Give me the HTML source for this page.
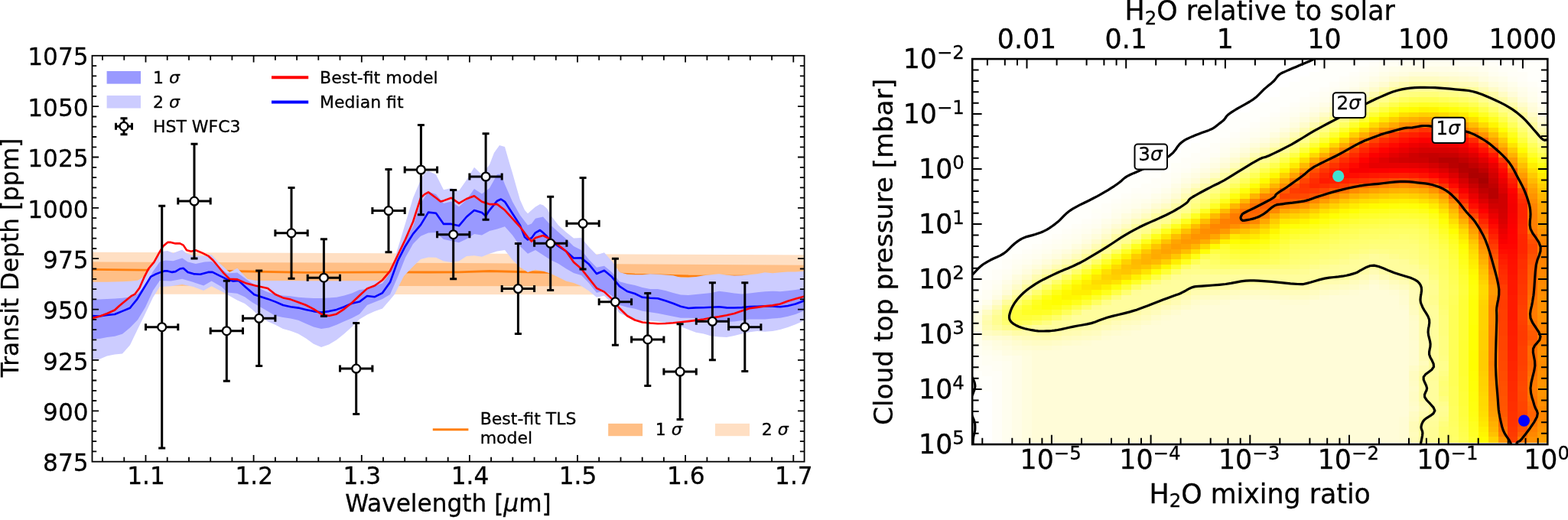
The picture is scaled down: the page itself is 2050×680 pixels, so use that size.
<!DOCTYPE html>
<html><head><meta charset="utf-8"><style>html,body{margin:0;padding:0;background:#fff;}svg{display:block;}svg text{stroke:#000;stroke-width:0.3px;}</style></head><body><svg width="2050" height="680" viewBox="0 0 2050 680" font-family="'DejaVu Sans', 'Liberation Sans', sans-serif"><rect width="2050" height="680" fill="#fff"/><defs><clipPath id="cl"><rect x="120.5" y="72.8" width="931.1" height="530.9"/></clipPath>
<clipPath id="cr"><rect x="1271.2" y="77.1" width="752.1" height="504"/></clipPath></defs>
<g clip-path="url(#cl)">
<path d="M120 329.7 L600 331.5 L1052 333.4 L1052 385.5 L120 384.7Z" fill="#ffdfc3"/>
<path d="M120 342.5 L600 344.1 L1052 346.8 L1052 374.5 L120 373.5Z" fill="#ffbf86"/>
<path d="M120 352.3 L300 354.5 L400 356.3 L500 355.8 L560 356 L600 355.9 L640 354.5 L700 356 L800 357.5 L830 359.2 L900 361 L950 361.1 L1052 361" fill="none" stroke="#ff7f0e" stroke-width="2.8"/>
<path d="M120 368.8 L130 368.8 L140 368.8 L150 368.4 L160 368.2 L170 367.8 L180 366.8 L190 360.6 L198.5 348.5 L205.9 336.8 L213.2 328.7 L219.1 327.9 L226.5 330.9 L238.2 326.5 L244.1 331.6 L252.9 334.6 L267.6 334.6 L276.5 333.1 L286.8 344.1 L300 355.9 L310.3 350.7 L323.5 364.7 L333.8 366.9 L400 367.3 L480 367.3 L500 367.3 L507 367 L520 325 L530 292 L540 259 L550 235.3 L555 225.9 L560 223.5 L570 228.2 L580 248.2 L590 245.9 L600 249.4 L610 235.3 L620 218.7 L630 228.5 L640 215.3 L646 199.8 L653 189.9 L660 192.1 L666 213.1 L670 226.3 L675 243.9 L680 261.6 L686 274.8 L690 279.2 L695 274.8 L700 270.4 L706 267.1 L710 268.2 L715 272.6 L720 281.4 L730 294.6 L740 303.5 L750 311.5 L760 311 L770 322.9 L780 333.2 L790 330.2 L800 341.5 L810 355.9 L820 358.7 L830 359.2 L840 359.2 L850 358.2 L860 358.7 L870 359.6 L880 360.2 L890 363 L900 363 L910 362.1 L920 360.2 L930 359.2 L940 358.2 L950 359.7 L960 360.6 L970 360.2 L980 359.2 L990 358.3 L1000 356.3 L1010 357.3 L1020 356.3 L1030 355.4 L1040 355.4 L1052 354.4 L1052 419 L1040 424.3 L1030 428.1 L1020 431 L1010 432.9 L1000 433.8 L990 432.9 L980 434.2 L970 436.6 L960 439 L950 440.9 L940 440.5 L930 439.5 L920 436.6 L910 434.7 L900 430.9 L890 427.1 L880 421.3 L870 422.3 L860 420.4 L850 419.4 L840 419.4 L830 418.5 L820 414 L810 409.4 L800 397.1 L790 386.8 L780 388.8 L770 380.6 L760 374 L750 370 L740 367.4 L730 362.5 L720 357.7 L710 354.4 L700 352.8 L690 356.1 L680 349.6 L670 339.9 L660 326.9 L650 328.5 L640 331.8 L630 335.8 L620 334.2 L610 335 L600 341.5 L590 343.1 L580 341.5 L570 336.8 L560 336.4 L550 339 L542 346.5 L528 361 L516 384.7 L510 392 L500 403.5 L490 407 L480 411.5 L470 417.4 L460 427.6 L450 436.5 L440 444.6 L430 450.4 L420 454.1 L410 449.7 L400 442.4 L390 436.5 L380 432.8 L370 429.9 L360 424.7 L350 420.3 L340 414.4 L330 405 L320 397.1 L310 392.6 L297.1 385.3 L289.7 380.9 L276.5 374.3 L266.2 380.1 L252.9 375 L238.2 372.1 L223.5 374.3 L208.8 375 L200 389 L190 410 L180 430.6 L170 451.2 L160 462.5 L150 463.5 L140 465.6 L130 469.7 L120 471.7Z" fill="#ccccff"/>
<path d="M120 391.5 L130 391.5 L140 391.1 L150 390.4 L160 389.8 L170 388.4 L180 384.3 L190 372.9 L200 355 L208.8 342.6 L216.2 340.4 L226.5 341.2 L238.2 337.5 L245.6 342.6 L255.9 344.9 L267.6 342.6 L276.5 341.9 L286.8 350 L297.1 357.4 L310.3 356.6 L323.5 366.2 L340 377.6 L350 382.1 L360 385 L370 386.5 L380 387.2 L390 388.7 L400 389.4 L410 389.9 L420 390.1 L430 389.4 L440 388.7 L450 386.5 L460 383.5 L470 379.1 L480 378 L490 374 L500 370.5 L510 357 L520 332 L530 314 L540 296 L550 266 L560 250.6 L570 254.1 L580 265.9 L590 263.5 L600 270.6 L610 261.2 L620 247 L630 253.5 L640 246.1 L650 228 L655 227.4 L660 241 L670 263.8 L680 281.4 L690 294.6 L695 292.4 L700 285.8 L710 283.6 L720 294.6 L730 303.5 L740 312.3 L750 322 L760 327.1 L770 339.4 L780 349.7 L790 347.7 L800 355.9 L810 368.3 L820 371 L830 373 L840 375.9 L850 378 L860 378 L870 380 L880 383 L890 385.4 L900 386 L910 385 L920 384.1 L930 383.1 L940 380.8 L950 382.1 L960 383.6 L970 384.5 L980 383.6 L990 382.2 L1000 381.2 L1010 380.8 L1020 381.2 L1030 380.3 L1040 378.9 L1052 377 L1052 406 L1040 410.9 L1030 413.7 L1020 415.7 L1010 416.6 L1000 417.6 L990 417.6 L980 417.6 L970 419 L960 420.4 L950 420.8 L940 420.4 L930 419.4 L920 417.5 L910 416.1 L900 415.7 L890 415.7 L880 413.8 L870 411.8 L860 409.8 L850 408.3 L840 406.7 L830 403.7 L820 401.8 L810 399.1 L800 386.8 L790 380.6 L780 382.7 L770 370.3 L760 360 L750 357 L740 351.2 L730 344.7 L720 339.9 L710 333.4 L700 326.9 L690 331.8 L680 322.1 L670 307.5 L660 296.2 L650 299.4 L640 302 L630 307.5 L620 306 L610 312.4 L600 317.2 L590 315 L580 313 L570 304 L560 304.5 L550 308.8 L540 319.1 L530 336.8 L520 362 L510 385 L500 391 L490 395 L480 399 L470 410.7 L460 415.9 L450 420.3 L440 424.7 L430 428.4 L420 429.9 L410 427.6 L400 423.2 L390 418.8 L380 416.6 L370 415.1 L360 412.9 L350 407.1 L340 401.2 L330 395.5 L320 388.2 L310 383.8 L297.1 382.4 L289.7 375 L276.5 367.6 L266.2 373.5 L252.9 369.1 L238.2 364.7 L223.5 367.6 L208.8 366.9 L200 380 L190 401.8 L180 418.2 L170 428.5 L160 436.7 L150 439.8 L140 440.9 L130 442.9 L120 442.9Z" fill="#9999ff"/>
<path d="M120 413.1 L130 413.5 L140 412 L150 411 L160 406.9 L170 402.8 L172.1 400 L179.4 391.2 L188.2 376.5 L197.1 361.8 L202.9 358.8 L210.3 355.9 L214.7 354.4 L219.1 354.4 L225 355.9 L229.4 355.1 L235.3 351.5 L239.7 350.7 L245.6 355.9 L252.9 358.1 L261.8 358.8 L272.1 355.9 L277.9 355.9 L286.8 360.3 L297.1 365.4 L304.4 367.6 L311.8 366.9 L320.6 375 L332.4 385.3 L350 390.9 L360 394.6 L370 399 L380 401.2 L390 402.6 L400 404.9 L410 407.1 L420 408.5 L430 407.1 L440 404.9 L450 401.2 L460 396.8 L470 394.6 L480 387 L490 388.2 L500 383.1 L510 369.1 L520 341.2 L530 321.7 L540 305.9 L550 294.1 L560 277.6 L570 278.8 L580 292.9 L590 292.9 L600 295.3 L610 283.5 L620 275 L630 278.1 L635 282.5 L640 274.8 L650 262.7 L655 260.5 L660 263.8 L670 279.2 L680 294.6 L686 310.1 L690 313.4 L695 311.2 L700 304.3 L706 301 L710 304.3 L715 309 L720 314.5 L730 322 L740 328.5 L750 337.5 L760 337.4 L770 345.6 L780 358 L790 353.8 L800 362.1 L810 374.4 L820 381 L830 384 L840 388.8 L850 389.8 L860 390.2 L870 393.3 L880 396.8 L890 400.7 L900 403 L910 402.4 L920 402.2 L930 401.8 L940 401.3 L950 402.4 L960 402.5 L970 402.1 L980 401 L990 400.7 L1000 400.4 L1010 400.4 L1020 401.3 L1030 400 L1040 397.5 L1052 393" fill="none" stroke="#0000ff" stroke-width="2.6" stroke-linejoin="round"/>
<path d="M120 416.2 L130 413.7 L140 410 L150 405.5 L155.9 400 L172.1 386.8 L176.5 384.6 L182.4 376.5 L188.2 363.2 L194.1 351.5 L201.5 342.6 L208.8 329.4 L213.2 322.1 L219.1 316.9 L223.5 316.9 L229.4 318.4 L235.3 318.4 L239.7 320.6 L244.1 327.2 L250 328.7 L255.9 327.2 L264.7 330.9 L272.1 334.6 L277.9 339.7 L285.3 348.5 L292.6 357.4 L300 364.7 L310.3 365.4 L322.1 370.6 L333.8 373.5 L350 376.9 L360 385 L370 389.4 L380 391.6 L390 395.3 L400 399 L410 404.1 L420 410.7 L430 412.9 L440 410.7 L450 404.1 L460 396 L470 386.5 L480 377.4 L490 373.5 L500 366.2 L510 354.4 L520 333.8 L530 313 L540 290 L550 258.8 L555 254.1 L560 251.3 L570 258.8 L576 263.5 L580 262.4 L590 258.8 L600 265.9 L610 260 L620 256.3 L630 263.7 L640 267.1 L650 267.1 L660 274.8 L670 285.8 L680 296.8 L690 310.1 L695 315.6 L700 311 L710 308 L720 313 L730 320.5 L740 328.5 L750 342.8 L760 351.5 L770 364.1 L780 376.8 L790 381.6 L800 390.9 L810 403.3 L820 413 L830 418.5 L840 421.5 L850 422.5 L860 423.2 L870 423 L880 422.3 L890 421.3 L900 420.1 L910 418.9 L920 417.5 L930 415.6 L940 414.1 L950 412.3 L960 409.9 L970 406.5 L980 403.2 L990 401.9 L1000 400.4 L1010 399.4 L1020 397.5 L1030 393.7 L1040 390.8 L1052 387.5" fill="none" stroke="#ff0000" stroke-width="2.6" stroke-linejoin="round"/>
</g>
<path d="M211.7 269.2V586.1M190.5 427.7H232.8M207.2 269.2H216.2M207.2 586.1H216.2M190.5 423.2V432.2M232.8 423.2V432.2M254 188.3V338M232.8 263.1H275.2M249.5 188.3H258.5M249.5 338H258.5M232.8 258.6V267.6M275.2 258.6V267.6M296.3 367.2V498.3M275.2 432.7H317.5M291.8 367.2H300.8M291.8 498.3H300.8M275.2 428.2V437.2M317.5 428.2V437.2M338.7 353.9V478.6M317.5 416.3H359.9M334.2 353.9H343.2M334.2 478.6H343.2M317.5 411.8V420.8M359.9 411.8V420.8M381 245.4V364.3M359.9 304.8H402.2M376.5 245.4H385.5M376.5 364.3H385.5M359.9 300.3V309.3M402.2 300.3V309.3M423.4 312.8V413.6M402.2 363.2H444.5M418.9 312.8H427.9M418.9 413.6H427.9M402.2 358.7V367.7M444.5 358.7V367.7M465.7 422.6V541.5M444.5 482.1H486.9M461.2 422.6H470.2M461.2 541.5H470.2M444.5 477.6V486.6M486.9 477.6V486.6M508 221.5V329.8M486.9 275.6H529.2M503.5 221.5H512.5M503.5 329.8H512.5M486.9 271.1V280.1M529.2 271.1V280.1M550.4 163.4V280.7M529.2 222H571.6M545.9 163.4H554.9M545.9 280.7H554.9M529.2 217.5V226.5M571.6 217.5V226.5M592.7 248.5V364.8M571.6 306.7H613.9M588.2 248.5H597.2M588.2 364.8H597.2M571.6 302.2V311.2M613.9 302.2V311.2M635.1 174.8V287.3M613.9 231H656.2M630.6 174.8H639.6M630.6 287.3H639.6M613.9 226.5V235.5M656.2 226.5V235.5M677.4 318.6V436.4M656.2 377.5H698.6M672.9 318.6H681.9M672.9 436.4H681.9M656.2 373V382M698.6 373V382M719.7 257.3V379.4M698.6 318.3H740.9M715.2 257.3H724.2M715.2 379.4H724.2M698.6 313.8V322.8M740.9 313.8V322.8M762.1 232.6V352.1M740.9 292.3H783.2M757.6 232.6H766.6M757.6 352.1H766.6M740.9 287.8V296.8M783.2 287.8V296.8M804.4 338.2V451.3M783.2 394.8H825.6M799.9 338.2H808.9M799.9 451.3H808.9M783.2 390.3V399.3M825.6 390.3V399.3M846.8 383.4V504.4M825.6 443.9H867.9M842.3 383.4H851.3M842.3 504.4H851.3M825.6 439.4V448.4M867.9 439.4V448.4M889.1 423.7V548.4M867.9 486.1H910.3M884.6 423.7H893.6M884.6 548.4H893.6M867.9 481.6V490.6M910.3 481.6V490.6M931.4 369.8V470.7M910.3 420.3H952.6M926.9 369.8H935.9M926.9 470.7H935.9M910.3 415.8V424.8M952.6 415.8V424.8M973.8 369.8V485.5M952.6 427.7H994.9M969.3 369.8H978.3M969.3 485.5H978.3M952.6 423.2V432.2M994.9 423.2V432.2" stroke="#000" stroke-width="3" fill="none"/>
<circle cx="211.7" cy="427.7" r="5.4" fill="#fff" stroke="#000" stroke-width="2.3"/>
<circle cx="254" cy="263.1" r="5.4" fill="#fff" stroke="#000" stroke-width="2.3"/>
<circle cx="296.3" cy="432.7" r="5.4" fill="#fff" stroke="#000" stroke-width="2.3"/>
<circle cx="338.7" cy="416.3" r="5.4" fill="#fff" stroke="#000" stroke-width="2.3"/>
<circle cx="381" cy="304.8" r="5.4" fill="#fff" stroke="#000" stroke-width="2.3"/>
<circle cx="423.4" cy="363.2" r="5.4" fill="#fff" stroke="#000" stroke-width="2.3"/>
<circle cx="465.7" cy="482.1" r="5.4" fill="#fff" stroke="#000" stroke-width="2.3"/>
<circle cx="508" cy="275.6" r="5.4" fill="#fff" stroke="#000" stroke-width="2.3"/>
<circle cx="550.4" cy="222" r="5.4" fill="#fff" stroke="#000" stroke-width="2.3"/>
<circle cx="592.7" cy="306.7" r="5.4" fill="#fff" stroke="#000" stroke-width="2.3"/>
<circle cx="635.1" cy="231" r="5.4" fill="#fff" stroke="#000" stroke-width="2.3"/>
<circle cx="677.4" cy="377.5" r="5.4" fill="#fff" stroke="#000" stroke-width="2.3"/>
<circle cx="719.7" cy="318.3" r="5.4" fill="#fff" stroke="#000" stroke-width="2.3"/>
<circle cx="762.1" cy="292.3" r="5.4" fill="#fff" stroke="#000" stroke-width="2.3"/>
<circle cx="804.4" cy="394.8" r="5.4" fill="#fff" stroke="#000" stroke-width="2.3"/>
<circle cx="846.8" cy="443.9" r="5.4" fill="#fff" stroke="#000" stroke-width="2.3"/>
<circle cx="889.1" cy="486.1" r="5.4" fill="#fff" stroke="#000" stroke-width="2.3"/>
<circle cx="931.4" cy="420.3" r="5.4" fill="#fff" stroke="#000" stroke-width="2.3"/>
<circle cx="973.8" cy="427.7" r="5.4" fill="#fff" stroke="#000" stroke-width="2.3"/>
<rect x="120.5" y="72.8" width="931.1" height="530.9" fill="none" stroke="#000" stroke-width="1.8"/>
<path d="M120.5 590.4h5.7M1051.6 590.4h-5.7M120.5 577.1h5.7M1051.6 577.1h-5.7M120.5 563.8h5.7M1051.6 563.8h-5.7M120.5 550.6h5.7M1051.6 550.6h-5.7M120.5 537.3h8.6M1051.6 537.3h-8.6M120.5 524h5.7M1051.6 524h-5.7M120.5 510.8h5.7M1051.6 510.8h-5.7M120.5 497.5h5.7M1051.6 497.5h-5.7M120.5 484.2h5.7M1051.6 484.2h-5.7M120.5 470.9h8.6M1051.6 470.9h-8.6M120.5 457.7h5.7M1051.6 457.7h-5.7M120.5 444.4h5.7M1051.6 444.4h-5.7M120.5 431.1h5.7M1051.6 431.1h-5.7M120.5 417.9h5.7M1051.6 417.9h-5.7M120.5 404.6h8.6M1051.6 404.6h-8.6M120.5 391.3h5.7M1051.6 391.3h-5.7M120.5 378.1h5.7M1051.6 378.1h-5.7M120.5 364.8h5.7M1051.6 364.8h-5.7M120.5 351.5h5.7M1051.6 351.5h-5.7M120.5 338.2h8.6M1051.6 338.2h-8.6M120.5 325h5.7M1051.6 325h-5.7M120.5 311.7h5.7M1051.6 311.7h-5.7M120.5 298.4h5.7M1051.6 298.4h-5.7M120.5 285.2h5.7M1051.6 285.2h-5.7M120.5 271.9h8.6M1051.6 271.9h-8.6M120.5 258.6h5.7M1051.6 258.6h-5.7M120.5 245.4h5.7M1051.6 245.4h-5.7M120.5 232.1h5.7M1051.6 232.1h-5.7M120.5 218.8h5.7M1051.6 218.8h-5.7M120.5 205.5h8.6M1051.6 205.5h-8.6M120.5 192.3h5.7M1051.6 192.3h-5.7M120.5 179h5.7M1051.6 179h-5.7M120.5 165.7h5.7M1051.6 165.7h-5.7M120.5 152.5h5.7M1051.6 152.5h-5.7M120.5 139.2h8.6M1051.6 139.2h-8.6M120.5 125.9h5.7M1051.6 125.9h-5.7M120.5 112.7h5.7M1051.6 112.7h-5.7M120.5 99.4h5.7M1051.6 99.4h-5.7M120.5 86.1h5.7M1051.6 86.1h-5.7M134 603.7v-5.9M134 72.8v5.9M162.3 603.7v-5.9M162.3 72.8v5.9M190.5 603.7v-8.6M190.5 72.8v8.6M218.7 603.7v-5.9M218.7 72.8v5.9M247 603.7v-5.9M247 72.8v5.9M275.2 603.7v-5.9M275.2 72.8v5.9M303.4 603.7v-5.9M303.4 72.8v5.9M331.6 603.7v-8.6M331.6 72.8v8.6M359.9 603.7v-5.9M359.9 72.8v5.9M388.1 603.7v-5.9M388.1 72.8v5.9M416.3 603.7v-5.9M416.3 72.8v5.9M444.5 603.7v-5.9M444.5 72.8v5.9M472.8 603.7v-8.6M472.8 72.8v8.6M501 603.7v-5.9M501 72.8v5.9M529.2 603.7v-5.9M529.2 72.8v5.9M557.4 603.7v-5.9M557.4 72.8v5.9M585.7 603.7v-5.9M585.7 72.8v5.9M613.9 603.7v-8.6M613.9 72.8v8.6M642.1 603.7v-5.9M642.1 72.8v5.9M670.3 603.7v-5.9M670.3 72.8v5.9M698.6 603.7v-5.9M698.6 72.8v5.9M726.8 603.7v-5.9M726.8 72.8v5.9M755 603.7v-8.6M755 72.8v8.6M783.2 603.7v-5.9M783.2 72.8v5.9M811.5 603.7v-5.9M811.5 72.8v5.9M839.7 603.7v-5.9M839.7 72.8v5.9M867.9 603.7v-5.9M867.9 72.8v5.9M896.1 603.7v-8.6M896.1 72.8v8.6M924.4 603.7v-5.9M924.4 72.8v5.9M952.6 603.7v-5.9M952.6 72.8v5.9M980.8 603.7v-5.9M980.8 72.8v5.9M1009.1 603.7v-5.9M1009.1 72.8v5.9M1037.3 603.7v-8.6M1037.3 72.8v8.6" stroke="#000" stroke-width="1.8" fill="none"/>
<text x="115.6" y="616.2" font-size="31.2" text-anchor="end">875</text>
<text x="115.6" y="549.9" font-size="31.2" text-anchor="end">900</text>
<text x="115.6" y="483.5" font-size="31.2" text-anchor="end">925</text>
<text x="115.6" y="417.2" font-size="31.2" text-anchor="end">950</text>
<text x="115.6" y="350.9" font-size="31.2" text-anchor="end">975</text>
<text x="115.6" y="284.5" font-size="31.2" text-anchor="end">1000</text>
<text x="115.6" y="218.1" font-size="31.2" text-anchor="end">1025</text>
<text x="115.6" y="151.8" font-size="31.2" text-anchor="end">1050</text>
<text x="115.6" y="85.4" font-size="31.2" text-anchor="end">1075</text>
<text x="191.1" y="632.6" font-size="31.2" text-anchor="middle">1.1</text>
<text x="332.2" y="632.6" font-size="31.2" text-anchor="middle">1.2</text>
<text x="473.4" y="632.6" font-size="31.2" text-anchor="middle">1.3</text>
<text x="614.5" y="632.6" font-size="31.2" text-anchor="middle">1.4</text>
<text x="755.6" y="632.6" font-size="31.2" text-anchor="middle">1.5</text>
<text x="896.8" y="632.6" font-size="31.2" text-anchor="middle">1.6</text>
<text x="1037.9" y="632.6" font-size="31.2" text-anchor="middle">1.7</text>
<text x="586" y="669.2" font-size="31.2" text-anchor="middle">Wavelength [<tspan font-style="italic">μ</tspan>m]</text>
<text transform="translate(23.8 337.0) rotate(-90)" font-size="31.2" text-anchor="middle">Transit Depth [ppm]</text>
<rect x="139.6" y="93" width="44.4" height="16.6" fill="#9999ff"/>
<rect x="139.6" y="124.9" width="44.4" height="16.6" fill="#ccccff"/>
<text x="199.9" y="108.7" font-size="22">1 <tspan font-style="italic">σ</tspan></text>
<text x="199.9" y="140.6" font-size="22">2 <tspan font-style="italic">σ</tspan></text>
<text x="199.9" y="173.1" font-size="22">HST WFC3</text>
<path d="M162 154.7V175.7M151.5 165.2H172.5M157.5 154.7H166.5M157.5 175.7H166.5M151.5 160.7V169.7M172.5 160.7V169.7" stroke="#000" stroke-width="3" fill="none"/>
<circle cx="162" cy="165.2" r="5.4" fill="#fff" stroke="#000" stroke-width="2.3"/>
<path d="M355 101.3H403.2" stroke="#ff0000" stroke-width="4"/>
<path d="M355 133.4H403.2" stroke="#0000ff" stroke-width="4"/>
<text x="418.1" y="108.7" font-size="22">Best-fit model</text>
<text x="418.1" y="140.6" font-size="22">Median fit</text>
<path d="M565.8 561.8H612.4" stroke="#ff7f0e" stroke-width="2.9"/>
<text x="627.7" y="555.1" font-size="22">Best-fit TLS</text>
<text x="627.7" y="579.7" font-size="22">model</text>
<rect x="795.2" y="553.9" width="44.9" height="16.3" fill="#ffbf86"/>
<rect x="935" y="553.9" width="45" height="16.3" fill="#ffdfc3"/>
<text x="856.7" y="569" font-size="22">1 <tspan font-style="italic">σ</tspan></text>
<text x="995.8" y="569" font-size="22">2 <tspan font-style="italic">σ</tspan></text>
<g clip-path="url(#cr)" shape-rendering="crispEdges"><rect x="1738" y="73.8" width="65.6" height="7.4" fill="#fffffb"/><rect x="1802.9" y="73.8" width="39.7" height="7.4" fill="#fffef7"/><rect x="1841.8" y="73.8" width="52.7" height="7.4" fill="#fffef3"/><rect x="1893.6" y="73.8" width="52.7" height="7.4" fill="#fffef7"/><rect x="1945.5" y="73.8" width="78.6" height="7.4" fill="#fffffb"/><rect x="1725.1" y="80.4" width="65.6" height="7.4" fill="#fffffb"/><rect x="1789.9" y="80.4" width="13.8" height="7.4" fill="#fffef7"/><rect x="1802.9" y="80.4" width="26.7" height="7.4" fill="#fffef3"/><rect x="1828.8" y="80.4" width="78.6" height="7.4" fill="#fffeef"/><rect x="1906.6" y="80.4" width="39.7" height="7.4" fill="#fffef3"/><rect x="1945.5" y="80.4" width="13.8" height="7.4" fill="#fffef7"/><rect x="1958.5" y="80.4" width="65.6" height="7.4" fill="#fffffb"/><rect x="1725.1" y="87" width="52.7" height="7.4" fill="#fffffb"/><rect x="1776.9" y="87" width="13.8" height="7.4" fill="#fffef7"/><rect x="1789.9" y="87" width="13.8" height="7.4" fill="#fffef3"/><rect x="1802.9" y="87" width="13.8" height="7.4" fill="#fffeef"/><rect x="1815.8" y="87" width="13.8" height="7.4" fill="#fffeeb"/><rect x="1828.8" y="87" width="13.8" height="7.4" fill="#fffee7"/><rect x="1841.8" y="87" width="52.7" height="7.4" fill="#fffde7"/><rect x="1893.6" y="87" width="13.8" height="7.4" fill="#fffee7"/><rect x="1906.6" y="87" width="26.7" height="7.4" fill="#fffeeb"/><rect x="1932.5" y="87" width="13.8" height="7.4" fill="#fffeef"/><rect x="1945.5" y="87" width="13.8" height="7.4" fill="#fffef3"/><rect x="1958.5" y="87" width="13.8" height="7.4" fill="#fffef7"/><rect x="1971.4" y="87" width="13.8" height="7.4" fill="#fffff7"/><rect x="1984.4" y="87" width="39.7" height="7.4" fill="#fffffb"/><rect x="1712.1" y="93.7" width="52.7" height="7.4" fill="#fffffb"/><rect x="1764" y="93.7" width="13.8" height="7.4" fill="#fffef7"/><rect x="1776.9" y="93.7" width="13.8" height="7.4" fill="#fffef3"/><rect x="1789.9" y="93.7" width="13.8" height="7.4" fill="#fffeef"/><rect x="1802.9" y="93.7" width="13.8" height="7.4" fill="#fffee7"/><rect x="1815.8" y="93.7" width="13.8" height="7.4" fill="#fffde3"/><rect x="1828.8" y="93.7" width="13.8" height="7.4" fill="#fffddf"/><rect x="1841.8" y="93.7" width="39.7" height="7.4" fill="#fffdd8"/><rect x="1880.7" y="93.7" width="26.7" height="7.4" fill="#fffddc"/><rect x="1906.6" y="93.7" width="13.8" height="7.4" fill="#fffddf"/><rect x="1919.6" y="93.7" width="13.8" height="7.4" fill="#fffde3"/><rect x="1932.5" y="93.7" width="13.8" height="7.4" fill="#fffde7"/><rect x="1945.5" y="93.7" width="13.8" height="7.4" fill="#fffeef"/><rect x="1958.5" y="93.7" width="13.8" height="7.4" fill="#fffef3"/><rect x="1971.4" y="93.7" width="26.7" height="7.4" fill="#fffef7"/><rect x="1997.4" y="93.7" width="26.7" height="7.4" fill="#fffffb"/><rect x="1699.1" y="100.3" width="52.7" height="7.4" fill="#fffffb"/><rect x="1751" y="100.3" width="13.8" height="7.4" fill="#fffef7"/><rect x="1764" y="100.3" width="13.8" height="7.4" fill="#fffef3"/><rect x="1776.9" y="100.3" width="13.8" height="7.4" fill="#fffeef"/><rect x="1789.9" y="100.3" width="13.8" height="7.4" fill="#fffde7"/><rect x="1802.9" y="100.3" width="13.8" height="7.4" fill="#fffddf"/><rect x="1815.8" y="100.3" width="13.8" height="7.4" fill="#fffcd4"/><rect x="1828.8" y="100.3" width="13.8" height="7.4" fill="#fffccc"/><rect x="1841.8" y="100.3" width="39.7" height="7.4" fill="#fffcc4"/><rect x="1880.7" y="100.3" width="13.8" height="7.4" fill="#fffcc8"/><rect x="1893.6" y="100.3" width="13.8" height="7.4" fill="#fffccc"/><rect x="1906.6" y="100.3" width="13.8" height="7.4" fill="#fffcd0"/><rect x="1919.6" y="100.3" width="13.8" height="7.4" fill="#fffcd4"/><rect x="1932.5" y="100.3" width="13.8" height="7.4" fill="#fffddf"/><rect x="1945.5" y="100.3" width="13.8" height="7.4" fill="#fffde7"/><rect x="1958.5" y="100.3" width="13.8" height="7.4" fill="#fffeeb"/><rect x="1971.4" y="100.3" width="13.8" height="7.4" fill="#fffef3"/><rect x="1984.4" y="100.3" width="13.8" height="7.4" fill="#fffef7"/><rect x="1997.4" y="100.3" width="26.7" height="7.4" fill="#fffffb"/><rect x="1686.2" y="106.9" width="52.7" height="7.4" fill="#fffffb"/><rect x="1738" y="106.9" width="13.8" height="7.4" fill="#fffef7"/><rect x="1751" y="106.9" width="13.8" height="7.4" fill="#fffef3"/><rect x="1764" y="106.9" width="13.8" height="7.4" fill="#fffeef"/><rect x="1776.9" y="106.9" width="13.8" height="7.4" fill="#fffde7"/><rect x="1789.9" y="106.9" width="13.8" height="7.4" fill="#fffddc"/><rect x="1802.9" y="106.9" width="13.8" height="7.4" fill="#fffcd0"/><rect x="1815.8" y="106.9" width="13.8" height="7.4" fill="#fffcbc"/><rect x="1828.8" y="106.9" width="13.8" height="7.4" fill="#fffcb0"/><rect x="1841.8" y="106.9" width="39.7" height="7.4" fill="#fffda4"/><rect x="1880.7" y="106.9" width="13.8" height="7.4" fill="#fffca8"/><rect x="1893.6" y="106.9" width="13.8" height="7.4" fill="#fffcb0"/><rect x="1906.6" y="106.9" width="13.8" height="7.4" fill="#fffcb8"/><rect x="1919.6" y="106.9" width="13.8" height="7.4" fill="#fffcbc"/><rect x="1932.5" y="106.9" width="13.8" height="7.4" fill="#fffccc"/><rect x="1945.5" y="106.9" width="13.8" height="7.4" fill="#fffddc"/><rect x="1958.5" y="106.9" width="13.8" height="7.4" fill="#fffde3"/><rect x="1971.4" y="106.9" width="13.8" height="7.4" fill="#fffeeb"/><rect x="1984.4" y="106.9" width="13.8" height="7.4" fill="#fffef3"/><rect x="1997.4" y="106.9" width="13.8" height="7.4" fill="#fffef7"/><rect x="2010.3" y="106.9" width="13.8" height="7.4" fill="#fffffb"/><rect x="1673.2" y="113.6" width="52.7" height="7.4" fill="#fffffb"/><rect x="1725.1" y="113.6" width="13.8" height="7.4" fill="#fffef7"/><rect x="1738" y="113.6" width="13.8" height="7.4" fill="#fffef3"/><rect x="1751" y="113.6" width="13.8" height="7.4" fill="#fffeef"/><rect x="1764" y="113.6" width="13.8" height="7.4" fill="#fffde7"/><rect x="1776.9" y="113.6" width="13.8" height="7.4" fill="#fffddc"/><rect x="1789.9" y="113.6" width="13.8" height="7.4" fill="#fffccc"/><rect x="1802.9" y="113.6" width="13.8" height="7.4" fill="#fffcb4"/><rect x="1815.8" y="113.6" width="13.8" height="7.4" fill="#fffd99"/><rect x="1828.8" y="113.6" width="13.8" height="7.4" fill="#fffe85"/><rect x="1841.8" y="113.6" width="52.7" height="7.4" fill="#fffd99"/><rect x="1893.6" y="113.6" width="13.8" height="7.4" fill="#fffd9d"/><rect x="1906.6" y="113.6" width="13.8" height="7.4" fill="#fffe8d"/><rect x="1919.6" y="113.6" width="13.8" height="7.4" fill="#fffd99"/><rect x="1932.5" y="113.6" width="13.8" height="7.4" fill="#fffcb4"/><rect x="1945.5" y="113.6" width="13.8" height="7.4" fill="#fffcc8"/><rect x="1958.5" y="113.6" width="13.8" height="7.4" fill="#fffcd8"/><rect x="1971.4" y="113.6" width="13.8" height="7.4" fill="#fffde3"/><rect x="1984.4" y="113.6" width="13.8" height="7.4" fill="#fffeeb"/><rect x="1997.4" y="113.6" width="13.8" height="7.4" fill="#fffef3"/><rect x="2010.3" y="113.6" width="13.8" height="7.4" fill="#fffef7"/><rect x="1673.2" y="120.2" width="39.7" height="7.4" fill="#fffffb"/><rect x="1712.1" y="120.2" width="13.8" height="7.4" fill="#fffef7"/><rect x="1725.1" y="120.2" width="13.8" height="7.4" fill="#fffef3"/><rect x="1738" y="120.2" width="13.8" height="7.4" fill="#fffeef"/><rect x="1751" y="120.2" width="13.8" height="7.4" fill="#fffde7"/><rect x="1764" y="120.2" width="13.8" height="7.4" fill="#fffddc"/><rect x="1776.9" y="120.2" width="13.8" height="7.4" fill="#fffcc8"/><rect x="1789.9" y="120.2" width="13.8" height="7.4" fill="#fffcb0"/><rect x="1802.9" y="120.2" width="13.8" height="7.4" fill="#fffd8d"/><rect x="1815.8" y="120.2" width="13.8" height="7.4" fill="#fffd95"/><rect x="1828.8" y="120.2" width="13.8" height="7.4" fill="#fffe85"/><rect x="1841.8" y="120.2" width="13.8" height="7.4" fill="#fffe7d"/><rect x="1854.7" y="120.2" width="26.7" height="7.4" fill="#fffe79"/><rect x="1880.7" y="120.2" width="13.8" height="7.4" fill="#fffe81"/><rect x="1893.6" y="120.2" width="13.8" height="7.4" fill="#fffe85"/><rect x="1906.6" y="120.2" width="13.8" height="7.4" fill="#fffe8d"/><rect x="1919.6" y="120.2" width="13.8" height="7.4" fill="#fffd95"/><rect x="1932.5" y="120.2" width="13.8" height="7.4" fill="#fffe8d"/><rect x="1945.5" y="120.2" width="13.8" height="7.4" fill="#fffca8"/><rect x="1958.5" y="120.2" width="13.8" height="7.4" fill="#fffcc4"/><rect x="1971.4" y="120.2" width="13.8" height="7.4" fill="#fffcd8"/><rect x="1984.4" y="120.2" width="13.8" height="7.4" fill="#fffde7"/><rect x="1997.4" y="120.2" width="13.8" height="7.4" fill="#fffeef"/><rect x="2010.3" y="120.2" width="13.8" height="7.4" fill="#fffef7"/><rect x="1660.2" y="126.8" width="39.7" height="7.4" fill="#fffffb"/><rect x="1699.1" y="126.8" width="13.8" height="7.4" fill="#fffef7"/><rect x="1712.1" y="126.8" width="13.8" height="7.4" fill="#fffef3"/><rect x="1725.1" y="126.8" width="13.8" height="7.4" fill="#fffeef"/><rect x="1738" y="126.8" width="13.8" height="7.4" fill="#fffde7"/><rect x="1751" y="126.8" width="13.8" height="7.4" fill="#fffddc"/><rect x="1764" y="126.8" width="13.8" height="7.4" fill="#fffcc8"/><rect x="1776.9" y="126.8" width="13.8" height="7.4" fill="#fffcac"/><rect x="1789.9" y="126.8" width="13.8" height="7.4" fill="#fffe89"/><rect x="1802.9" y="126.8" width="13.8" height="7.4" fill="#fffe8d"/><rect x="1815.8" y="126.8" width="13.8" height="7.4" fill="#ffff75"/><rect x="1828.8" y="126.8" width="13.8" height="7.4" fill="#ffff61"/><rect x="1841.8" y="126.8" width="13.8" height="7.4" fill="#ffff56"/><rect x="1854.7" y="126.8" width="26.7" height="7.4" fill="#ffff52"/><rect x="1880.7" y="126.8" width="13.8" height="7.4" fill="#ffff5a"/><rect x="1893.6" y="126.8" width="13.8" height="7.4" fill="#ffff61"/><rect x="1906.6" y="126.8" width="13.8" height="7.4" fill="#ffff69"/><rect x="1919.6" y="126.8" width="13.8" height="7.4" fill="#fffe75"/><rect x="1932.5" y="126.8" width="13.8" height="7.4" fill="#fffe8d"/><rect x="1945.5" y="126.8" width="13.8" height="7.4" fill="#fffd9d"/><rect x="1958.5" y="126.8" width="13.8" height="7.4" fill="#fffca8"/><rect x="1971.4" y="126.8" width="13.8" height="7.4" fill="#fffcc4"/><rect x="1984.4" y="126.8" width="13.8" height="7.4" fill="#fffddc"/><rect x="1997.4" y="126.8" width="13.8" height="7.4" fill="#fffeeb"/><rect x="2010.3" y="126.8" width="13.8" height="7.4" fill="#fffef3"/><rect x="1647.2" y="133.5" width="39.7" height="7.4" fill="#fffffb"/><rect x="1686.2" y="133.5" width="13.8" height="7.4" fill="#fffef7"/><rect x="1699.1" y="133.5" width="13.8" height="7.4" fill="#fffef3"/><rect x="1712.1" y="133.5" width="13.8" height="7.4" fill="#fffeef"/><rect x="1725.1" y="133.5" width="13.8" height="7.4" fill="#fffde7"/><rect x="1738" y="133.5" width="13.8" height="7.4" fill="#fffddc"/><rect x="1751" y="133.5" width="13.8" height="7.4" fill="#fffcc8"/><rect x="1764" y="133.5" width="13.8" height="7.4" fill="#fffcac"/><rect x="1776.9" y="133.5" width="13.8" height="7.4" fill="#fffe85"/><rect x="1789.9" y="133.5" width="13.8" height="7.4" fill="#fffe89"/><rect x="1802.9" y="133.5" width="13.8" height="7.4" fill="#ffff69"/><rect x="1815.8" y="133.5" width="13.8" height="7.4" fill="#ffff4e"/><rect x="1828.8" y="133.5" width="13.8" height="7.4" fill="#ffff36"/><rect x="1841.8" y="133.5" width="13.8" height="7.4" fill="#ffff2a"/><rect x="1854.7" y="133.5" width="13.8" height="7.4" fill="#ffff22"/><rect x="1867.7" y="133.5" width="13.8" height="7.4" fill="#ffff26"/><rect x="1880.7" y="133.5" width="13.8" height="7.4" fill="#ffff2e"/><rect x="1893.6" y="133.5" width="13.8" height="7.4" fill="#ffff36"/><rect x="1906.6" y="133.5" width="13.8" height="7.4" fill="#ffff42"/><rect x="1919.6" y="133.5" width="13.8" height="7.4" fill="#ffff52"/><rect x="1932.5" y="133.5" width="13.8" height="7.4" fill="#ffff6d"/><rect x="1945.5" y="133.5" width="13.8" height="7.4" fill="#fffe89"/><rect x="1958.5" y="133.5" width="13.8" height="7.4" fill="#fffd9d"/><rect x="1971.4" y="133.5" width="13.8" height="7.4" fill="#fffcac"/><rect x="1984.4" y="133.5" width="13.8" height="7.4" fill="#fffccc"/><rect x="1997.4" y="133.5" width="13.8" height="7.4" fill="#fffddf"/><rect x="2010.3" y="133.5" width="13.8" height="7.4" fill="#fffeef"/><rect x="1634.3" y="140.1" width="39.7" height="7.4" fill="#fffffb"/><rect x="1673.2" y="140.1" width="13.8" height="7.4" fill="#fffef7"/><rect x="1686.2" y="140.1" width="13.8" height="7.4" fill="#fffef3"/><rect x="1699.1" y="140.1" width="13.8" height="7.4" fill="#fffeef"/><rect x="1712.1" y="140.1" width="13.8" height="7.4" fill="#fffde7"/><rect x="1725.1" y="140.1" width="13.8" height="7.4" fill="#fffddc"/><rect x="1738" y="140.1" width="13.8" height="7.4" fill="#fffcc8"/><rect x="1751" y="140.1" width="13.8" height="7.4" fill="#fffcac"/><rect x="1764" y="140.1" width="26.7" height="7.4" fill="#fffe85"/><rect x="1789.9" y="140.1" width="13.8" height="7.4" fill="#ffff61"/><rect x="1802.9" y="140.1" width="13.8" height="7.4" fill="#ffff42"/><rect x="1815.8" y="140.1" width="13.8" height="7.4" fill="#ffff22"/><rect x="1828.8" y="140.1" width="13.8" height="7.4" fill="#ffff07"/><rect x="1841.8" y="140.1" width="13.8" height="7.4" fill="#fffc00"/><rect x="1854.7" y="140.1" width="13.8" height="7.4" fill="#fff400"/><rect x="1867.7" y="140.1" width="13.8" height="7.4" fill="#fff600"/><rect x="1880.7" y="140.1" width="13.8" height="7.4" fill="#fffe00"/><rect x="1893.6" y="140.1" width="13.8" height="7.4" fill="#ffff0b"/><rect x="1906.6" y="140.1" width="13.8" height="7.4" fill="#ffff17"/><rect x="1919.6" y="140.1" width="13.8" height="7.4" fill="#ffff2a"/><rect x="1932.5" y="140.1" width="13.8" height="7.4" fill="#ffff4a"/><rect x="1945.5" y="140.1" width="13.8" height="7.4" fill="#ffff69"/><rect x="1958.5" y="140.1" width="13.8" height="7.4" fill="#fffe89"/><rect x="1971.4" y="140.1" width="13.8" height="7.4" fill="#fffe85"/><rect x="1984.4" y="140.1" width="13.8" height="7.4" fill="#fffcb8"/><rect x="1997.4" y="140.1" width="13.8" height="7.4" fill="#fffcd8"/><rect x="2010.3" y="140.1" width="13.8" height="7.4" fill="#fffee7"/><rect x="1621.3" y="146.7" width="39.7" height="7.4" fill="#fffffb"/><rect x="1660.2" y="146.7" width="13.8" height="7.4" fill="#fffef7"/><rect x="1673.2" y="146.7" width="13.8" height="7.4" fill="#fffef3"/><rect x="1686.2" y="146.7" width="13.8" height="7.4" fill="#fffeef"/><rect x="1699.1" y="146.7" width="13.8" height="7.4" fill="#fffde7"/><rect x="1712.1" y="146.7" width="13.8" height="7.4" fill="#fffddc"/><rect x="1725.1" y="146.7" width="13.8" height="7.4" fill="#fffcc8"/><rect x="1738" y="146.7" width="13.8" height="7.4" fill="#fffcb0"/><rect x="1751" y="146.7" width="26.7" height="7.4" fill="#fffe85"/><rect x="1776.9" y="146.7" width="13.8" height="7.4" fill="#ffff61"/><rect x="1789.9" y="146.7" width="13.8" height="7.4" fill="#ffff36"/><rect x="1802.9" y="146.7" width="13.8" height="7.4" fill="#ffff13"/><rect x="1815.8" y="146.7" width="13.8" height="7.4" fill="#fff400"/><rect x="1828.8" y="146.7" width="13.8" height="7.4" fill="#ffdf00"/><rect x="1841.8" y="146.7" width="13.8" height="7.4" fill="#ffd700"/><rect x="1854.7" y="146.7" width="13.8" height="7.4" fill="#ffcf00"/><rect x="1867.7" y="146.7" width="13.8" height="7.4" fill="#ffd200"/><rect x="1880.7" y="146.7" width="13.8" height="7.4" fill="#ffda00"/><rect x="1893.6" y="146.7" width="13.8" height="7.4" fill="#ffe400"/><rect x="1906.6" y="146.7" width="13.8" height="7.4" fill="#ffec00"/><rect x="1919.6" y="146.7" width="13.8" height="7.4" fill="#fffe00"/><rect x="1932.5" y="146.7" width="13.8" height="7.4" fill="#ffff22"/><rect x="1945.5" y="146.7" width="13.8" height="7.4" fill="#ffff46"/><rect x="1958.5" y="146.7" width="13.8" height="7.4" fill="#ffff69"/><rect x="1971.4" y="146.7" width="13.8" height="7.4" fill="#fffd8d"/><rect x="1984.4" y="146.7" width="13.8" height="7.4" fill="#fffd99"/><rect x="1997.4" y="146.7" width="13.8" height="7.4" fill="#fffcc8"/><rect x="2010.3" y="146.7" width="13.8" height="7.4" fill="#fffde3"/><rect x="1608.3" y="153.4" width="39.7" height="7.4" fill="#fffffb"/><rect x="1647.2" y="153.4" width="13.8" height="7.4" fill="#fffef7"/><rect x="1660.2" y="153.4" width="13.8" height="7.4" fill="#fffef3"/><rect x="1673.2" y="153.4" width="13.8" height="7.4" fill="#fffeef"/><rect x="1686.2" y="153.4" width="13.8" height="7.4" fill="#fffde7"/><rect x="1699.1" y="153.4" width="13.8" height="7.4" fill="#fffddc"/><rect x="1712.1" y="153.4" width="13.8" height="7.4" fill="#fffccc"/><rect x="1725.1" y="153.4" width="13.8" height="7.4" fill="#fffcb0"/><rect x="1738" y="153.4" width="26.7" height="7.4" fill="#fffe85"/><rect x="1764" y="153.4" width="13.8" height="7.4" fill="#ffff5e"/><rect x="1776.9" y="153.4" width="13.8" height="7.4" fill="#ffff32"/><rect x="1789.9" y="153.4" width="13.8" height="7.4" fill="#ffff03"/><rect x="1802.9" y="153.4" width="13.8" height="7.4" fill="#ffe700"/><rect x="1815.8" y="153.4" width="13.8" height="7.4" fill="#ffcf00"/><rect x="1828.8" y="153.4" width="13.8" height="7.4" fill="#ffba00"/><rect x="1841.8" y="153.4" width="13.8" height="7.4" fill="#ffb200"/><rect x="1854.7" y="153.4" width="13.8" height="7.4" fill="#ffa800"/><rect x="1867.7" y="153.4" width="13.8" height="7.4" fill="#ffaa00"/><rect x="1880.7" y="153.4" width="13.8" height="7.4" fill="#ffb500"/><rect x="1893.6" y="153.4" width="13.8" height="7.4" fill="#ffbf00"/><rect x="1906.6" y="153.4" width="13.8" height="7.4" fill="#ffca00"/><rect x="1919.6" y="153.4" width="13.8" height="7.4" fill="#ffdf00"/><rect x="1932.5" y="153.4" width="13.8" height="7.4" fill="#fff900"/><rect x="1945.5" y="153.4" width="13.8" height="7.4" fill="#ffff1f"/><rect x="1958.5" y="153.4" width="13.8" height="7.4" fill="#ffff4a"/><rect x="1971.4" y="153.4" width="13.8" height="7.4" fill="#fffe75"/><rect x="1984.4" y="153.4" width="13.8" height="7.4" fill="#fffd99"/><rect x="1997.4" y="153.4" width="13.8" height="7.4" fill="#fffcb4"/><rect x="2010.3" y="153.4" width="13.8" height="7.4" fill="#fffcd8"/><rect x="1595.4" y="160" width="39.7" height="7.4" fill="#fffffb"/><rect x="1634.3" y="160" width="13.8" height="7.4" fill="#fffef7"/><rect x="1647.2" y="160" width="13.8" height="7.4" fill="#fffef3"/><rect x="1660.2" y="160" width="13.8" height="7.4" fill="#fffeef"/><rect x="1673.2" y="160" width="13.8" height="7.4" fill="#fffeeb"/><rect x="1686.2" y="160" width="13.8" height="7.4" fill="#fffddf"/><rect x="1699.1" y="160" width="13.8" height="7.4" fill="#fffccc"/><rect x="1712.1" y="160" width="13.8" height="7.4" fill="#fffcb0"/><rect x="1725.1" y="160" width="13.8" height="7.4" fill="#fffe89"/><rect x="1738" y="160" width="13.8" height="7.4" fill="#fffe85"/><rect x="1751" y="160" width="13.8" height="7.4" fill="#ffff5e"/><rect x="1764" y="160" width="13.8" height="7.4" fill="#ffff2e"/><rect x="1776.9" y="160" width="13.8" height="7.4" fill="#fffc00"/><rect x="1789.9" y="160" width="13.8" height="7.4" fill="#ffdc00"/><rect x="1802.9" y="160" width="13.8" height="7.4" fill="#ffbf00"/><rect x="1815.8" y="160" width="13.8" height="7.4" fill="#ffa800"/><rect x="1828.8" y="160" width="13.8" height="7.4" fill="#ff9000"/><rect x="1841.8" y="160" width="13.8" height="7.4" fill="#ff8800"/><rect x="1854.7" y="160" width="13.8" height="7.4" fill="#ff7e00"/><rect x="1867.7" y="160" width="13.8" height="7.4" fill="#ff8300"/><rect x="1880.7" y="160" width="13.8" height="7.4" fill="#ff8e00"/><rect x="1893.6" y="160" width="13.8" height="7.4" fill="#ff9800"/><rect x="1906.6" y="160" width="13.8" height="7.4" fill="#ffa200"/><rect x="1919.6" y="160" width="13.8" height="7.4" fill="#ffbd00"/><rect x="1932.5" y="160" width="13.8" height="7.4" fill="#ffda00"/><rect x="1945.5" y="160" width="13.8" height="7.4" fill="#fff600"/><rect x="1958.5" y="160" width="13.8" height="7.4" fill="#ffff26"/><rect x="1971.4" y="160" width="13.8" height="7.4" fill="#ffff5a"/><rect x="1984.4" y="160" width="13.8" height="7.4" fill="#fffe89"/><rect x="1997.4" y="160" width="13.8" height="7.4" fill="#fffd9d"/><rect x="2010.3" y="160" width="13.8" height="7.4" fill="#fffccc"/><rect x="1582.4" y="166.6" width="39.7" height="7.4" fill="#fffffb"/><rect x="1621.3" y="166.6" width="13.8" height="7.4" fill="#fffef7"/><rect x="1634.3" y="166.6" width="13.8" height="7.4" fill="#fffef3"/><rect x="1647.2" y="166.6" width="13.8" height="7.4" fill="#fffeef"/><rect x="1660.2" y="166.6" width="13.8" height="7.4" fill="#fffeeb"/><rect x="1673.2" y="166.6" width="13.8" height="7.4" fill="#fffddf"/><rect x="1686.2" y="166.6" width="13.8" height="7.4" fill="#fffcd0"/><rect x="1699.1" y="166.6" width="13.8" height="7.4" fill="#fffcb4"/><rect x="1712.1" y="166.6" width="13.8" height="7.4" fill="#fffe89"/><rect x="1725.1" y="166.6" width="13.8" height="7.4" fill="#fffe85"/><rect x="1738" y="166.6" width="13.8" height="7.4" fill="#ffff5e"/><rect x="1751" y="166.6" width="13.8" height="7.4" fill="#ffff2e"/><rect x="1764" y="166.6" width="13.8" height="7.4" fill="#fff900"/><rect x="1776.9" y="166.6" width="13.8" height="7.4" fill="#ffd700"/><rect x="1789.9" y="166.6" width="13.8" height="7.4" fill="#ffb500"/><rect x="1802.9" y="166.6" width="13.8" height="7.4" fill="#ff9500"/><rect x="1815.8" y="166.6" width="13.8" height="7.4" fill="#ff7e00"/><rect x="1828.8" y="166.6" width="13.8" height="7.4" fill="#ff4f00"/><rect x="1841.8" y="166.6" width="13.8" height="7.4" fill="#ff4100"/><rect x="1854.7" y="166.6" width="13.8" height="7.4" fill="#ff3400"/><rect x="1867.7" y="166.6" width="13.8" height="7.4" fill="#ff3a00"/><rect x="1880.7" y="166.6" width="13.8" height="7.4" fill="#ff4700"/><rect x="1893.6" y="166.6" width="13.8" height="7.4" fill="#ff5c00"/><rect x="1906.6" y="166.6" width="13.8" height="7.4" fill="#ff7b00"/><rect x="1919.6" y="166.6" width="13.8" height="7.4" fill="#ff9800"/><rect x="1932.5" y="166.6" width="13.8" height="7.4" fill="#ffb700"/><rect x="1945.5" y="166.6" width="13.8" height="7.4" fill="#ffda00"/><rect x="1958.5" y="166.6" width="13.8" height="7.4" fill="#ffff03"/><rect x="1971.4" y="166.6" width="13.8" height="7.4" fill="#ffff3a"/><rect x="1984.4" y="166.6" width="13.8" height="7.4" fill="#ffff71"/><rect x="1997.4" y="166.6" width="13.8" height="7.4" fill="#fffd99"/><rect x="2010.3" y="166.6" width="13.8" height="7.4" fill="#fffcb8"/><rect x="1582.4" y="173.3" width="26.7" height="7.4" fill="#fffffb"/><rect x="1608.3" y="173.3" width="13.8" height="7.4" fill="#fffef7"/><rect x="1621.3" y="173.3" width="13.8" height="7.4" fill="#fffef3"/><rect x="1634.3" y="173.3" width="13.8" height="7.4" fill="#fffeef"/><rect x="1647.2" y="173.3" width="13.8" height="7.4" fill="#fffeeb"/><rect x="1660.2" y="173.3" width="13.8" height="7.4" fill="#fffddf"/><rect x="1673.2" y="173.3" width="13.8" height="7.4" fill="#fffcd0"/><rect x="1686.2" y="173.3" width="13.8" height="7.4" fill="#fffcb8"/><rect x="1699.1" y="173.3" width="13.8" height="7.4" fill="#fffd91"/><rect x="1712.1" y="173.3" width="13.8" height="7.4" fill="#fffe89"/><rect x="1725.1" y="173.3" width="13.8" height="7.4" fill="#ffff61"/><rect x="1738" y="173.3" width="13.8" height="7.4" fill="#ffff32"/><rect x="1751" y="173.3" width="13.8" height="7.4" fill="#fffc00"/><rect x="1764" y="173.3" width="13.8" height="7.4" fill="#ffd200"/><rect x="1776.9" y="173.3" width="13.8" height="7.4" fill="#ffad00"/><rect x="1789.9" y="173.3" width="13.8" height="7.4" fill="#ff8800"/><rect x="1802.9" y="173.3" width="13.8" height="7.4" fill="#ff5400"/><rect x="1815.8" y="173.3" width="13.8" height="7.4" fill="#ff3a00"/><rect x="1828.8" y="173.3" width="13.8" height="7.4" fill="#ff2700"/><rect x="1841.8" y="173.3" width="13.8" height="7.4" fill="#ff1f00"/><rect x="1854.7" y="173.3" width="13.8" height="7.4" fill="#ff1500"/><rect x="1867.7" y="173.3" width="13.8" height="7.4" fill="#ff1700"/><rect x="1880.7" y="173.3" width="13.8" height="7.4" fill="#ff1d00"/><rect x="1893.6" y="173.3" width="13.8" height="7.4" fill="#ff2500"/><rect x="1906.6" y="173.3" width="13.8" height="7.4" fill="#ff3200"/><rect x="1919.6" y="173.3" width="13.8" height="7.4" fill="#ff6900"/><rect x="1932.5" y="173.3" width="13.8" height="7.4" fill="#ff9300"/><rect x="1945.5" y="173.3" width="13.8" height="7.4" fill="#ffbd00"/><rect x="1958.5" y="173.3" width="13.8" height="7.4" fill="#ffe700"/><rect x="1971.4" y="173.3" width="13.8" height="7.4" fill="#ffff1b"/><rect x="1984.4" y="173.3" width="13.8" height="7.4" fill="#ffff5a"/><rect x="1997.4" y="173.3" width="13.8" height="7.4" fill="#fffe89"/><rect x="2010.3" y="173.3" width="13.8" height="7.4" fill="#fffda0"/><rect x="1569.4" y="179.9" width="26.7" height="7.4" fill="#fffffb"/><rect x="1595.4" y="179.9" width="13.8" height="7.4" fill="#fffef7"/><rect x="1608.3" y="179.9" width="13.8" height="7.4" fill="#fffef3"/><rect x="1621.3" y="179.9" width="13.8" height="7.4" fill="#fffeef"/><rect x="1634.3" y="179.9" width="13.8" height="7.4" fill="#fffde7"/><rect x="1647.2" y="179.9" width="13.8" height="7.4" fill="#fffddf"/><rect x="1660.2" y="179.9" width="13.8" height="7.4" fill="#fffcd0"/><rect x="1673.2" y="179.9" width="13.8" height="7.4" fill="#fffcbc"/><rect x="1686.2" y="179.9" width="13.8" height="7.4" fill="#fffd99"/><rect x="1699.1" y="179.9" width="13.8" height="7.4" fill="#fffe8d"/><rect x="1712.1" y="179.9" width="13.8" height="7.4" fill="#ffff61"/><rect x="1725.1" y="179.9" width="13.8" height="7.4" fill="#ffff32"/><rect x="1738" y="179.9" width="13.8" height="7.4" fill="#fffc00"/><rect x="1751" y="179.9" width="13.8" height="7.4" fill="#ffd400"/><rect x="1764" y="179.9" width="13.8" height="7.4" fill="#ffa800"/><rect x="1776.9" y="179.9" width="13.8" height="7.4" fill="#ff7e00"/><rect x="1789.9" y="179.9" width="13.8" height="7.4" fill="#ff4400"/><rect x="1802.9" y="179.9" width="13.8" height="7.4" fill="#ff2c00"/><rect x="1815.8" y="179.9" width="13.8" height="7.4" fill="#ff1d00"/><rect x="1828.8" y="179.9" width="13.8" height="7.4" fill="#ff1000"/><rect x="1841.8" y="179.9" width="13.8" height="7.4" fill="#ff0500"/><rect x="1854.7" y="179.9" width="13.8" height="7.4" fill="#fc0000"/><rect x="1867.7" y="179.9" width="13.8" height="7.4" fill="#ff0000"/><rect x="1880.7" y="179.9" width="13.8" height="7.4" fill="#ff0200"/><rect x="1893.6" y="179.9" width="13.8" height="7.4" fill="#ff0800"/><rect x="1906.6" y="179.9" width="13.8" height="7.4" fill="#ff1000"/><rect x="1919.6" y="179.9" width="13.8" height="7.4" fill="#ff2a00"/><rect x="1932.5" y="179.9" width="13.8" height="7.4" fill="#ff5e00"/><rect x="1945.5" y="179.9" width="13.8" height="7.4" fill="#ffa000"/><rect x="1958.5" y="179.9" width="13.8" height="7.4" fill="#ffca00"/><rect x="1971.4" y="179.9" width="13.8" height="7.4" fill="#fffc00"/><rect x="1984.4" y="179.9" width="13.8" height="7.4" fill="#ffff3e"/><rect x="1997.4" y="179.9" width="13.8" height="7.4" fill="#ffff75"/><rect x="2010.3" y="179.9" width="13.8" height="7.4" fill="#fffd9d"/><rect x="1556.5" y="186.5" width="26.7" height="7.4" fill="#fffffb"/><rect x="1582.4" y="186.5" width="13.8" height="7.4" fill="#fffef7"/><rect x="1595.4" y="186.5" width="13.8" height="7.4" fill="#fffef3"/><rect x="1608.3" y="186.5" width="13.8" height="7.4" fill="#fffeef"/><rect x="1621.3" y="186.5" width="13.8" height="7.4" fill="#fffde7"/><rect x="1634.3" y="186.5" width="13.8" height="7.4" fill="#fffddc"/><rect x="1647.2" y="186.5" width="13.8" height="7.4" fill="#fffcd0"/><rect x="1660.2" y="186.5" width="13.8" height="7.4" fill="#fffcbc"/><rect x="1673.2" y="186.5" width="13.8" height="7.4" fill="#fffd9d"/><rect x="1686.2" y="186.5" width="13.8" height="7.4" fill="#fffd91"/><rect x="1699.1" y="186.5" width="13.8" height="7.4" fill="#ffff69"/><rect x="1712.1" y="186.5" width="13.8" height="7.4" fill="#ffff36"/><rect x="1725.1" y="186.5" width="13.8" height="7.4" fill="#fffe00"/><rect x="1738" y="186.5" width="13.8" height="7.4" fill="#ffd700"/><rect x="1751" y="186.5" width="13.8" height="7.4" fill="#ffaa00"/><rect x="1764" y="186.5" width="13.8" height="7.4" fill="#ff7e00"/><rect x="1776.9" y="186.5" width="13.8" height="7.4" fill="#ff3f00"/><rect x="1789.9" y="186.5" width="13.8" height="7.4" fill="#ff2700"/><rect x="1802.9" y="186.5" width="13.8" height="7.4" fill="#ff1500"/><rect x="1815.8" y="186.5" width="13.8" height="7.4" fill="#ff0800"/><rect x="1828.8" y="186.5" width="13.8" height="7.4" fill="#f90000"/><rect x="1841.8" y="186.5" width="13.8" height="7.4" fill="#ef0000"/><rect x="1854.7" y="186.5" width="13.8" height="7.4" fill="#e70000"/><rect x="1867.7" y="186.5" width="26.7" height="7.4" fill="#ea0000"/><rect x="1893.6" y="186.5" width="13.8" height="7.4" fill="#ef0000"/><rect x="1906.6" y="186.5" width="13.8" height="7.4" fill="#f70000"/><rect x="1919.6" y="186.5" width="13.8" height="7.4" fill="#ff0d00"/><rect x="1932.5" y="186.5" width="13.8" height="7.4" fill="#ff2c00"/><rect x="1945.5" y="186.5" width="13.8" height="7.4" fill="#ff8000"/><rect x="1958.5" y="186.5" width="13.8" height="7.4" fill="#ffb200"/><rect x="1971.4" y="186.5" width="13.8" height="7.4" fill="#ffe400"/><rect x="1984.4" y="186.5" width="13.8" height="7.4" fill="#ffff1f"/><rect x="1997.4" y="186.5" width="13.8" height="7.4" fill="#ffff5a"/><rect x="2010.3" y="186.5" width="13.8" height="7.4" fill="#fffe85"/><rect x="1543.5" y="193.2" width="26.7" height="7.4" fill="#fffffb"/><rect x="1569.4" y="193.2" width="26.7" height="7.4" fill="#fffef7"/><rect x="1595.4" y="193.2" width="13.8" height="7.4" fill="#fffeef"/><rect x="1608.3" y="193.2" width="13.8" height="7.4" fill="#fffee7"/><rect x="1621.3" y="193.2" width="13.8" height="7.4" fill="#fffddc"/><rect x="1634.3" y="193.2" width="13.8" height="7.4" fill="#fffccc"/><rect x="1647.2" y="193.2" width="13.8" height="7.4" fill="#fffcb8"/><rect x="1660.2" y="193.2" width="13.8" height="7.4" fill="#fffd99"/><rect x="1673.2" y="193.2" width="13.8" height="7.4" fill="#fffd95"/><rect x="1686.2" y="193.2" width="13.8" height="7.4" fill="#ffff71"/><rect x="1699.1" y="193.2" width="13.8" height="7.4" fill="#ffff3a"/><rect x="1712.1" y="193.2" width="13.8" height="7.4" fill="#fffe00"/><rect x="1725.1" y="193.2" width="13.8" height="7.4" fill="#ffd700"/><rect x="1738" y="193.2" width="13.8" height="7.4" fill="#ffad00"/><rect x="1751" y="193.2" width="13.8" height="7.4" fill="#ff8000"/><rect x="1764" y="193.2" width="13.8" height="7.4" fill="#ff4100"/><rect x="1776.9" y="193.2" width="13.8" height="7.4" fill="#ff2500"/><rect x="1789.9" y="193.2" width="13.8" height="7.4" fill="#ff1000"/><rect x="1802.9" y="193.2" width="13.8" height="7.4" fill="#ff0200"/><rect x="1815.8" y="193.2" width="13.8" height="7.4" fill="#f40000"/><rect x="1828.8" y="193.2" width="13.8" height="7.4" fill="#ea0000"/><rect x="1841.8" y="193.2" width="13.8" height="7.4" fill="#df0000"/><rect x="1854.7" y="193.2" width="39.7" height="7.4" fill="#d70000"/><rect x="1893.6" y="193.2" width="13.8" height="7.4" fill="#da0000"/><rect x="1906.6" y="193.2" width="13.8" height="7.4" fill="#e40000"/><rect x="1919.6" y="193.2" width="13.8" height="7.4" fill="#f40000"/><rect x="1932.5" y="193.2" width="13.8" height="7.4" fill="#ff1000"/><rect x="1945.5" y="193.2" width="13.8" height="7.4" fill="#ff3a00"/><rect x="1958.5" y="193.2" width="13.8" height="7.4" fill="#ff9500"/><rect x="1971.4" y="193.2" width="13.8" height="7.4" fill="#ffca00"/><rect x="1984.4" y="193.2" width="13.8" height="7.4" fill="#fffc00"/><rect x="1997.4" y="193.2" width="13.8" height="7.4" fill="#ffff42"/><rect x="2010.3" y="193.2" width="13.8" height="7.4" fill="#ffff69"/><rect x="1530.5" y="199.8" width="26.7" height="7.4" fill="#fffffb"/><rect x="1556.5" y="199.8" width="26.7" height="7.4" fill="#fffef7"/><rect x="1582.4" y="199.8" width="13.8" height="7.4" fill="#fffef3"/><rect x="1595.4" y="199.8" width="13.8" height="7.4" fill="#fffeeb"/><rect x="1608.3" y="199.8" width="13.8" height="7.4" fill="#fffddf"/><rect x="1621.3" y="199.8" width="13.8" height="7.4" fill="#fffcd0"/><rect x="1634.3" y="199.8" width="13.8" height="7.4" fill="#fffcb4"/><rect x="1647.2" y="199.8" width="26.7" height="7.4" fill="#fffd95"/><rect x="1673.2" y="199.8" width="13.8" height="7.4" fill="#ffff71"/><rect x="1686.2" y="199.8" width="13.8" height="7.4" fill="#ffff46"/><rect x="1699.1" y="199.8" width="13.8" height="7.4" fill="#ffff07"/><rect x="1712.1" y="199.8" width="13.8" height="7.4" fill="#ffda00"/><rect x="1725.1" y="199.8" width="13.8" height="7.4" fill="#ffad00"/><rect x="1738" y="199.8" width="13.8" height="7.4" fill="#ff8300"/><rect x="1751" y="199.8" width="13.8" height="7.4" fill="#ff4700"/><rect x="1764" y="199.8" width="13.8" height="7.4" fill="#ff2a00"/><rect x="1776.9" y="199.8" width="13.8" height="7.4" fill="#ff1200"/><rect x="1789.9" y="199.8" width="13.8" height="7.4" fill="#fc0000"/><rect x="1802.9" y="199.8" width="13.8" height="7.4" fill="#f20000"/><rect x="1815.8" y="199.8" width="13.8" height="7.4" fill="#e40000"/><rect x="1828.8" y="199.8" width="13.8" height="7.4" fill="#da0000"/><rect x="1841.8" y="199.8" width="13.8" height="7.4" fill="#cf0000"/><rect x="1854.7" y="199.8" width="13.8" height="7.4" fill="#c80000"/><rect x="1867.7" y="199.8" width="13.8" height="7.4" fill="#c50000"/><rect x="1880.7" y="199.8" width="26.7" height="7.4" fill="#c80000"/><rect x="1906.6" y="199.8" width="13.8" height="7.4" fill="#d20000"/><rect x="1919.6" y="199.8" width="13.8" height="7.4" fill="#df0000"/><rect x="1932.5" y="199.8" width="13.8" height="7.4" fill="#f70000"/><rect x="1945.5" y="199.8" width="13.8" height="7.4" fill="#ff1700"/><rect x="1958.5" y="199.8" width="13.8" height="7.4" fill="#ff7b00"/><rect x="1971.4" y="199.8" width="13.8" height="7.4" fill="#ffb200"/><rect x="1984.4" y="199.8" width="13.8" height="7.4" fill="#ffe700"/><rect x="1997.4" y="199.8" width="13.8" height="7.4" fill="#ffff26"/><rect x="2010.3" y="199.8" width="13.8" height="7.4" fill="#ffff4e"/><rect x="1517.6" y="206.4" width="26.7" height="7.4" fill="#fffffb"/><rect x="1543.5" y="206.4" width="26.7" height="7.4" fill="#fffef7"/><rect x="1569.4" y="206.4" width="13.8" height="7.4" fill="#fffef3"/><rect x="1582.4" y="206.4" width="13.8" height="7.4" fill="#fffeeb"/><rect x="1595.4" y="206.4" width="13.8" height="7.4" fill="#fffddf"/><rect x="1608.3" y="206.4" width="13.8" height="7.4" fill="#fffcd0"/><rect x="1621.3" y="206.4" width="13.8" height="7.4" fill="#fffcb8"/><rect x="1634.3" y="206.4" width="26.7" height="7.4" fill="#fffd91"/><rect x="1660.2" y="206.4" width="13.8" height="7.4" fill="#ffff75"/><rect x="1673.2" y="206.4" width="13.8" height="7.4" fill="#ffff4a"/><rect x="1686.2" y="206.4" width="13.8" height="7.4" fill="#ffff17"/><rect x="1699.1" y="206.4" width="13.8" height="7.4" fill="#ffdf00"/><rect x="1712.1" y="206.4" width="13.8" height="7.4" fill="#ffb000"/><rect x="1725.1" y="206.4" width="13.8" height="7.4" fill="#ff8000"/><rect x="1738" y="206.4" width="13.8" height="7.4" fill="#ff4900"/><rect x="1751" y="206.4" width="13.8" height="7.4" fill="#ff2c00"/><rect x="1764" y="206.4" width="13.8" height="7.4" fill="#ff1700"/><rect x="1776.9" y="206.4" width="13.8" height="7.4" fill="#ff0200"/><rect x="1789.9" y="206.4" width="13.8" height="7.4" fill="#ef0000"/><rect x="1802.9" y="206.4" width="13.8" height="7.4" fill="#e20000"/><rect x="1815.8" y="206.4" width="13.8" height="7.4" fill="#d70000"/><rect x="1828.8" y="206.4" width="13.8" height="7.4" fill="#d20000"/><rect x="1841.8" y="206.4" width="13.8" height="7.4" fill="#cf0000"/><rect x="1854.7" y="206.4" width="13.8" height="7.4" fill="#cd0000"/><rect x="1867.7" y="206.4" width="13.8" height="7.4" fill="#c20000"/><rect x="1880.7" y="206.4" width="26.7" height="7.4" fill="#b80000"/><rect x="1906.6" y="206.4" width="13.8" height="7.4" fill="#c20000"/><rect x="1919.6" y="206.4" width="13.8" height="7.4" fill="#cf0000"/><rect x="1932.5" y="206.4" width="13.8" height="7.4" fill="#e20000"/><rect x="1945.5" y="206.4" width="13.8" height="7.4" fill="#ff0000"/><rect x="1958.5" y="206.4" width="13.8" height="7.4" fill="#ff3700"/><rect x="1971.4" y="206.4" width="13.8" height="7.4" fill="#ff9800"/><rect x="1984.4" y="206.4" width="13.8" height="7.4" fill="#ffd400"/><rect x="1997.4" y="206.4" width="13.8" height="7.4" fill="#ffff07"/><rect x="2010.3" y="206.4" width="13.8" height="7.4" fill="#ffff2e"/><rect x="1504.6" y="213" width="26.7" height="7.4" fill="#fffffb"/><rect x="1530.5" y="213" width="13.8" height="7.4" fill="#fffff7"/><rect x="1543.5" y="213" width="13.8" height="7.4" fill="#fffef7"/><rect x="1556.5" y="213" width="13.8" height="7.4" fill="#fffef3"/><rect x="1569.4" y="213" width="13.8" height="7.4" fill="#fffeeb"/><rect x="1582.4" y="213" width="13.8" height="7.4" fill="#fffde3"/><rect x="1595.4" y="213" width="13.8" height="7.4" fill="#fffcd4"/><rect x="1608.3" y="213" width="13.8" height="7.4" fill="#fffcbc"/><rect x="1621.3" y="213" width="13.8" height="7.4" fill="#fffd95"/><rect x="1634.3" y="213" width="13.8" height="7.4" fill="#fffd91"/><rect x="1647.2" y="213" width="13.8" height="7.4" fill="#ffff71"/><rect x="1660.2" y="213" width="13.8" height="7.4" fill="#ffff4e"/><rect x="1673.2" y="213" width="13.8" height="7.4" fill="#ffff1f"/><rect x="1686.2" y="213" width="13.8" height="7.4" fill="#ffec00"/><rect x="1699.1" y="213" width="13.8" height="7.4" fill="#ffba00"/><rect x="1712.1" y="213" width="13.8" height="7.4" fill="#ff8000"/><rect x="1725.1" y="213" width="13.8" height="7.4" fill="#ff4c00"/><rect x="1738" y="213" width="13.8" height="7.4" fill="#ff3200"/><rect x="1751" y="213" width="13.8" height="7.4" fill="#ff1a00"/><rect x="1764" y="213" width="13.8" height="7.4" fill="#ff0800"/><rect x="1776.9" y="213" width="13.8" height="7.4" fill="#f40000"/><rect x="1789.9" y="213" width="52.7" height="7.4" fill="#e70000"/><rect x="1841.8" y="213" width="13.8" height="7.4" fill="#e40000"/><rect x="1854.7" y="213" width="13.8" height="7.4" fill="#df0000"/><rect x="1867.7" y="213" width="13.8" height="7.4" fill="#d50000"/><rect x="1880.7" y="213" width="13.8" height="7.4" fill="#c80000"/><rect x="1893.6" y="213" width="13.8" height="7.4" fill="#ba0000"/><rect x="1906.6" y="213" width="13.8" height="7.4" fill="#b30000"/><rect x="1919.6" y="213" width="13.8" height="7.4" fill="#c00000"/><rect x="1932.5" y="213" width="13.8" height="7.4" fill="#cf0000"/><rect x="1945.5" y="213" width="13.8" height="7.4" fill="#ea0000"/><rect x="1958.5" y="213" width="13.8" height="7.4" fill="#ff1a00"/><rect x="1971.4" y="213" width="13.8" height="7.4" fill="#ff8300"/><rect x="1984.4" y="213" width="13.8" height="7.4" fill="#ffbf00"/><rect x="1997.4" y="213" width="13.8" height="7.4" fill="#ffef00"/><rect x="2010.3" y="213" width="13.8" height="7.4" fill="#ffff13"/><rect x="1504.6" y="219.7" width="26.7" height="7.4" fill="#fffffb"/><rect x="1530.5" y="219.7" width="13.8" height="7.4" fill="#fffef7"/><rect x="1543.5" y="219.7" width="13.8" height="7.4" fill="#fffef3"/><rect x="1556.5" y="219.7" width="13.8" height="7.4" fill="#fffeeb"/><rect x="1569.4" y="219.7" width="13.8" height="7.4" fill="#fffde3"/><rect x="1582.4" y="219.7" width="13.8" height="7.4" fill="#fffcd8"/><rect x="1595.4" y="219.7" width="13.8" height="7.4" fill="#fffcc0"/><rect x="1608.3" y="219.7" width="13.8" height="7.4" fill="#fffd9d"/><rect x="1621.3" y="219.7" width="13.8" height="7.4" fill="#fffd95"/><rect x="1634.3" y="219.7" width="13.8" height="7.4" fill="#ffff75"/><rect x="1647.2" y="219.7" width="13.8" height="7.4" fill="#ffff4e"/><rect x="1660.2" y="219.7" width="13.8" height="7.4" fill="#ffff26"/><rect x="1673.2" y="219.7" width="13.8" height="7.4" fill="#fff400"/><rect x="1686.2" y="219.7" width="13.8" height="7.4" fill="#ffc700"/><rect x="1699.1" y="219.7" width="13.8" height="7.4" fill="#ff9300"/><rect x="1712.1" y="219.7" width="13.8" height="7.4" fill="#ff4f00"/><rect x="1725.1" y="219.7" width="13.8" height="7.4" fill="#ff3400"/><rect x="1738" y="219.7" width="13.8" height="7.4" fill="#ff1f00"/><rect x="1751" y="219.7" width="13.8" height="7.4" fill="#ff0d00"/><rect x="1764" y="219.7" width="26.7" height="7.4" fill="#f90000"/><rect x="1789.9" y="219.7" width="26.7" height="7.4" fill="#fc0000"/><rect x="1815.8" y="219.7" width="26.7" height="7.4" fill="#ff0000"/><rect x="1841.8" y="219.7" width="13.8" height="7.4" fill="#fc0000"/><rect x="1854.7" y="219.7" width="13.8" height="7.4" fill="#f70000"/><rect x="1867.7" y="219.7" width="13.8" height="7.4" fill="#ea0000"/><rect x="1880.7" y="219.7" width="13.8" height="7.4" fill="#dd0000"/><rect x="1893.6" y="219.7" width="13.8" height="7.4" fill="#ca0000"/><rect x="1906.6" y="219.7" width="13.8" height="7.4" fill="#b50000"/><rect x="1919.6" y="219.7" width="13.8" height="7.4" fill="#b00000"/><rect x="1932.5" y="219.7" width="13.8" height="7.4" fill="#c00000"/><rect x="1945.5" y="219.7" width="13.8" height="7.4" fill="#dd0000"/><rect x="1958.5" y="219.7" width="13.8" height="7.4" fill="#ff0800"/><rect x="1971.4" y="219.7" width="13.8" height="7.4" fill="#ff5600"/><rect x="1984.4" y="219.7" width="13.8" height="7.4" fill="#ffad00"/><rect x="1997.4" y="219.7" width="13.8" height="7.4" fill="#ffdc00"/><rect x="2010.3" y="219.7" width="13.8" height="7.4" fill="#fffc00"/><rect x="1491.6" y="226.3" width="26.7" height="7.4" fill="#fffffb"/><rect x="1517.6" y="226.3" width="13.8" height="7.4" fill="#fffef7"/><rect x="1530.5" y="226.3" width="13.8" height="7.4" fill="#fffef3"/><rect x="1543.5" y="226.3" width="13.8" height="7.4" fill="#fffeeb"/><rect x="1556.5" y="226.3" width="13.8" height="7.4" fill="#fffde3"/><rect x="1569.4" y="226.3" width="13.8" height="7.4" fill="#fffcd8"/><rect x="1582.4" y="226.3" width="13.8" height="7.4" fill="#fffcc4"/><rect x="1595.4" y="226.3" width="13.8" height="7.4" fill="#fffda4"/><rect x="1608.3" y="226.3" width="13.8" height="7.4" fill="#fffd99"/><rect x="1621.3" y="226.3" width="13.8" height="7.4" fill="#fffe79"/><rect x="1634.3" y="226.3" width="13.8" height="7.4" fill="#ffff56"/><rect x="1647.2" y="226.3" width="13.8" height="7.4" fill="#ffff26"/><rect x="1660.2" y="226.3" width="13.8" height="7.4" fill="#fff900"/><rect x="1673.2" y="226.3" width="13.8" height="7.4" fill="#ffd200"/><rect x="1686.2" y="226.3" width="13.8" height="7.4" fill="#ffa200"/><rect x="1699.1" y="226.3" width="13.8" height="7.4" fill="#ff5e00"/><rect x="1712.1" y="226.3" width="13.8" height="7.4" fill="#ff3c00"/><rect x="1725.1" y="226.3" width="13.8" height="7.4" fill="#ff2500"/><rect x="1738" y="226.3" width="13.8" height="7.4" fill="#ff1200"/><rect x="1751" y="226.3" width="13.8" height="7.4" fill="#ff0a00"/><rect x="1764" y="226.3" width="13.8" height="7.4" fill="#ff0d00"/><rect x="1776.9" y="226.3" width="13.8" height="7.4" fill="#ff1200"/><rect x="1789.9" y="226.3" width="13.8" height="7.4" fill="#ff1700"/><rect x="1802.9" y="226.3" width="13.8" height="7.4" fill="#ff1a00"/><rect x="1815.8" y="226.3" width="13.8" height="7.4" fill="#ff1d00"/><rect x="1828.8" y="226.3" width="13.8" height="7.4" fill="#ff1f00"/><rect x="1841.8" y="226.3" width="13.8" height="7.4" fill="#ff1a00"/><rect x="1854.7" y="226.3" width="13.8" height="7.4" fill="#ff1200"/><rect x="1867.7" y="226.3" width="13.8" height="7.4" fill="#ff0500"/><rect x="1880.7" y="226.3" width="13.8" height="7.4" fill="#f20000"/><rect x="1893.6" y="226.3" width="13.8" height="7.4" fill="#dd0000"/><rect x="1906.6" y="226.3" width="13.8" height="7.4" fill="#c20000"/><rect x="1919.6" y="226.3" width="13.8" height="7.4" fill="#ad0000"/><rect x="1932.5" y="226.3" width="13.8" height="7.4" fill="#b00000"/><rect x="1945.5" y="226.3" width="13.8" height="7.4" fill="#d20000"/><rect x="1958.5" y="226.3" width="13.8" height="7.4" fill="#f90000"/><rect x="1971.4" y="226.3" width="13.8" height="7.4" fill="#ff3400"/><rect x="1984.4" y="226.3" width="13.8" height="7.4" fill="#ff9b00"/><rect x="1997.4" y="226.3" width="13.8" height="7.4" fill="#ffca00"/><rect x="2010.3" y="226.3" width="13.8" height="7.4" fill="#ffec00"/><rect x="1465.7" y="232.9" width="39.7" height="7.4" fill="#fffffb"/><rect x="1504.6" y="232.9" width="26.7" height="7.4" fill="#fffef7"/><rect x="1530.5" y="232.9" width="13.8" height="7.4" fill="#fffeef"/><rect x="1543.5" y="232.9" width="13.8" height="7.4" fill="#fffde3"/><rect x="1556.5" y="232.9" width="13.8" height="7.4" fill="#fffcd8"/><rect x="1569.4" y="232.9" width="13.8" height="7.4" fill="#fffcc4"/><rect x="1582.4" y="232.9" width="13.8" height="7.4" fill="#fffda4"/><rect x="1595.4" y="232.9" width="13.8" height="7.4" fill="#fffd99"/><rect x="1608.3" y="232.9" width="13.8" height="7.4" fill="#fffe7d"/><rect x="1621.3" y="232.9" width="13.8" height="7.4" fill="#ffff5a"/><rect x="1634.3" y="232.9" width="13.8" height="7.4" fill="#ffff32"/><rect x="1647.2" y="232.9" width="13.8" height="7.4" fill="#fffc00"/><rect x="1660.2" y="232.9" width="13.8" height="7.4" fill="#ffd700"/><rect x="1673.2" y="232.9" width="13.8" height="7.4" fill="#ffad00"/><rect x="1686.2" y="232.9" width="13.8" height="7.4" fill="#ff7b00"/><rect x="1699.1" y="232.9" width="13.8" height="7.4" fill="#ff4400"/><rect x="1712.1" y="232.9" width="13.8" height="7.4" fill="#ff2c00"/><rect x="1725.1" y="232.9" width="13.8" height="7.4" fill="#ff1a00"/><rect x="1738" y="232.9" width="13.8" height="7.4" fill="#ff1d00"/><rect x="1751" y="232.9" width="13.8" height="7.4" fill="#ff2200"/><rect x="1764" y="232.9" width="13.8" height="7.4" fill="#ff2a00"/><rect x="1776.9" y="232.9" width="13.8" height="7.4" fill="#ff3200"/><rect x="1789.9" y="232.9" width="13.8" height="7.4" fill="#ff3a00"/><rect x="1802.9" y="232.9" width="13.8" height="7.4" fill="#ff3f00"/><rect x="1815.8" y="232.9" width="13.8" height="7.4" fill="#ff4c00"/><rect x="1828.8" y="232.9" width="13.8" height="7.4" fill="#ff5100"/><rect x="1841.8" y="232.9" width="13.8" height="7.4" fill="#ff4700"/><rect x="1854.7" y="232.9" width="13.8" height="7.4" fill="#ff3a00"/><rect x="1867.7" y="232.9" width="13.8" height="7.4" fill="#ff2a00"/><rect x="1880.7" y="232.9" width="13.8" height="7.4" fill="#ff1000"/><rect x="1893.6" y="232.9" width="13.8" height="7.4" fill="#f20000"/><rect x="1906.6" y="232.9" width="13.8" height="7.4" fill="#d50000"/><rect x="1919.6" y="232.9" width="13.8" height="7.4" fill="#ba0000"/><rect x="1932.5" y="232.9" width="13.8" height="7.4" fill="#a80000"/><rect x="1945.5" y="232.9" width="13.8" height="7.4" fill="#c80000"/><rect x="1958.5" y="232.9" width="13.8" height="7.4" fill="#ec0000"/><rect x="1971.4" y="232.9" width="13.8" height="7.4" fill="#ff1f00"/><rect x="1984.4" y="232.9" width="13.8" height="7.4" fill="#ff8800"/><rect x="1997.4" y="232.9" width="13.8" height="7.4" fill="#ffba00"/><rect x="2010.3" y="232.9" width="13.8" height="7.4" fill="#ffdc00"/><rect x="1452.7" y="239.6" width="39.7" height="7.4" fill="#fffffb"/><rect x="1491.6" y="239.6" width="26.7" height="7.4" fill="#fffef7"/><rect x="1517.6" y="239.6" width="13.8" height="7.4" fill="#fffef3"/><rect x="1530.5" y="239.6" width="13.8" height="7.4" fill="#fffde7"/><rect x="1543.5" y="239.6" width="13.8" height="7.4" fill="#fffdd8"/><rect x="1556.5" y="239.6" width="13.8" height="7.4" fill="#fffcc4"/><rect x="1569.4" y="239.6" width="13.8" height="7.4" fill="#fffca8"/><rect x="1582.4" y="239.6" width="13.8" height="7.4" fill="#fffd99"/><rect x="1595.4" y="239.6" width="13.8" height="7.4" fill="#fffe85"/><rect x="1608.3" y="239.6" width="13.8" height="7.4" fill="#ffff5e"/><rect x="1621.3" y="239.6" width="13.8" height="7.4" fill="#ffff36"/><rect x="1634.3" y="239.6" width="13.8" height="7.4" fill="#ffff07"/><rect x="1647.2" y="239.6" width="13.8" height="7.4" fill="#ffe100"/><rect x="1660.2" y="239.6" width="13.8" height="7.4" fill="#ffb500"/><rect x="1673.2" y="239.6" width="13.8" height="7.4" fill="#ff8b00"/><rect x="1686.2" y="239.6" width="13.8" height="7.4" fill="#ff4f00"/><rect x="1699.1" y="239.6" width="13.8" height="7.4" fill="#ff3400"/><rect x="1712.1" y="239.6" width="13.8" height="7.4" fill="#ff2700"/><rect x="1725.1" y="239.6" width="13.8" height="7.4" fill="#ff2c00"/><rect x="1738" y="239.6" width="13.8" height="7.4" fill="#ff3400"/><rect x="1751" y="239.6" width="13.8" height="7.4" fill="#ff3f00"/><rect x="1764" y="239.6" width="13.8" height="7.4" fill="#ff5100"/><rect x="1776.9" y="239.6" width="13.8" height="7.4" fill="#ff6b00"/><rect x="1789.9" y="239.6" width="13.8" height="7.4" fill="#ff7600"/><rect x="1802.9" y="239.6" width="13.8" height="7.4" fill="#ff8000"/><rect x="1815.8" y="239.6" width="13.8" height="7.4" fill="#ff8800"/><rect x="1828.8" y="239.6" width="13.8" height="7.4" fill="#ff8e00"/><rect x="1841.8" y="239.6" width="13.8" height="7.4" fill="#ff8800"/><rect x="1854.7" y="239.6" width="13.8" height="7.4" fill="#ff7e00"/><rect x="1867.7" y="239.6" width="13.8" height="7.4" fill="#ff6b00"/><rect x="1880.7" y="239.6" width="13.8" height="7.4" fill="#ff3400"/><rect x="1893.6" y="239.6" width="13.8" height="7.4" fill="#ff0a00"/><rect x="1906.6" y="239.6" width="13.8" height="7.4" fill="#e40000"/><rect x="1919.6" y="239.6" width="13.8" height="7.4" fill="#ca0000"/><rect x="1932.5" y="239.6" width="13.8" height="7.4" fill="#b30000"/><rect x="1945.5" y="239.6" width="13.8" height="7.4" fill="#c00000"/><rect x="1958.5" y="239.6" width="13.8" height="7.4" fill="#e20000"/><rect x="1971.4" y="239.6" width="13.8" height="7.4" fill="#ff1200"/><rect x="1984.4" y="239.6" width="13.8" height="7.4" fill="#ff7b00"/><rect x="1997.4" y="239.6" width="13.8" height="7.4" fill="#ffaa00"/><rect x="2010.3" y="239.6" width="13.8" height="7.4" fill="#ffcf00"/><rect x="1452.7" y="246.2" width="26.7" height="7.4" fill="#fffffb"/><rect x="1478.7" y="246.2" width="26.7" height="7.4" fill="#fffef7"/><rect x="1504.6" y="246.2" width="13.8" height="7.4" fill="#fffef3"/><rect x="1517.6" y="246.2" width="13.8" height="7.4" fill="#fffeeb"/><rect x="1530.5" y="246.2" width="13.8" height="7.4" fill="#fffddf"/><rect x="1543.5" y="246.2" width="13.8" height="7.4" fill="#fffcc8"/><rect x="1556.5" y="246.2" width="13.8" height="7.4" fill="#fffca8"/><rect x="1569.4" y="246.2" width="13.8" height="7.4" fill="#fffd9d"/><rect x="1582.4" y="246.2" width="13.8" height="7.4" fill="#fffe85"/><rect x="1595.4" y="246.2" width="13.8" height="7.4" fill="#ffff65"/><rect x="1608.3" y="246.2" width="13.8" height="7.4" fill="#ffff3a"/><rect x="1621.3" y="246.2" width="13.8" height="7.4" fill="#ffff0b"/><rect x="1634.3" y="246.2" width="13.8" height="7.4" fill="#ffe700"/><rect x="1647.2" y="246.2" width="13.8" height="7.4" fill="#ffb700"/><rect x="1660.2" y="246.2" width="13.8" height="7.4" fill="#ff9300"/><rect x="1673.2" y="246.2" width="13.8" height="7.4" fill="#ff5900"/><rect x="1686.2" y="246.2" width="13.8" height="7.4" fill="#ff3c00"/><rect x="1699.1" y="246.2" width="13.8" height="7.4" fill="#ff3700"/><rect x="1712.1" y="246.2" width="13.8" height="7.4" fill="#ff3c00"/><rect x="1725.1" y="246.2" width="13.8" height="7.4" fill="#ff4700"/><rect x="1738" y="246.2" width="13.8" height="7.4" fill="#ff5c00"/><rect x="1751" y="246.2" width="13.8" height="7.4" fill="#ff7600"/><rect x="1764" y="246.2" width="13.8" height="7.4" fill="#ff8b00"/><rect x="1776.9" y="246.2" width="13.8" height="7.4" fill="#ff9800"/><rect x="1789.9" y="246.2" width="13.8" height="7.4" fill="#ffa200"/><rect x="1802.9" y="246.2" width="13.8" height="7.4" fill="#ffaa00"/><rect x="1815.8" y="246.2" width="13.8" height="7.4" fill="#ffb200"/><rect x="1828.8" y="246.2" width="13.8" height="7.4" fill="#ffb500"/><rect x="1841.8" y="246.2" width="13.8" height="7.4" fill="#ffb000"/><rect x="1854.7" y="246.2" width="13.8" height="7.4" fill="#ffa800"/><rect x="1867.7" y="246.2" width="13.8" height="7.4" fill="#ff9500"/><rect x="1880.7" y="246.2" width="13.8" height="7.4" fill="#ff7600"/><rect x="1893.6" y="246.2" width="13.8" height="7.4" fill="#ff2500"/><rect x="1906.6" y="246.2" width="13.8" height="7.4" fill="#f90000"/><rect x="1919.6" y="246.2" width="13.8" height="7.4" fill="#da0000"/><rect x="1932.5" y="246.2" width="13.8" height="7.4" fill="#c00000"/><rect x="1945.5" y="246.2" width="13.8" height="7.4" fill="#b80000"/><rect x="1958.5" y="246.2" width="13.8" height="7.4" fill="#da0000"/><rect x="1971.4" y="246.2" width="13.8" height="7.4" fill="#ff0200"/><rect x="1984.4" y="246.2" width="13.8" height="7.4" fill="#ff4900"/><rect x="1997.4" y="246.2" width="13.8" height="7.4" fill="#ff9d00"/><rect x="2010.3" y="246.2" width="13.8" height="7.4" fill="#ffc200"/><rect x="1439.8" y="252.8" width="26.7" height="7.4" fill="#fffffb"/><rect x="1465.7" y="252.8" width="13.8" height="7.4" fill="#fffef7"/><rect x="1478.7" y="252.8" width="26.7" height="7.4" fill="#fffef3"/><rect x="1504.6" y="252.8" width="13.8" height="7.4" fill="#fffeeb"/><rect x="1517.6" y="252.8" width="13.8" height="7.4" fill="#fffde3"/><rect x="1530.5" y="252.8" width="13.8" height="7.4" fill="#fffcd4"/><rect x="1543.5" y="252.8" width="13.8" height="7.4" fill="#fffcb4"/><rect x="1556.5" y="252.8" width="13.8" height="7.4" fill="#fffd9d"/><rect x="1569.4" y="252.8" width="13.8" height="7.4" fill="#fffe89"/><rect x="1582.4" y="252.8" width="13.8" height="7.4" fill="#ffff69"/><rect x="1595.4" y="252.8" width="13.8" height="7.4" fill="#ffff42"/><rect x="1608.3" y="252.8" width="13.8" height="7.4" fill="#ffff0f"/><rect x="1621.3" y="252.8" width="13.8" height="7.4" fill="#ffe900"/><rect x="1634.3" y="252.8" width="13.8" height="7.4" fill="#ffb500"/><rect x="1647.2" y="252.8" width="13.8" height="7.4" fill="#ff8600"/><rect x="1660.2" y="252.8" width="13.8" height="7.4" fill="#ff7600"/><rect x="1673.2" y="252.8" width="13.8" height="7.4" fill="#ff4400"/><rect x="1686.2" y="252.8" width="13.8" height="7.4" fill="#ff4700"/><rect x="1699.1" y="252.8" width="13.8" height="7.4" fill="#ff4900"/><rect x="1712.1" y="252.8" width="13.8" height="7.4" fill="#ff5600"/><rect x="1725.1" y="252.8" width="13.8" height="7.4" fill="#ff7300"/><rect x="1738" y="252.8" width="13.8" height="7.4" fill="#ff8e00"/><rect x="1751" y="252.8" width="13.8" height="7.4" fill="#ffa000"/><rect x="1764" y="252.8" width="13.8" height="7.4" fill="#ffb200"/><rect x="1776.9" y="252.8" width="13.8" height="7.4" fill="#ffbd00"/><rect x="1789.9" y="252.8" width="13.8" height="7.4" fill="#ffc500"/><rect x="1802.9" y="252.8" width="13.8" height="7.4" fill="#ffcc00"/><rect x="1815.8" y="252.8" width="13.8" height="7.4" fill="#ffd200"/><rect x="1828.8" y="252.8" width="13.8" height="7.4" fill="#ffd400"/><rect x="1841.8" y="252.8" width="13.8" height="7.4" fill="#ffcf00"/><rect x="1854.7" y="252.8" width="13.8" height="7.4" fill="#ffc700"/><rect x="1867.7" y="252.8" width="13.8" height="7.4" fill="#ffb700"/><rect x="1880.7" y="252.8" width="13.8" height="7.4" fill="#ff9d00"/><rect x="1893.6" y="252.8" width="13.8" height="7.4" fill="#ff5400"/><rect x="1906.6" y="252.8" width="13.8" height="7.4" fill="#ff1200"/><rect x="1919.6" y="252.8" width="13.8" height="7.4" fill="#ea0000"/><rect x="1932.5" y="252.8" width="13.8" height="7.4" fill="#cd0000"/><rect x="1945.5" y="252.8" width="13.8" height="7.4" fill="#b80000"/><rect x="1958.5" y="252.8" width="13.8" height="7.4" fill="#cf0000"/><rect x="1971.4" y="252.8" width="13.8" height="7.4" fill="#f90000"/><rect x="1984.4" y="252.8" width="13.8" height="7.4" fill="#ff3700"/><rect x="1997.4" y="252.8" width="13.8" height="7.4" fill="#ff9300"/><rect x="2010.3" y="252.8" width="13.8" height="7.4" fill="#ffb700"/><rect x="1426.8" y="259.5" width="26.7" height="7.4" fill="#fffffb"/><rect x="1452.7" y="259.5" width="13.8" height="7.4" fill="#fffef7"/><rect x="1465.7" y="259.5" width="13.8" height="7.4" fill="#fffef3"/><rect x="1478.7" y="259.5" width="13.8" height="7.4" fill="#fffeef"/><rect x="1491.6" y="259.5" width="13.8" height="7.4" fill="#fffeeb"/><rect x="1504.6" y="259.5" width="13.8" height="7.4" fill="#fffde3"/><rect x="1517.6" y="259.5" width="13.8" height="7.4" fill="#fffcd8"/><rect x="1530.5" y="259.5" width="13.8" height="7.4" fill="#fffcc0"/><rect x="1543.5" y="259.5" width="13.8" height="7.4" fill="#fffd99"/><rect x="1556.5" y="259.5" width="13.8" height="7.4" fill="#fffd8d"/><rect x="1569.4" y="259.5" width="13.8" height="7.4" fill="#ffff71"/><rect x="1582.4" y="259.5" width="13.8" height="7.4" fill="#ffff4e"/><rect x="1595.4" y="259.5" width="13.8" height="7.4" fill="#ffff1b"/><rect x="1608.3" y="259.5" width="13.8" height="7.4" fill="#ffe900"/><rect x="1621.3" y="259.5" width="13.8" height="7.4" fill="#ffb700"/><rect x="1634.3" y="259.5" width="13.8" height="7.4" fill="#ff8800"/><rect x="1647.2" y="259.5" width="13.8" height="7.4" fill="#ff6600"/><rect x="1660.2" y="259.5" width="13.8" height="7.4" fill="#ff5400"/><rect x="1673.2" y="259.5" width="13.8" height="7.4" fill="#ff5900"/><rect x="1686.2" y="259.5" width="13.8" height="7.4" fill="#ff5e00"/><rect x="1699.1" y="259.5" width="13.8" height="7.4" fill="#ff6900"/><rect x="1712.1" y="259.5" width="13.8" height="7.4" fill="#ff8600"/><rect x="1725.1" y="259.5" width="13.8" height="7.4" fill="#ff9d00"/><rect x="1738" y="259.5" width="13.8" height="7.4" fill="#ffb200"/><rect x="1751" y="259.5" width="13.8" height="7.4" fill="#ffc500"/><rect x="1764" y="259.5" width="13.8" height="7.4" fill="#ffd200"/><rect x="1776.9" y="259.5" width="13.8" height="7.4" fill="#ffdc00"/><rect x="1789.9" y="259.5" width="13.8" height="7.4" fill="#ffe100"/><rect x="1802.9" y="259.5" width="13.8" height="7.4" fill="#ffe900"/><rect x="1815.8" y="259.5" width="13.8" height="7.4" fill="#ffec00"/><rect x="1828.8" y="259.5" width="13.8" height="7.4" fill="#ffef00"/><rect x="1841.8" y="259.5" width="13.8" height="7.4" fill="#ffec00"/><rect x="1854.7" y="259.5" width="13.8" height="7.4" fill="#ffe100"/><rect x="1867.7" y="259.5" width="13.8" height="7.4" fill="#ffd400"/><rect x="1880.7" y="259.5" width="13.8" height="7.4" fill="#ffb700"/><rect x="1893.6" y="259.5" width="13.8" height="7.4" fill="#ff8300"/><rect x="1906.6" y="259.5" width="13.8" height="7.4" fill="#ff2a00"/><rect x="1919.6" y="259.5" width="13.8" height="7.4" fill="#f90000"/><rect x="1932.5" y="259.5" width="13.8" height="7.4" fill="#dd0000"/><rect x="1945.5" y="259.5" width="13.8" height="7.4" fill="#c80000"/><rect x="1958.5" y="259.5" width="13.8" height="7.4" fill="#cf0000"/><rect x="1971.4" y="259.5" width="13.8" height="7.4" fill="#f70000"/><rect x="1984.4" y="259.5" width="13.8" height="7.4" fill="#ff2c00"/><rect x="1997.4" y="259.5" width="13.8" height="7.4" fill="#ff8b00"/><rect x="2010.3" y="259.5" width="13.8" height="7.4" fill="#ffb000"/><rect x="1413.8" y="266.1" width="26.7" height="7.4" fill="#fffffb"/><rect x="1439.8" y="266.1" width="13.8" height="7.4" fill="#fffef7"/><rect x="1452.7" y="266.1" width="13.8" height="7.4" fill="#fffef3"/><rect x="1465.7" y="266.1" width="13.8" height="7.4" fill="#fffeef"/><rect x="1478.7" y="266.1" width="13.8" height="7.4" fill="#fffeeb"/><rect x="1491.6" y="266.1" width="13.8" height="7.4" fill="#fffde3"/><rect x="1504.6" y="266.1" width="13.8" height="7.4" fill="#fffcd4"/><rect x="1517.6" y="266.1" width="13.8" height="7.4" fill="#fffcc4"/><rect x="1530.5" y="266.1" width="13.8" height="7.4" fill="#fffda4"/><rect x="1543.5" y="266.1" width="13.8" height="7.4" fill="#fffd99"/><rect x="1556.5" y="266.1" width="13.8" height="7.4" fill="#fffe7d"/><rect x="1569.4" y="266.1" width="13.8" height="7.4" fill="#ffff5e"/><rect x="1582.4" y="266.1" width="13.8" height="7.4" fill="#ffff26"/><rect x="1595.4" y="266.1" width="13.8" height="7.4" fill="#ffe900"/><rect x="1608.3" y="266.1" width="13.8" height="7.4" fill="#ffb700"/><rect x="1621.3" y="266.1" width="13.8" height="7.4" fill="#ff8e00"/><rect x="1634.3" y="266.1" width="13.8" height="7.4" fill="#ff6e00"/><rect x="1647.2" y="266.1" width="13.8" height="7.4" fill="#ff5c00"/><rect x="1660.2" y="266.1" width="13.8" height="7.4" fill="#ff6b00"/><rect x="1673.2" y="266.1" width="13.8" height="7.4" fill="#ff7e00"/><rect x="1686.2" y="266.1" width="13.8" height="7.4" fill="#ff8800"/><rect x="1699.1" y="266.1" width="13.8" height="7.4" fill="#ff9500"/><rect x="1712.1" y="266.1" width="13.8" height="7.4" fill="#ffaa00"/><rect x="1725.1" y="266.1" width="13.8" height="7.4" fill="#ffc200"/><rect x="1738" y="266.1" width="13.8" height="7.4" fill="#ffd200"/><rect x="1751" y="266.1" width="13.8" height="7.4" fill="#ffe100"/><rect x="1764" y="266.1" width="13.8" height="7.4" fill="#ffec00"/><rect x="1776.9" y="266.1" width="13.8" height="7.4" fill="#fff600"/><rect x="1789.9" y="266.1" width="13.8" height="7.4" fill="#fffc00"/><rect x="1802.9" y="266.1" width="13.8" height="7.4" fill="#fffe00"/><rect x="1815.8" y="266.1" width="13.8" height="7.4" fill="#ffff07"/><rect x="1828.8" y="266.1" width="13.8" height="7.4" fill="#ffff0b"/><rect x="1841.8" y="266.1" width="13.8" height="7.4" fill="#ffff07"/><rect x="1854.7" y="266.1" width="13.8" height="7.4" fill="#fffc00"/><rect x="1867.7" y="266.1" width="13.8" height="7.4" fill="#ffec00"/><rect x="1880.7" y="266.1" width="13.8" height="7.4" fill="#ffcf00"/><rect x="1893.6" y="266.1" width="13.8" height="7.4" fill="#ffa200"/><rect x="1906.6" y="266.1" width="13.8" height="7.4" fill="#ff4f00"/><rect x="1919.6" y="266.1" width="13.8" height="7.4" fill="#ff0d00"/><rect x="1932.5" y="266.1" width="13.8" height="7.4" fill="#ef0000"/><rect x="1945.5" y="266.1" width="13.8" height="7.4" fill="#d20000"/><rect x="1958.5" y="266.1" width="13.8" height="7.4" fill="#cf0000"/><rect x="1971.4" y="266.1" width="13.8" height="7.4" fill="#f40000"/><rect x="1984.4" y="266.1" width="13.8" height="7.4" fill="#ff2500"/><rect x="1997.4" y="266.1" width="13.8" height="7.4" fill="#ff8300"/><rect x="2010.3" y="266.1" width="13.8" height="7.4" fill="#ffa800"/><rect x="1400.9" y="272.7" width="26.7" height="7.4" fill="#fffffb"/><rect x="1426.8" y="272.7" width="13.8" height="7.4" fill="#fffff7"/><rect x="1439.8" y="272.7" width="13.8" height="7.4" fill="#fffef7"/><rect x="1452.7" y="272.7" width="13.8" height="7.4" fill="#fffeef"/><rect x="1465.7" y="272.7" width="13.8" height="7.4" fill="#fffeeb"/><rect x="1478.7" y="272.7" width="13.8" height="7.4" fill="#fffddf"/><rect x="1491.6" y="272.7" width="13.8" height="7.4" fill="#fffcd4"/><rect x="1504.6" y="272.7" width="13.8" height="7.4" fill="#fffcc0"/><rect x="1517.6" y="272.7" width="13.8" height="7.4" fill="#fffda4"/><rect x="1530.5" y="272.7" width="13.8" height="7.4" fill="#fffd9d"/><rect x="1543.5" y="272.7" width="13.8" height="7.4" fill="#fffe8d"/><rect x="1556.5" y="272.7" width="13.8" height="7.4" fill="#ffff61"/><rect x="1569.4" y="272.7" width="13.8" height="7.4" fill="#ffff22"/><rect x="1582.4" y="272.7" width="13.8" height="7.4" fill="#ffe700"/><rect x="1595.4" y="272.7" width="13.8" height="7.4" fill="#ffba00"/><rect x="1608.3" y="272.7" width="13.8" height="7.4" fill="#ff9000"/><rect x="1621.3" y="272.7" width="13.8" height="7.4" fill="#ff7300"/><rect x="1634.3" y="272.7" width="13.8" height="7.4" fill="#ff6100"/><rect x="1647.2" y="272.7" width="13.8" height="7.4" fill="#ff6900"/><rect x="1660.2" y="272.7" width="13.8" height="7.4" fill="#ff8800"/><rect x="1673.2" y="272.7" width="13.8" height="7.4" fill="#ffa800"/><rect x="1686.2" y="272.7" width="13.8" height="7.4" fill="#ffb200"/><rect x="1699.1" y="272.7" width="13.8" height="7.4" fill="#ffbd00"/><rect x="1712.1" y="272.7" width="13.8" height="7.4" fill="#ffcc00"/><rect x="1725.1" y="272.7" width="13.8" height="7.4" fill="#ffdf00"/><rect x="1738" y="272.7" width="13.8" height="7.4" fill="#ffec00"/><rect x="1751" y="272.7" width="13.8" height="7.4" fill="#fff900"/><rect x="1764" y="272.7" width="13.8" height="7.4" fill="#ffff03"/><rect x="1776.9" y="272.7" width="13.8" height="7.4" fill="#ffff13"/><rect x="1789.9" y="272.7" width="13.8" height="7.4" fill="#ffff17"/><rect x="1802.9" y="272.7" width="13.8" height="7.4" fill="#ffff1b"/><rect x="1815.8" y="272.7" width="39.7" height="7.4" fill="#ffff22"/><rect x="1854.7" y="272.7" width="13.8" height="7.4" fill="#ffff17"/><rect x="1867.7" y="272.7" width="13.8" height="7.4" fill="#ffff03"/><rect x="1880.7" y="272.7" width="13.8" height="7.4" fill="#ffe400"/><rect x="1893.6" y="272.7" width="13.8" height="7.4" fill="#ffba00"/><rect x="1906.6" y="272.7" width="13.8" height="7.4" fill="#ff7b00"/><rect x="1919.6" y="272.7" width="13.8" height="7.4" fill="#ff2500"/><rect x="1932.5" y="272.7" width="13.8" height="7.4" fill="#ff0000"/><rect x="1945.5" y="272.7" width="13.8" height="7.4" fill="#df0000"/><rect x="1958.5" y="272.7" width="13.8" height="7.4" fill="#d20000"/><rect x="1971.4" y="272.7" width="13.8" height="7.4" fill="#f40000"/><rect x="1984.4" y="272.7" width="13.8" height="7.4" fill="#ff2500"/><rect x="1997.4" y="272.7" width="13.8" height="7.4" fill="#ff8000"/><rect x="2010.3" y="272.7" width="13.8" height="7.4" fill="#ffa500"/><rect x="1387.9" y="279.4" width="39.7" height="7.4" fill="#fffffb"/><rect x="1426.8" y="279.4" width="13.8" height="7.4" fill="#fffef7"/><rect x="1439.8" y="279.4" width="13.8" height="7.4" fill="#fffef3"/><rect x="1452.7" y="279.4" width="13.8" height="7.4" fill="#fffeeb"/><rect x="1465.7" y="279.4" width="13.8" height="7.4" fill="#fffddf"/><rect x="1478.7" y="279.4" width="13.8" height="7.4" fill="#fffcd4"/><rect x="1491.6" y="279.4" width="13.8" height="7.4" fill="#fffcc0"/><rect x="1504.6" y="279.4" width="13.8" height="7.4" fill="#fffda0"/><rect x="1517.6" y="279.4" width="13.8" height="7.4" fill="#fffd9d"/><rect x="1530.5" y="279.4" width="13.8" height="7.4" fill="#fffd91"/><rect x="1543.5" y="279.4" width="13.8" height="7.4" fill="#ffff61"/><rect x="1556.5" y="279.4" width="13.8" height="7.4" fill="#ffff22"/><rect x="1569.4" y="279.4" width="13.8" height="7.4" fill="#ffe700"/><rect x="1582.4" y="279.4" width="13.8" height="7.4" fill="#ffba00"/><rect x="1595.4" y="279.4" width="13.8" height="7.4" fill="#ff9300"/><rect x="1608.3" y="279.4" width="13.8" height="7.4" fill="#ff7b00"/><rect x="1621.3" y="279.4" width="13.8" height="7.4" fill="#ff6600"/><rect x="1634.3" y="279.4" width="13.8" height="7.4" fill="#ff6900"/><rect x="1647.2" y="279.4" width="13.8" height="7.4" fill="#ff8000"/><rect x="1660.2" y="279.4" width="13.8" height="7.4" fill="#ffb000"/><rect x="1673.2" y="279.4" width="13.8" height="7.4" fill="#ffca00"/><rect x="1686.2" y="279.4" width="13.8" height="7.4" fill="#ffd200"/><rect x="1699.1" y="279.4" width="13.8" height="7.4" fill="#ffda00"/><rect x="1712.1" y="279.4" width="13.8" height="7.4" fill="#ffe700"/><rect x="1725.1" y="279.4" width="13.8" height="7.4" fill="#fff600"/><rect x="1738" y="279.4" width="13.8" height="7.4" fill="#ffff03"/><rect x="1751" y="279.4" width="13.8" height="7.4" fill="#ffff13"/><rect x="1764" y="279.4" width="13.8" height="7.4" fill="#ffff1f"/><rect x="1776.9" y="279.4" width="13.8" height="7.4" fill="#ffff2a"/><rect x="1789.9" y="279.4" width="13.8" height="7.4" fill="#ffff2e"/><rect x="1802.9" y="279.4" width="13.8" height="7.4" fill="#ffff32"/><rect x="1815.8" y="279.4" width="13.8" height="7.4" fill="#ffff36"/><rect x="1828.8" y="279.4" width="13.8" height="7.4" fill="#ffff3a"/><rect x="1841.8" y="279.4" width="13.8" height="7.4" fill="#ffff36"/><rect x="1854.7" y="279.4" width="13.8" height="7.4" fill="#ffff32"/><rect x="1867.7" y="279.4" width="13.8" height="7.4" fill="#ffff1b"/><rect x="1880.7" y="279.4" width="13.8" height="7.4" fill="#fff600"/><rect x="1893.6" y="279.4" width="13.8" height="7.4" fill="#ffcc00"/><rect x="1906.6" y="279.4" width="13.8" height="7.4" fill="#ff9500"/><rect x="1919.6" y="279.4" width="13.8" height="7.4" fill="#ff4700"/><rect x="1932.5" y="279.4" width="13.8" height="7.4" fill="#ff1200"/><rect x="1945.5" y="279.4" width="13.8" height="7.4" fill="#ec0000"/><rect x="1958.5" y="279.4" width="13.8" height="7.4" fill="#d50000"/><rect x="1971.4" y="279.4" width="13.8" height="7.4" fill="#f70000"/><rect x="1984.4" y="279.4" width="13.8" height="7.4" fill="#ff2500"/><rect x="1997.4" y="279.4" width="13.8" height="7.4" fill="#ff7e00"/><rect x="2010.3" y="279.4" width="13.8" height="7.4" fill="#ffa000"/><rect x="1387.9" y="286" width="26.7" height="7.4" fill="#fffffb"/><rect x="1413.8" y="286" width="13.8" height="7.4" fill="#fffef7"/><rect x="1426.8" y="286" width="13.8" height="7.4" fill="#fffef3"/><rect x="1439.8" y="286" width="13.8" height="7.4" fill="#fffeeb"/><rect x="1452.7" y="286" width="13.8" height="7.4" fill="#fffde3"/><rect x="1465.7" y="286" width="13.8" height="7.4" fill="#fffcd4"/><rect x="1478.7" y="286" width="13.8" height="7.4" fill="#fffcbc"/><rect x="1491.6" y="286" width="26.7" height="7.4" fill="#fffd9d"/><rect x="1517.6" y="286" width="13.8" height="7.4" fill="#fffd91"/><rect x="1530.5" y="286" width="13.8" height="7.4" fill="#ffff5e"/><rect x="1543.5" y="286" width="13.8" height="7.4" fill="#ffff1f"/><rect x="1556.5" y="286" width="13.8" height="7.4" fill="#ffe700"/><rect x="1569.4" y="286" width="13.8" height="7.4" fill="#ffbd00"/><rect x="1582.4" y="286" width="13.8" height="7.4" fill="#ff9800"/><rect x="1595.4" y="286" width="13.8" height="7.4" fill="#ff8000"/><rect x="1608.3" y="286" width="13.8" height="7.4" fill="#ff7b00"/><rect x="1621.3" y="286" width="13.8" height="7.4" fill="#ff7100"/><rect x="1634.3" y="286" width="13.8" height="7.4" fill="#ff8600"/><rect x="1647.2" y="286" width="13.8" height="7.4" fill="#ffa800"/><rect x="1660.2" y="286" width="13.8" height="7.4" fill="#ffcc00"/><rect x="1673.2" y="286" width="13.8" height="7.4" fill="#ffe700"/><rect x="1686.2" y="286" width="13.8" height="7.4" fill="#ffec00"/><rect x="1699.1" y="286" width="13.8" height="7.4" fill="#fff400"/><rect x="1712.1" y="286" width="13.8" height="7.4" fill="#fffe00"/><rect x="1725.1" y="286" width="13.8" height="7.4" fill="#ffff0f"/><rect x="1738" y="286" width="13.8" height="7.4" fill="#ffff1f"/><rect x="1751" y="286" width="13.8" height="7.4" fill="#ffff2e"/><rect x="1764" y="286" width="13.8" height="7.4" fill="#ffff36"/><rect x="1776.9" y="286" width="13.8" height="7.4" fill="#ffff3e"/><rect x="1789.9" y="286" width="13.8" height="7.4" fill="#ffff42"/><rect x="1802.9" y="286" width="13.8" height="7.4" fill="#ffff46"/><rect x="1815.8" y="286" width="39.7" height="7.4" fill="#ffff4a"/><rect x="1854.7" y="286" width="13.8" height="7.4" fill="#ffff42"/><rect x="1867.7" y="286" width="13.8" height="7.4" fill="#ffff2e"/><rect x="1880.7" y="286" width="13.8" height="7.4" fill="#ffff07"/><rect x="1893.6" y="286" width="13.8" height="7.4" fill="#ffdf00"/><rect x="1906.6" y="286" width="13.8" height="7.4" fill="#ffb000"/><rect x="1919.6" y="286" width="13.8" height="7.4" fill="#ff7100"/><rect x="1932.5" y="286" width="13.8" height="7.4" fill="#ff2500"/><rect x="1945.5" y="286" width="13.8" height="7.4" fill="#f90000"/><rect x="1958.5" y="286" width="13.8" height="7.4" fill="#da0000"/><rect x="1971.4" y="286" width="13.8" height="7.4" fill="#f90000"/><rect x="1984.4" y="286" width="13.8" height="7.4" fill="#ff2700"/><rect x="1997.4" y="286" width="13.8" height="7.4" fill="#ff7e00"/><rect x="2010.3" y="286" width="13.8" height="7.4" fill="#ff9d00"/><rect x="1374.9" y="292.6" width="26.7" height="7.4" fill="#fffffb"/><rect x="1400.9" y="292.6" width="13.8" height="7.4" fill="#fffef7"/><rect x="1413.8" y="292.6" width="13.8" height="7.4" fill="#fffef3"/><rect x="1426.8" y="292.6" width="13.8" height="7.4" fill="#fffeef"/><rect x="1439.8" y="292.6" width="13.8" height="7.4" fill="#fffde3"/><rect x="1452.7" y="292.6" width="13.8" height="7.4" fill="#fffcd4"/><rect x="1465.7" y="292.6" width="13.8" height="7.4" fill="#fffcc0"/><rect x="1478.7" y="292.6" width="13.8" height="7.4" fill="#fffd9d"/><rect x="1491.6" y="292.6" width="13.8" height="7.4" fill="#fffd99"/><rect x="1504.6" y="292.6" width="13.8" height="7.4" fill="#fffd8d"/><rect x="1517.6" y="292.6" width="13.8" height="7.4" fill="#ffff5a"/><rect x="1530.5" y="292.6" width="13.8" height="7.4" fill="#ffff1f"/><rect x="1543.5" y="292.6" width="13.8" height="7.4" fill="#ffe700"/><rect x="1556.5" y="292.6" width="13.8" height="7.4" fill="#ffbd00"/><rect x="1569.4" y="292.6" width="13.8" height="7.4" fill="#ff9b00"/><rect x="1582.4" y="292.6" width="13.8" height="7.4" fill="#ff8600"/><rect x="1595.4" y="292.6" width="13.8" height="7.4" fill="#ff8300"/><rect x="1608.3" y="292.6" width="13.8" height="7.4" fill="#ff9000"/><rect x="1621.3" y="292.6" width="13.8" height="7.4" fill="#ff9d00"/><rect x="1634.3" y="292.6" width="13.8" height="7.4" fill="#ffad00"/><rect x="1647.2" y="292.6" width="13.8" height="7.4" fill="#ffc700"/><rect x="1660.2" y="292.6" width="13.8" height="7.4" fill="#ffe100"/><rect x="1673.2" y="292.6" width="13.8" height="7.4" fill="#fffe00"/><rect x="1686.2" y="292.6" width="13.8" height="7.4" fill="#ffff07"/><rect x="1699.1" y="292.6" width="13.8" height="7.4" fill="#ffff0f"/><rect x="1712.1" y="292.6" width="13.8" height="7.4" fill="#ffff1b"/><rect x="1725.1" y="292.6" width="13.8" height="7.4" fill="#ffff26"/><rect x="1738" y="292.6" width="13.8" height="7.4" fill="#ffff36"/><rect x="1751" y="292.6" width="13.8" height="7.4" fill="#ffff42"/><rect x="1764" y="292.6" width="13.8" height="7.4" fill="#ffff4a"/><rect x="1776.9" y="292.6" width="13.8" height="7.4" fill="#ffff4e"/><rect x="1789.9" y="292.6" width="13.8" height="7.4" fill="#ffff52"/><rect x="1802.9" y="292.6" width="13.8" height="7.4" fill="#ffff56"/><rect x="1815.8" y="292.6" width="39.7" height="7.4" fill="#ffff5a"/><rect x="1854.7" y="292.6" width="13.8" height="7.4" fill="#ffff52"/><rect x="1867.7" y="292.6" width="13.8" height="7.4" fill="#ffff3a"/><rect x="1880.7" y="292.6" width="13.8" height="7.4" fill="#ffff17"/><rect x="1893.6" y="292.6" width="13.8" height="7.4" fill="#fff100"/><rect x="1906.6" y="292.6" width="13.8" height="7.4" fill="#ffc700"/><rect x="1919.6" y="292.6" width="13.8" height="7.4" fill="#ff8e00"/><rect x="1932.5" y="292.6" width="13.8" height="7.4" fill="#ff3a00"/><rect x="1945.5" y="292.6" width="13.8" height="7.4" fill="#ff0a00"/><rect x="1958.5" y="292.6" width="13.8" height="7.4" fill="#e20000"/><rect x="1971.4" y="292.6" width="13.8" height="7.4" fill="#fc0000"/><rect x="1984.4" y="292.6" width="13.8" height="7.4" fill="#ff2a00"/><rect x="1997.4" y="292.6" width="13.8" height="7.4" fill="#ff7e00"/><rect x="2010.3" y="292.6" width="13.8" height="7.4" fill="#ff9b00"/><rect x="1362" y="299.3" width="26.7" height="7.4" fill="#fffffb"/><rect x="1387.9" y="299.3" width="13.8" height="7.4" fill="#fffef7"/><rect x="1400.9" y="299.3" width="13.8" height="7.4" fill="#fffef3"/><rect x="1413.8" y="299.3" width="13.8" height="7.4" fill="#fffeef"/><rect x="1426.8" y="299.3" width="13.8" height="7.4" fill="#fffde7"/><rect x="1439.8" y="299.3" width="13.8" height="7.4" fill="#fffdd8"/><rect x="1452.7" y="299.3" width="13.8" height="7.4" fill="#fffcc4"/><rect x="1465.7" y="299.3" width="13.8" height="7.4" fill="#fffda0"/><rect x="1478.7" y="299.3" width="13.8" height="7.4" fill="#fffd9d"/><rect x="1491.6" y="299.3" width="13.8" height="7.4" fill="#fffd8d"/><rect x="1504.6" y="299.3" width="13.8" height="7.4" fill="#ffff5a"/><rect x="1517.6" y="299.3" width="13.8" height="7.4" fill="#ffff1b"/><rect x="1530.5" y="299.3" width="13.8" height="7.4" fill="#ffe700"/><rect x="1543.5" y="299.3" width="13.8" height="7.4" fill="#ffbf00"/><rect x="1556.5" y="299.3" width="13.8" height="7.4" fill="#ffa000"/><rect x="1569.4" y="299.3" width="13.8" height="7.4" fill="#ff8e00"/><rect x="1582.4" y="299.3" width="13.8" height="7.4" fill="#ff8b00"/><rect x="1595.4" y="299.3" width="13.8" height="7.4" fill="#ff9b00"/><rect x="1608.3" y="299.3" width="13.8" height="7.4" fill="#ffb700"/><rect x="1621.3" y="299.3" width="13.8" height="7.4" fill="#ffc200"/><rect x="1634.3" y="299.3" width="13.8" height="7.4" fill="#ffcf00"/><rect x="1647.2" y="299.3" width="13.8" height="7.4" fill="#ffe100"/><rect x="1660.2" y="299.3" width="13.8" height="7.4" fill="#fff600"/><rect x="1673.2" y="299.3" width="13.8" height="7.4" fill="#ffff17"/><rect x="1686.2" y="299.3" width="13.8" height="7.4" fill="#ffff22"/><rect x="1699.1" y="299.3" width="13.8" height="7.4" fill="#ffff26"/><rect x="1712.1" y="299.3" width="13.8" height="7.4" fill="#ffff2e"/><rect x="1725.1" y="299.3" width="13.8" height="7.4" fill="#ffff3e"/><rect x="1738" y="299.3" width="13.8" height="7.4" fill="#ffff46"/><rect x="1751" y="299.3" width="13.8" height="7.4" fill="#ffff52"/><rect x="1764" y="299.3" width="13.8" height="7.4" fill="#ffff56"/><rect x="1776.9" y="299.3" width="13.8" height="7.4" fill="#ffff5e"/><rect x="1789.9" y="299.3" width="26.7" height="7.4" fill="#ffff61"/><rect x="1815.8" y="299.3" width="39.7" height="7.4" fill="#ffff65"/><rect x="1854.7" y="299.3" width="13.8" height="7.4" fill="#ffff5e"/><rect x="1867.7" y="299.3" width="13.8" height="7.4" fill="#ffff46"/><rect x="1880.7" y="299.3" width="13.8" height="7.4" fill="#ffff26"/><rect x="1893.6" y="299.3" width="13.8" height="7.4" fill="#fffe00"/><rect x="1906.6" y="299.3" width="13.8" height="7.4" fill="#ffda00"/><rect x="1919.6" y="299.3" width="13.8" height="7.4" fill="#ffa000"/><rect x="1932.5" y="299.3" width="13.8" height="7.4" fill="#ff4f00"/><rect x="1945.5" y="299.3" width="13.8" height="7.4" fill="#ff1500"/><rect x="1958.5" y="299.3" width="13.8" height="7.4" fill="#ea0000"/><rect x="1971.4" y="299.3" width="13.8" height="7.4" fill="#ff0000"/><rect x="1984.4" y="299.3" width="13.8" height="7.4" fill="#ff2c00"/><rect x="1997.4" y="299.3" width="13.8" height="7.4" fill="#ff7900"/><rect x="2010.3" y="299.3" width="13.8" height="7.4" fill="#ff9300"/><rect x="1349" y="305.9" width="26.7" height="7.4" fill="#fffffb"/><rect x="1374.9" y="305.9" width="13.8" height="7.4" fill="#fffef7"/><rect x="1387.9" y="305.9" width="13.8" height="7.4" fill="#fffef3"/><rect x="1400.9" y="305.9" width="13.8" height="7.4" fill="#fffeef"/><rect x="1413.8" y="305.9" width="13.8" height="7.4" fill="#fffde7"/><rect x="1426.8" y="305.9" width="13.8" height="7.4" fill="#fffddc"/><rect x="1439.8" y="305.9" width="13.8" height="7.4" fill="#fffcc8"/><rect x="1452.7" y="305.9" width="13.8" height="7.4" fill="#fffca4"/><rect x="1465.7" y="305.9" width="13.8" height="7.4" fill="#fffd9d"/><rect x="1478.7" y="305.9" width="13.8" height="7.4" fill="#fffd91"/><rect x="1491.6" y="305.9" width="13.8" height="7.4" fill="#ffff5a"/><rect x="1504.6" y="305.9" width="13.8" height="7.4" fill="#ffff1b"/><rect x="1517.6" y="305.9" width="13.8" height="7.4" fill="#ffe700"/><rect x="1530.5" y="305.9" width="13.8" height="7.4" fill="#ffbf00"/><rect x="1543.5" y="305.9" width="13.8" height="7.4" fill="#ffa200"/><rect x="1556.5" y="305.9" width="26.7" height="7.4" fill="#ff9300"/><rect x="1582.4" y="305.9" width="13.8" height="7.4" fill="#ffa500"/><rect x="1595.4" y="305.9" width="13.8" height="7.4" fill="#ffc200"/><rect x="1608.3" y="305.9" width="13.8" height="7.4" fill="#ffe900"/><rect x="1621.3" y="305.9" width="13.8" height="7.4" fill="#ffe100"/><rect x="1634.3" y="305.9" width="13.8" height="7.4" fill="#ffe900"/><rect x="1647.2" y="305.9" width="13.8" height="7.4" fill="#fff600"/><rect x="1660.2" y="305.9" width="13.8" height="7.4" fill="#ffff0f"/><rect x="1673.2" y="305.9" width="13.8" height="7.4" fill="#ffff2a"/><rect x="1686.2" y="305.9" width="13.8" height="7.4" fill="#ffff36"/><rect x="1699.1" y="305.9" width="13.8" height="7.4" fill="#ffff3e"/><rect x="1712.1" y="305.9" width="13.8" height="7.4" fill="#ffff42"/><rect x="1725.1" y="305.9" width="13.8" height="7.4" fill="#ffff4e"/><rect x="1738" y="305.9" width="13.8" height="7.4" fill="#ffff56"/><rect x="1751" y="305.9" width="13.8" height="7.4" fill="#ffff5e"/><rect x="1764" y="305.9" width="13.8" height="7.4" fill="#ffff61"/><rect x="1776.9" y="305.9" width="26.7" height="7.4" fill="#ffff69"/><rect x="1802.9" y="305.9" width="26.7" height="7.4" fill="#ffff6d"/><rect x="1828.8" y="305.9" width="13.8" height="7.4" fill="#ffff71"/><rect x="1841.8" y="305.9" width="13.8" height="7.4" fill="#ffff6d"/><rect x="1854.7" y="305.9" width="13.8" height="7.4" fill="#ffff65"/><rect x="1867.7" y="305.9" width="13.8" height="7.4" fill="#ffff52"/><rect x="1880.7" y="305.9" width="13.8" height="7.4" fill="#ffff36"/><rect x="1893.6" y="305.9" width="13.8" height="7.4" fill="#ffff13"/><rect x="1906.6" y="305.9" width="13.8" height="7.4" fill="#ffe700"/><rect x="1919.6" y="305.9" width="13.8" height="7.4" fill="#ffb200"/><rect x="1932.5" y="305.9" width="13.8" height="7.4" fill="#ff6900"/><rect x="1945.5" y="305.9" width="13.8" height="7.4" fill="#ff2200"/><rect x="1958.5" y="305.9" width="13.8" height="7.4" fill="#f20000"/><rect x="1971.4" y="305.9" width="13.8" height="7.4" fill="#ff0200"/><rect x="1984.4" y="305.9" width="13.8" height="7.4" fill="#ff2700"/><rect x="1997.4" y="305.9" width="13.8" height="7.4" fill="#ff5c00"/><rect x="2010.3" y="305.9" width="13.8" height="7.4" fill="#ff8b00"/><rect x="1336" y="312.5" width="26.7" height="7.4" fill="#fffffb"/><rect x="1362" y="312.5" width="13.8" height="7.4" fill="#fffef7"/><rect x="1374.9" y="312.5" width="13.8" height="7.4" fill="#fffef3"/><rect x="1387.9" y="312.5" width="13.8" height="7.4" fill="#fffeef"/><rect x="1400.9" y="312.5" width="13.8" height="7.4" fill="#fffeeb"/><rect x="1413.8" y="312.5" width="13.8" height="7.4" fill="#fffddf"/><rect x="1426.8" y="312.5" width="13.8" height="7.4" fill="#fffccc"/><rect x="1439.8" y="312.5" width="13.8" height="7.4" fill="#fffcb0"/><rect x="1452.7" y="312.5" width="13.8" height="7.4" fill="#fffd9d"/><rect x="1465.7" y="312.5" width="13.8" height="7.4" fill="#fffd91"/><rect x="1478.7" y="312.5" width="13.8" height="7.4" fill="#ffff5e"/><rect x="1491.6" y="312.5" width="13.8" height="7.4" fill="#ffff1b"/><rect x="1504.6" y="312.5" width="13.8" height="7.4" fill="#ffe700"/><rect x="1517.6" y="312.5" width="13.8" height="7.4" fill="#ffc200"/><rect x="1530.5" y="312.5" width="13.8" height="7.4" fill="#ffa500"/><rect x="1543.5" y="312.5" width="13.8" height="7.4" fill="#ff9800"/><rect x="1556.5" y="312.5" width="13.8" height="7.4" fill="#ff9b00"/><rect x="1569.4" y="312.5" width="13.8" height="7.4" fill="#ffad00"/><rect x="1582.4" y="312.5" width="13.8" height="7.4" fill="#ffcc00"/><rect x="1595.4" y="312.5" width="13.8" height="7.4" fill="#fff100"/><rect x="1608.3" y="312.5" width="13.8" height="7.4" fill="#fffe00"/><rect x="1621.3" y="312.5" width="13.8" height="7.4" fill="#fff900"/><rect x="1634.3" y="312.5" width="13.8" height="7.4" fill="#ffff03"/><rect x="1647.2" y="312.5" width="13.8" height="7.4" fill="#ffff0f"/><rect x="1660.2" y="312.5" width="13.8" height="7.4" fill="#ffff26"/><rect x="1673.2" y="312.5" width="13.8" height="7.4" fill="#ffff3a"/><rect x="1686.2" y="312.5" width="13.8" height="7.4" fill="#ffff4a"/><rect x="1699.1" y="312.5" width="13.8" height="7.4" fill="#ffff4e"/><rect x="1712.1" y="312.5" width="13.8" height="7.4" fill="#ffff52"/><rect x="1725.1" y="312.5" width="13.8" height="7.4" fill="#ffff5a"/><rect x="1738" y="312.5" width="13.8" height="7.4" fill="#ffff61"/><rect x="1751" y="312.5" width="13.8" height="7.4" fill="#ffff69"/><rect x="1764" y="312.5" width="13.8" height="7.4" fill="#ffff6d"/><rect x="1776.9" y="312.5" width="13.8" height="7.4" fill="#ffff71"/><rect x="1789.9" y="312.5" width="26.7" height="7.4" fill="#ffff75"/><rect x="1815.8" y="312.5" width="26.7" height="7.4" fill="#fffe79"/><rect x="1841.8" y="312.5" width="13.8" height="7.4" fill="#fffe75"/><rect x="1854.7" y="312.5" width="13.8" height="7.4" fill="#ffff69"/><rect x="1867.7" y="312.5" width="13.8" height="7.4" fill="#ffff5a"/><rect x="1880.7" y="312.5" width="13.8" height="7.4" fill="#ffff42"/><rect x="1893.6" y="312.5" width="13.8" height="7.4" fill="#ffff22"/><rect x="1906.6" y="312.5" width="13.8" height="7.4" fill="#fff400"/><rect x="1919.6" y="312.5" width="13.8" height="7.4" fill="#ffc500"/><rect x="1932.5" y="312.5" width="13.8" height="7.4" fill="#ff8000"/><rect x="1945.5" y="312.5" width="13.8" height="7.4" fill="#ff2f00"/><rect x="1958.5" y="312.5" width="13.8" height="7.4" fill="#f90000"/><rect x="1971.4" y="312.5" width="13.8" height="7.4" fill="#ff0200"/><rect x="1984.4" y="312.5" width="13.8" height="7.4" fill="#ff2500"/><rect x="1997.4" y="312.5" width="13.8" height="7.4" fill="#ff4f00"/><rect x="2010.3" y="312.5" width="13.8" height="7.4" fill="#ff8300"/><rect x="1323.1" y="319.2" width="26.7" height="7.4" fill="#fffffb"/><rect x="1349" y="319.2" width="13.8" height="7.4" fill="#fffef7"/><rect x="1362" y="319.2" width="13.8" height="7.4" fill="#fffef3"/><rect x="1374.9" y="319.2" width="13.8" height="7.4" fill="#fffeef"/><rect x="1387.9" y="319.2" width="13.8" height="7.4" fill="#fffeeb"/><rect x="1400.9" y="319.2" width="13.8" height="7.4" fill="#fffddf"/><rect x="1413.8" y="319.2" width="13.8" height="7.4" fill="#fffcd0"/><rect x="1426.8" y="319.2" width="13.8" height="7.4" fill="#fffcb4"/><rect x="1439.8" y="319.2" width="13.8" height="7.4" fill="#fffe89"/><rect x="1452.7" y="319.2" width="13.8" height="7.4" fill="#fffd95"/><rect x="1465.7" y="319.2" width="13.8" height="7.4" fill="#ffff5e"/><rect x="1478.7" y="319.2" width="13.8" height="7.4" fill="#ffff1f"/><rect x="1491.6" y="319.2" width="13.8" height="7.4" fill="#ffe900"/><rect x="1504.6" y="319.2" width="13.8" height="7.4" fill="#ffc500"/><rect x="1517.6" y="319.2" width="13.8" height="7.4" fill="#ffa800"/><rect x="1530.5" y="319.2" width="13.8" height="7.4" fill="#ff9d00"/><rect x="1543.5" y="319.2" width="13.8" height="7.4" fill="#ffa200"/><rect x="1556.5" y="319.2" width="13.8" height="7.4" fill="#ffb500"/><rect x="1569.4" y="319.2" width="13.8" height="7.4" fill="#ffd700"/><rect x="1582.4" y="319.2" width="13.8" height="7.4" fill="#fffc00"/><rect x="1595.4" y="319.2" width="13.8" height="7.4" fill="#ffff2e"/><rect x="1608.3" y="319.2" width="13.8" height="7.4" fill="#ffff1b"/><rect x="1621.3" y="319.2" width="13.8" height="7.4" fill="#ffff17"/><rect x="1634.3" y="319.2" width="13.8" height="7.4" fill="#ffff1f"/><rect x="1647.2" y="319.2" width="13.8" height="7.4" fill="#ffff26"/><rect x="1660.2" y="319.2" width="13.8" height="7.4" fill="#ffff3a"/><rect x="1673.2" y="319.2" width="13.8" height="7.4" fill="#ffff4a"/><rect x="1686.2" y="319.2" width="13.8" height="7.4" fill="#ffff5a"/><rect x="1699.1" y="319.2" width="13.8" height="7.4" fill="#ffff5e"/><rect x="1712.1" y="319.2" width="13.8" height="7.4" fill="#ffff61"/><rect x="1725.1" y="319.2" width="13.8" height="7.4" fill="#ffff65"/><rect x="1738" y="319.2" width="13.8" height="7.4" fill="#ffff6d"/><rect x="1751" y="319.2" width="13.8" height="7.4" fill="#ffff71"/><rect x="1764" y="319.2" width="13.8" height="7.4" fill="#ffff75"/><rect x="1776.9" y="319.2" width="13.8" height="7.4" fill="#fffe79"/><rect x="1789.9" y="319.2" width="65.6" height="7.4" fill="#fffe7d"/><rect x="1854.7" y="319.2" width="13.8" height="7.4" fill="#ffff71"/><rect x="1867.7" y="319.2" width="13.8" height="7.4" fill="#ffff61"/><rect x="1880.7" y="319.2" width="13.8" height="7.4" fill="#ffff4e"/><rect x="1893.6" y="319.2" width="13.8" height="7.4" fill="#ffff2e"/><rect x="1906.6" y="319.2" width="13.8" height="7.4" fill="#fffe00"/><rect x="1919.6" y="319.2" width="13.8" height="7.4" fill="#ffd200"/><rect x="1932.5" y="319.2" width="13.8" height="7.4" fill="#ff8e00"/><rect x="1945.5" y="319.2" width="13.8" height="7.4" fill="#ff3c00"/><rect x="1958.5" y="319.2" width="26.7" height="7.4" fill="#ff0500"/><rect x="1984.4" y="319.2" width="13.8" height="7.4" fill="#ff2500"/><rect x="1997.4" y="319.2" width="13.8" height="7.4" fill="#ff4700"/><rect x="2010.3" y="319.2" width="13.8" height="7.4" fill="#ff7b00"/><rect x="1310.1" y="325.8" width="26.7" height="7.4" fill="#fffffb"/><rect x="1336" y="325.8" width="13.8" height="7.4" fill="#fffef7"/><rect x="1349" y="325.8" width="13.8" height="7.4" fill="#fffef3"/><rect x="1362" y="325.8" width="13.8" height="7.4" fill="#fffeef"/><rect x="1374.9" y="325.8" width="13.8" height="7.4" fill="#fffde7"/><rect x="1387.9" y="325.8" width="13.8" height="7.4" fill="#fffddf"/><rect x="1400.9" y="325.8" width="13.8" height="7.4" fill="#fffcd0"/><rect x="1413.8" y="325.8" width="13.8" height="7.4" fill="#fffcb8"/><rect x="1426.8" y="325.8" width="13.8" height="7.4" fill="#fffd91"/><rect x="1439.8" y="325.8" width="13.8" height="7.4" fill="#fffd95"/><rect x="1452.7" y="325.8" width="13.8" height="7.4" fill="#ffff61"/><rect x="1465.7" y="325.8" width="13.8" height="7.4" fill="#ffff22"/><rect x="1478.7" y="325.8" width="13.8" height="7.4" fill="#ffec00"/><rect x="1491.6" y="325.8" width="13.8" height="7.4" fill="#ffc700"/><rect x="1504.6" y="325.8" width="13.8" height="7.4" fill="#ffad00"/><rect x="1517.6" y="325.8" width="13.8" height="7.4" fill="#ffa200"/><rect x="1530.5" y="325.8" width="13.8" height="7.4" fill="#ffaa00"/><rect x="1543.5" y="325.8" width="13.8" height="7.4" fill="#ffbf00"/><rect x="1556.5" y="325.8" width="13.8" height="7.4" fill="#ffdf00"/><rect x="1569.4" y="325.8" width="13.8" height="7.4" fill="#ffff07"/><rect x="1582.4" y="325.8" width="13.8" height="7.4" fill="#ffff42"/><rect x="1595.4" y="325.8" width="13.8" height="7.4" fill="#ffff3e"/><rect x="1608.3" y="325.8" width="13.8" height="7.4" fill="#ffff32"/><rect x="1621.3" y="325.8" width="13.8" height="7.4" fill="#ffff2e"/><rect x="1634.3" y="325.8" width="13.8" height="7.4" fill="#ffff32"/><rect x="1647.2" y="325.8" width="13.8" height="7.4" fill="#ffff3e"/><rect x="1660.2" y="325.8" width="13.8" height="7.4" fill="#ffff4a"/><rect x="1673.2" y="325.8" width="13.8" height="7.4" fill="#ffff56"/><rect x="1686.2" y="325.8" width="13.8" height="7.4" fill="#ffff65"/><rect x="1699.1" y="325.8" width="26.7" height="7.4" fill="#ffff69"/><rect x="1725.1" y="325.8" width="13.8" height="7.4" fill="#ffff71"/><rect x="1738" y="325.8" width="13.8" height="7.4" fill="#ffff75"/><rect x="1751" y="325.8" width="13.8" height="7.4" fill="#fffe79"/><rect x="1764" y="325.8" width="13.8" height="7.4" fill="#fffe7d"/><rect x="1776.9" y="325.8" width="13.8" height="7.4" fill="#fffe85"/><rect x="1789.9" y="325.8" width="13.8" height="7.4" fill="#fffd8d"/><rect x="1802.9" y="325.8" width="13.8" height="7.4" fill="#fffe89"/><rect x="1815.8" y="325.8" width="26.7" height="7.4" fill="#fffe85"/><rect x="1841.8" y="325.8" width="13.8" height="7.4" fill="#fffe81"/><rect x="1854.7" y="325.8" width="13.8" height="7.4" fill="#fffe75"/><rect x="1867.7" y="325.8" width="13.8" height="7.4" fill="#ffff69"/><rect x="1880.7" y="325.8" width="13.8" height="7.4" fill="#ffff56"/><rect x="1893.6" y="325.8" width="13.8" height="7.4" fill="#ffff36"/><rect x="1906.6" y="325.8" width="13.8" height="7.4" fill="#ffff0b"/><rect x="1919.6" y="325.8" width="13.8" height="7.4" fill="#ffdc00"/><rect x="1932.5" y="325.8" width="13.8" height="7.4" fill="#ff9b00"/><rect x="1945.5" y="325.8" width="13.8" height="7.4" fill="#ff4900"/><rect x="1958.5" y="325.8" width="13.8" height="7.4" fill="#ff0d00"/><rect x="1971.4" y="325.8" width="13.8" height="7.4" fill="#ff0a00"/><rect x="1984.4" y="325.8" width="13.8" height="7.4" fill="#ff2500"/><rect x="1997.4" y="325.8" width="13.8" height="7.4" fill="#ff4900"/><rect x="2010.3" y="325.8" width="13.8" height="7.4" fill="#ff7e00"/><rect x="1310.1" y="332.4" width="13.8" height="7.4" fill="#fffffb"/><rect x="1323.1" y="332.4" width="13.8" height="7.4" fill="#fffef7"/><rect x="1336" y="332.4" width="13.8" height="7.4" fill="#fffef3"/><rect x="1349" y="332.4" width="13.8" height="7.4" fill="#fffeef"/><rect x="1362" y="332.4" width="13.8" height="7.4" fill="#fffde7"/><rect x="1374.9" y="332.4" width="13.8" height="7.4" fill="#fffddf"/><rect x="1387.9" y="332.4" width="13.8" height="7.4" fill="#fffcd0"/><rect x="1400.9" y="332.4" width="13.8" height="7.4" fill="#fffcbc"/><rect x="1413.8" y="332.4" width="13.8" height="7.4" fill="#fffd99"/><rect x="1426.8" y="332.4" width="13.8" height="7.4" fill="#fffd95"/><rect x="1439.8" y="332.4" width="13.8" height="7.4" fill="#ffff61"/><rect x="1452.7" y="332.4" width="13.8" height="7.4" fill="#ffff26"/><rect x="1465.7" y="332.4" width="13.8" height="7.4" fill="#fff100"/><rect x="1478.7" y="332.4" width="13.8" height="7.4" fill="#ffcc00"/><rect x="1491.6" y="332.4" width="13.8" height="7.4" fill="#ffb500"/><rect x="1504.6" y="332.4" width="13.8" height="7.4" fill="#ffaa00"/><rect x="1517.6" y="332.4" width="13.8" height="7.4" fill="#ffb000"/><rect x="1530.5" y="332.4" width="13.8" height="7.4" fill="#ffc700"/><rect x="1543.5" y="332.4" width="13.8" height="7.4" fill="#ffe700"/><rect x="1556.5" y="332.4" width="13.8" height="7.4" fill="#ffff13"/><rect x="1569.4" y="332.4" width="13.8" height="7.4" fill="#ffff4e"/><rect x="1582.4" y="332.4" width="13.8" height="7.4" fill="#ffff5e"/><rect x="1595.4" y="332.4" width="13.8" height="7.4" fill="#ffff4e"/><rect x="1608.3" y="332.4" width="13.8" height="7.4" fill="#ffff46"/><rect x="1621.3" y="332.4" width="13.8" height="7.4" fill="#ffff42"/><rect x="1634.3" y="332.4" width="13.8" height="7.4" fill="#ffff46"/><rect x="1647.2" y="332.4" width="13.8" height="7.4" fill="#ffff4e"/><rect x="1660.2" y="332.4" width="13.8" height="7.4" fill="#ffff56"/><rect x="1673.2" y="332.4" width="13.8" height="7.4" fill="#ffff61"/><rect x="1686.2" y="332.4" width="13.8" height="7.4" fill="#ffff6d"/><rect x="1699.1" y="332.4" width="13.8" height="7.4" fill="#ffff71"/><rect x="1712.1" y="332.4" width="13.8" height="7.4" fill="#ffff75"/><rect x="1725.1" y="332.4" width="13.8" height="7.4" fill="#fffe79"/><rect x="1738" y="332.4" width="13.8" height="7.4" fill="#fffe7d"/><rect x="1751" y="332.4" width="13.8" height="7.4" fill="#fffe81"/><rect x="1764" y="332.4" width="13.8" height="7.4" fill="#fffe8d"/><rect x="1776.9" y="332.4" width="13.8" height="7.4" fill="#fffd95"/><rect x="1789.9" y="332.4" width="13.8" height="7.4" fill="#fffd9d"/><rect x="1802.9" y="332.4" width="13.8" height="7.4" fill="#fffd99"/><rect x="1815.8" y="332.4" width="13.8" height="7.4" fill="#fffd91"/><rect x="1828.8" y="332.4" width="13.8" height="7.4" fill="#fffe89"/><rect x="1841.8" y="332.4" width="13.8" height="7.4" fill="#fffe85"/><rect x="1854.7" y="332.4" width="13.8" height="7.4" fill="#fffe79"/><rect x="1867.7" y="332.4" width="13.8" height="7.4" fill="#ffff6d"/><rect x="1880.7" y="332.4" width="13.8" height="7.4" fill="#ffff5a"/><rect x="1893.6" y="332.4" width="13.8" height="7.4" fill="#ffff3e"/><rect x="1906.6" y="332.4" width="13.8" height="7.4" fill="#ffff13"/><rect x="1919.6" y="332.4" width="13.8" height="7.4" fill="#ffe400"/><rect x="1932.5" y="332.4" width="13.8" height="7.4" fill="#ffa800"/><rect x="1945.5" y="332.4" width="13.8" height="7.4" fill="#ff5600"/><rect x="1958.5" y="332.4" width="13.8" height="7.4" fill="#ff1700"/><rect x="1971.4" y="332.4" width="13.8" height="7.4" fill="#ff0d00"/><rect x="1984.4" y="332.4" width="13.8" height="7.4" fill="#ff2a00"/><rect x="1997.4" y="332.4" width="13.8" height="7.4" fill="#ff5100"/><rect x="2010.3" y="332.4" width="13.8" height="7.4" fill="#ff8000"/><rect x="1297.1" y="339" width="13.8" height="7.4" fill="#fffffb"/><rect x="1310.1" y="339" width="13.8" height="7.4" fill="#fffef7"/><rect x="1323.1" y="339" width="13.8" height="7.4" fill="#fffef3"/><rect x="1336" y="339" width="13.8" height="7.4" fill="#fffeef"/><rect x="1349" y="339" width="13.8" height="7.4" fill="#fffde7"/><rect x="1362" y="339" width="13.8" height="7.4" fill="#fffddc"/><rect x="1374.9" y="339" width="13.8" height="7.4" fill="#fffccc"/><rect x="1387.9" y="339" width="13.8" height="7.4" fill="#fffcb8"/><rect x="1400.9" y="339" width="13.8" height="7.4" fill="#fffd99"/><rect x="1413.8" y="339" width="13.8" height="7.4" fill="#fffd95"/><rect x="1426.8" y="339" width="13.8" height="7.4" fill="#ffff65"/><rect x="1439.8" y="339" width="13.8" height="7.4" fill="#ffff2a"/><rect x="1452.7" y="339" width="13.8" height="7.4" fill="#fff400"/><rect x="1465.7" y="339" width="13.8" height="7.4" fill="#ffd200"/><rect x="1478.7" y="339" width="13.8" height="7.4" fill="#ffba00"/><rect x="1491.6" y="339" width="13.8" height="7.4" fill="#ffb200"/><rect x="1504.6" y="339" width="13.8" height="7.4" fill="#ffba00"/><rect x="1517.6" y="339" width="13.8" height="7.4" fill="#ffcf00"/><rect x="1530.5" y="339" width="13.8" height="7.4" fill="#ffef00"/><rect x="1543.5" y="339" width="13.8" height="7.4" fill="#ffff1f"/><rect x="1556.5" y="339" width="13.8" height="7.4" fill="#ffff56"/><rect x="1569.4" y="339" width="13.8" height="7.4" fill="#ffff71"/><rect x="1582.4" y="339" width="13.8" height="7.4" fill="#ffff65"/><rect x="1595.4" y="339" width="13.8" height="7.4" fill="#ffff5a"/><rect x="1608.3" y="339" width="13.8" height="7.4" fill="#ffff56"/><rect x="1621.3" y="339" width="13.8" height="7.4" fill="#ffff52"/><rect x="1634.3" y="339" width="13.8" height="7.4" fill="#ffff56"/><rect x="1647.2" y="339" width="13.8" height="7.4" fill="#ffff5a"/><rect x="1660.2" y="339" width="13.8" height="7.4" fill="#ffff61"/><rect x="1673.2" y="339" width="13.8" height="7.4" fill="#ffff6d"/><rect x="1686.2" y="339" width="13.8" height="7.4" fill="#ffff75"/><rect x="1699.1" y="339" width="13.8" height="7.4" fill="#fffe79"/><rect x="1712.1" y="339" width="13.8" height="7.4" fill="#fffe7d"/><rect x="1725.1" y="339" width="13.8" height="7.4" fill="#fffe85"/><rect x="1738" y="339" width="13.8" height="7.4" fill="#fffe89"/><rect x="1751" y="339" width="13.8" height="7.4" fill="#fffd91"/><rect x="1764" y="339" width="13.8" height="7.4" fill="#fffd99"/><rect x="1776.9" y="339" width="52.7" height="7.4" fill="#fffd9d"/><rect x="1828.8" y="339" width="13.8" height="7.4" fill="#fffd99"/><rect x="1841.8" y="339" width="13.8" height="7.4" fill="#fffe8d"/><rect x="1854.7" y="339" width="13.8" height="7.4" fill="#fffe7d"/><rect x="1867.7" y="339" width="13.8" height="7.4" fill="#ffff71"/><rect x="1880.7" y="339" width="13.8" height="7.4" fill="#ffff61"/><rect x="1893.6" y="339" width="13.8" height="7.4" fill="#ffff46"/><rect x="1906.6" y="339" width="13.8" height="7.4" fill="#ffff1b"/><rect x="1919.6" y="339" width="13.8" height="7.4" fill="#ffec00"/><rect x="1932.5" y="339" width="13.8" height="7.4" fill="#ffb200"/><rect x="1945.5" y="339" width="13.8" height="7.4" fill="#ff6900"/><rect x="1958.5" y="339" width="13.8" height="7.4" fill="#ff1f00"/><rect x="1971.4" y="339" width="13.8" height="7.4" fill="#ff1000"/><rect x="1984.4" y="339" width="13.8" height="7.4" fill="#ff2f00"/><rect x="1997.4" y="339" width="13.8" height="7.4" fill="#ff5600"/><rect x="2010.3" y="339" width="13.8" height="7.4" fill="#ff8300"/><rect x="1284.2" y="345.7" width="26.7" height="7.4" fill="#fffffb"/><rect x="1310.1" y="345.7" width="13.8" height="7.4" fill="#fffef7"/><rect x="1323.1" y="345.7" width="13.8" height="7.4" fill="#fffeef"/><rect x="1336" y="345.7" width="13.8" height="7.4" fill="#fffde7"/><rect x="1349" y="345.7" width="13.8" height="7.4" fill="#fffddc"/><rect x="1362" y="345.7" width="13.8" height="7.4" fill="#fffccc"/><rect x="1374.9" y="345.7" width="13.8" height="7.4" fill="#fffcb4"/><rect x="1387.9" y="345.7" width="26.7" height="7.4" fill="#fffd95"/><rect x="1413.8" y="345.7" width="13.8" height="7.4" fill="#ffff65"/><rect x="1426.8" y="345.7" width="13.8" height="7.4" fill="#ffff2e"/><rect x="1439.8" y="345.7" width="13.8" height="7.4" fill="#fff900"/><rect x="1452.7" y="345.7" width="13.8" height="7.4" fill="#ffda00"/><rect x="1465.7" y="345.7" width="13.8" height="7.4" fill="#ffc200"/><rect x="1478.7" y="345.7" width="13.8" height="7.4" fill="#ffbd00"/><rect x="1491.6" y="345.7" width="13.8" height="7.4" fill="#ffc500"/><rect x="1504.6" y="345.7" width="13.8" height="7.4" fill="#ffda00"/><rect x="1517.6" y="345.7" width="13.8" height="7.4" fill="#fff600"/><rect x="1530.5" y="345.7" width="13.8" height="7.4" fill="#ffff2a"/><rect x="1543.5" y="345.7" width="13.8" height="7.4" fill="#ffff61"/><rect x="1556.5" y="345.7" width="13.8" height="7.4" fill="#fffe81"/><rect x="1569.4" y="345.7" width="13.8" height="7.4" fill="#fffe79"/><rect x="1582.4" y="345.7" width="13.8" height="7.4" fill="#ffff71"/><rect x="1595.4" y="345.7" width="13.8" height="7.4" fill="#ffff6d"/><rect x="1608.3" y="345.7" width="13.8" height="7.4" fill="#ffff71"/><rect x="1621.3" y="345.7" width="13.8" height="7.4" fill="#ffff75"/><rect x="1634.3" y="345.7" width="13.8" height="7.4" fill="#fffe75"/><rect x="1647.2" y="345.7" width="26.7" height="7.4" fill="#fffe79"/><rect x="1673.2" y="345.7" width="13.8" height="7.4" fill="#fffe7d"/><rect x="1686.2" y="345.7" width="13.8" height="7.4" fill="#fffe81"/><rect x="1699.1" y="345.7" width="13.8" height="7.4" fill="#fffe85"/><rect x="1712.1" y="345.7" width="13.8" height="7.4" fill="#fffd8d"/><rect x="1725.1" y="345.7" width="13.8" height="7.4" fill="#fffd95"/><rect x="1738" y="345.7" width="13.8" height="7.4" fill="#fffd99"/><rect x="1751" y="345.7" width="39.7" height="7.4" fill="#fffd9d"/><rect x="1789.9" y="345.7" width="13.8" height="7.4" fill="#fffda0"/><rect x="1802.9" y="345.7" width="39.7" height="7.4" fill="#fffd9d"/><rect x="1841.8" y="345.7" width="13.8" height="7.4" fill="#fffd99"/><rect x="1854.7" y="345.7" width="13.8" height="7.4" fill="#fffe89"/><rect x="1867.7" y="345.7" width="13.8" height="7.4" fill="#ffff75"/><rect x="1880.7" y="345.7" width="13.8" height="7.4" fill="#ffff61"/><rect x="1893.6" y="345.7" width="13.8" height="7.4" fill="#ffff4a"/><rect x="1906.6" y="345.7" width="13.8" height="7.4" fill="#ffff22"/><rect x="1919.6" y="345.7" width="13.8" height="7.4" fill="#fff100"/><rect x="1932.5" y="345.7" width="13.8" height="7.4" fill="#ffbd00"/><rect x="1945.5" y="345.7" width="13.8" height="7.4" fill="#ff6e00"/><rect x="1958.5" y="345.7" width="13.8" height="7.4" fill="#ff2500"/><rect x="1971.4" y="345.7" width="13.8" height="7.4" fill="#ff1200"/><rect x="1984.4" y="345.7" width="13.8" height="7.4" fill="#ff2f00"/><rect x="1997.4" y="345.7" width="13.8" height="7.4" fill="#ff5c00"/><rect x="2010.3" y="345.7" width="13.8" height="7.4" fill="#ff8600"/><rect x="1284.2" y="352.3" width="13.8" height="7.4" fill="#fffffb"/><rect x="1297.1" y="352.3" width="13.8" height="7.4" fill="#fffef7"/><rect x="1310.1" y="352.3" width="13.8" height="7.4" fill="#fffef3"/><rect x="1323.1" y="352.3" width="13.8" height="7.4" fill="#fffeeb"/><rect x="1336" y="352.3" width="13.8" height="7.4" fill="#fffddf"/><rect x="1349" y="352.3" width="13.8" height="7.4" fill="#fffccc"/><rect x="1362" y="352.3" width="13.8" height="7.4" fill="#fffcb4"/><rect x="1374.9" y="352.3" width="13.8" height="7.4" fill="#fffd8d"/><rect x="1387.9" y="352.3" width="13.8" height="7.4" fill="#fffd99"/><rect x="1400.9" y="352.3" width="13.8" height="7.4" fill="#ffff69"/><rect x="1413.8" y="352.3" width="13.8" height="7.4" fill="#ffff32"/><rect x="1426.8" y="352.3" width="13.8" height="7.4" fill="#fffe00"/><rect x="1439.8" y="352.3" width="13.8" height="7.4" fill="#ffdf00"/><rect x="1452.7" y="352.3" width="13.8" height="7.4" fill="#ffca00"/><rect x="1465.7" y="352.3" width="13.8" height="7.4" fill="#ffc500"/><rect x="1478.7" y="352.3" width="13.8" height="7.4" fill="#ffcf00"/><rect x="1491.6" y="352.3" width="13.8" height="7.4" fill="#ffe400"/><rect x="1504.6" y="352.3" width="13.8" height="7.4" fill="#ffff07"/><rect x="1517.6" y="352.3" width="13.8" height="7.4" fill="#ffff36"/><rect x="1530.5" y="352.3" width="13.8" height="7.4" fill="#ffff69"/><rect x="1543.5" y="352.3" width="13.8" height="7.4" fill="#fffd8d"/><rect x="1556.5" y="352.3" width="26.7" height="7.4" fill="#fffe8d"/><rect x="1582.4" y="352.3" width="26.7" height="7.4" fill="#fffe89"/><rect x="1608.3" y="352.3" width="13.8" height="7.4" fill="#fffe8d"/><rect x="1621.3" y="352.3" width="78.6" height="7.4" fill="#fffd91"/><rect x="1699.1" y="352.3" width="13.8" height="7.4" fill="#fffd95"/><rect x="1712.1" y="352.3" width="65.6" height="7.4" fill="#fffd9d"/><rect x="1776.9" y="352.3" width="13.8" height="7.4" fill="#fffca8"/><rect x="1789.9" y="352.3" width="13.8" height="7.4" fill="#fffcb4"/><rect x="1802.9" y="352.3" width="13.8" height="7.4" fill="#fffca8"/><rect x="1815.8" y="352.3" width="39.7" height="7.4" fill="#fffd9d"/><rect x="1854.7" y="352.3" width="13.8" height="7.4" fill="#fffd95"/><rect x="1867.7" y="352.3" width="13.8" height="7.4" fill="#fffe79"/><rect x="1880.7" y="352.3" width="13.8" height="7.4" fill="#ffff65"/><rect x="1893.6" y="352.3" width="13.8" height="7.4" fill="#ffff4e"/><rect x="1906.6" y="352.3" width="13.8" height="7.4" fill="#ffff2a"/><rect x="1919.6" y="352.3" width="13.8" height="7.4" fill="#fff900"/><rect x="1932.5" y="352.3" width="13.8" height="7.4" fill="#ffc500"/><rect x="1945.5" y="352.3" width="13.8" height="7.4" fill="#ff7b00"/><rect x="1958.5" y="352.3" width="13.8" height="7.4" fill="#ff2a00"/><rect x="1971.4" y="352.3" width="13.8" height="7.4" fill="#ff1200"/><rect x="1984.4" y="352.3" width="13.8" height="7.4" fill="#ff3200"/><rect x="1997.4" y="352.3" width="13.8" height="7.4" fill="#ff5e00"/><rect x="2010.3" y="352.3" width="13.8" height="7.4" fill="#ff8600"/><rect x="1271.2" y="358.9" width="26.7" height="7.4" fill="#fffffb"/><rect x="1297.1" y="358.9" width="13.8" height="7.4" fill="#fffef7"/><rect x="1310.1" y="358.9" width="13.8" height="7.4" fill="#fffeef"/><rect x="1323.1" y="358.9" width="13.8" height="7.4" fill="#fffddf"/><rect x="1336" y="358.9" width="13.8" height="7.4" fill="#fffcd0"/><rect x="1349" y="358.9" width="13.8" height="7.4" fill="#fffcb0"/><rect x="1362" y="358.9" width="13.8" height="7.4" fill="#fffe8d"/><rect x="1374.9" y="358.9" width="13.8" height="7.4" fill="#fffd99"/><rect x="1387.9" y="358.9" width="13.8" height="7.4" fill="#ffff69"/><rect x="1400.9" y="358.9" width="13.8" height="7.4" fill="#ffff36"/><rect x="1413.8" y="358.9" width="13.8" height="7.4" fill="#ffff07"/><rect x="1426.8" y="358.9" width="13.8" height="7.4" fill="#ffe700"/><rect x="1439.8" y="358.9" width="13.8" height="7.4" fill="#ffd400"/><rect x="1452.7" y="358.9" width="13.8" height="7.4" fill="#ffcf00"/><rect x="1465.7" y="358.9" width="13.8" height="7.4" fill="#ffda00"/><rect x="1478.7" y="358.9" width="13.8" height="7.4" fill="#fff100"/><rect x="1491.6" y="358.9" width="13.8" height="7.4" fill="#ffff17"/><rect x="1504.6" y="358.9" width="13.8" height="7.4" fill="#ffff46"/><rect x="1517.6" y="358.9" width="13.8" height="7.4" fill="#ffff75"/><rect x="1530.5" y="358.9" width="13.8" height="7.4" fill="#fffd95"/><rect x="1543.5" y="358.9" width="13.8" height="7.4" fill="#fffd99"/><rect x="1556.5" y="358.9" width="195.3" height="7.4" fill="#fffd9d"/><rect x="1751" y="358.9" width="13.8" height="7.4" fill="#fffda0"/><rect x="1764" y="358.9" width="13.8" height="7.4" fill="#fffcac"/><rect x="1776.9" y="358.9" width="13.8" height="7.4" fill="#fffcb8"/><rect x="1789.9" y="358.9" width="13.8" height="7.4" fill="#fffcc4"/><rect x="1802.9" y="358.9" width="13.8" height="7.4" fill="#fffcb8"/><rect x="1815.8" y="358.9" width="13.8" height="7.4" fill="#fffcac"/><rect x="1828.8" y="358.9" width="13.8" height="7.4" fill="#fffda0"/><rect x="1841.8" y="358.9" width="26.7" height="7.4" fill="#fffd9d"/><rect x="1867.7" y="358.9" width="13.8" height="7.4" fill="#fffe81"/><rect x="1880.7" y="358.9" width="13.8" height="7.4" fill="#ffff69"/><rect x="1893.6" y="358.9" width="13.8" height="7.4" fill="#ffff52"/><rect x="1906.6" y="358.9" width="13.8" height="7.4" fill="#ffff32"/><rect x="1919.6" y="358.9" width="13.8" height="7.4" fill="#fffe00"/><rect x="1932.5" y="358.9" width="13.8" height="7.4" fill="#ffcc00"/><rect x="1945.5" y="358.9" width="13.8" height="7.4" fill="#ff8600"/><rect x="1958.5" y="358.9" width="13.8" height="7.4" fill="#ff2f00"/><rect x="1971.4" y="358.9" width="13.8" height="7.4" fill="#ff1500"/><rect x="1984.4" y="358.9" width="13.8" height="7.4" fill="#ff3400"/><rect x="1997.4" y="358.9" width="13.8" height="7.4" fill="#ff6100"/><rect x="2010.3" y="358.9" width="13.8" height="7.4" fill="#ff8800"/><rect x="1271.2" y="365.6" width="13.8" height="7.4" fill="#fffffb"/><rect x="1284.2" y="365.6" width="13.8" height="7.4" fill="#fffef7"/><rect x="1297.1" y="365.6" width="13.8" height="7.4" fill="#fffef3"/><rect x="1310.1" y="365.6" width="13.8" height="7.4" fill="#fffde7"/><rect x="1323.1" y="365.6" width="13.8" height="7.4" fill="#fffcd8"/><rect x="1336" y="365.6" width="13.8" height="7.4" fill="#fffcbc"/><rect x="1349" y="365.6" width="13.8" height="7.4" fill="#fffd91"/><rect x="1362" y="365.6" width="13.8" height="7.4" fill="#fffd99"/><rect x="1374.9" y="365.6" width="13.8" height="7.4" fill="#ffff69"/><rect x="1387.9" y="365.6" width="13.8" height="7.4" fill="#ffff3a"/><rect x="1400.9" y="365.6" width="13.8" height="7.4" fill="#ffff0b"/><rect x="1413.8" y="365.6" width="13.8" height="7.4" fill="#ffef00"/><rect x="1426.8" y="365.6" width="13.8" height="7.4" fill="#ffdc00"/><rect x="1439.8" y="365.6" width="13.8" height="7.4" fill="#ffda00"/><rect x="1452.7" y="365.6" width="13.8" height="7.4" fill="#ffe400"/><rect x="1465.7" y="365.6" width="13.8" height="7.4" fill="#fffc00"/><rect x="1478.7" y="365.6" width="13.8" height="7.4" fill="#ffff26"/><rect x="1491.6" y="365.6" width="13.8" height="7.4" fill="#ffff56"/><rect x="1504.6" y="365.6" width="13.8" height="7.4" fill="#fffe81"/><rect x="1517.6" y="365.6" width="13.8" height="7.4" fill="#fffd99"/><rect x="1530.5" y="365.6" width="91.6" height="7.4" fill="#fffd9d"/><rect x="1621.3" y="365.6" width="39.7" height="7.4" fill="#fffda0"/><rect x="1660.2" y="365.6" width="52.7" height="7.4" fill="#fffd9d"/><rect x="1712.1" y="365.6" width="13.8" height="7.4" fill="#fffda0"/><rect x="1725.1" y="365.6" width="13.8" height="7.4" fill="#fffcac"/><rect x="1738" y="365.6" width="13.8" height="7.4" fill="#fffcb0"/><rect x="1751" y="365.6" width="13.8" height="7.4" fill="#fffcb4"/><rect x="1764" y="365.6" width="13.8" height="7.4" fill="#fffcbc"/><rect x="1776.9" y="365.6" width="13.8" height="7.4" fill="#fffcc4"/><rect x="1789.9" y="365.6" width="13.8" height="7.4" fill="#fffcd0"/><rect x="1802.9" y="365.6" width="13.8" height="7.4" fill="#fffcc8"/><rect x="1815.8" y="365.6" width="13.8" height="7.4" fill="#fffcbc"/><rect x="1828.8" y="365.6" width="13.8" height="7.4" fill="#fffcb4"/><rect x="1841.8" y="365.6" width="13.8" height="7.4" fill="#fffda4"/><rect x="1854.7" y="365.6" width="13.8" height="7.4" fill="#fffd9d"/><rect x="1867.7" y="365.6" width="13.8" height="7.4" fill="#fffe8d"/><rect x="1880.7" y="365.6" width="13.8" height="7.4" fill="#ffff6d"/><rect x="1893.6" y="365.6" width="13.8" height="7.4" fill="#ffff56"/><rect x="1906.6" y="365.6" width="13.8" height="7.4" fill="#ffff36"/><rect x="1919.6" y="365.6" width="13.8" height="7.4" fill="#ffff07"/><rect x="1932.5" y="365.6" width="13.8" height="7.4" fill="#ffd400"/><rect x="1945.5" y="365.6" width="13.8" height="7.4" fill="#ff8e00"/><rect x="1958.5" y="365.6" width="13.8" height="7.4" fill="#ff3400"/><rect x="1971.4" y="365.6" width="13.8" height="7.4" fill="#ff1700"/><rect x="1984.4" y="365.6" width="13.8" height="7.4" fill="#ff3400"/><rect x="1997.4" y="365.6" width="13.8" height="7.4" fill="#ff6400"/><rect x="2010.3" y="365.6" width="13.8" height="7.4" fill="#ff8800"/><rect x="1271.2" y="372.2" width="13.8" height="7.4" fill="#fffffb"/><rect x="1284.2" y="372.2" width="13.8" height="7.4" fill="#fffef7"/><rect x="1297.1" y="372.2" width="13.8" height="7.4" fill="#fffeef"/><rect x="1310.1" y="372.2" width="13.8" height="7.4" fill="#fffddf"/><rect x="1323.1" y="372.2" width="13.8" height="7.4" fill="#fffcc8"/><rect x="1336" y="372.2" width="13.8" height="7.4" fill="#fffd9d"/><rect x="1349" y="372.2" width="13.8" height="7.4" fill="#fffd99"/><rect x="1362" y="372.2" width="13.8" height="7.4" fill="#ffff6d"/><rect x="1374.9" y="372.2" width="13.8" height="7.4" fill="#ffff3e"/><rect x="1387.9" y="372.2" width="13.8" height="7.4" fill="#ffff13"/><rect x="1400.9" y="372.2" width="13.8" height="7.4" fill="#fff400"/><rect x="1413.8" y="372.2" width="13.8" height="7.4" fill="#ffe700"/><rect x="1426.8" y="372.2" width="13.8" height="7.4" fill="#ffe400"/><rect x="1439.8" y="372.2" width="13.8" height="7.4" fill="#fff100"/><rect x="1452.7" y="372.2" width="13.8" height="7.4" fill="#ffff0b"/><rect x="1465.7" y="372.2" width="13.8" height="7.4" fill="#ffff36"/><rect x="1478.7" y="372.2" width="13.8" height="7.4" fill="#ffff65"/><rect x="1491.6" y="372.2" width="13.8" height="7.4" fill="#fffe8d"/><rect x="1504.6" y="372.2" width="65.6" height="7.4" fill="#fffd9d"/><rect x="1569.4" y="372.2" width="13.8" height="7.4" fill="#fffda0"/><rect x="1582.4" y="372.2" width="13.8" height="7.4" fill="#fffda4"/><rect x="1595.4" y="372.2" width="13.8" height="7.4" fill="#fffca8"/><rect x="1608.3" y="372.2" width="13.8" height="7.4" fill="#fffcb0"/><rect x="1621.3" y="372.2" width="39.7" height="7.4" fill="#fffcb4"/><rect x="1660.2" y="372.2" width="13.8" height="7.4" fill="#fffcb0"/><rect x="1673.2" y="372.2" width="13.8" height="7.4" fill="#fffcac"/><rect x="1686.2" y="372.2" width="13.8" height="7.4" fill="#fffca8"/><rect x="1699.1" y="372.2" width="13.8" height="7.4" fill="#fffcac"/><rect x="1712.1" y="372.2" width="13.8" height="7.4" fill="#fffcb4"/><rect x="1725.1" y="372.2" width="13.8" height="7.4" fill="#fffcbc"/><rect x="1738" y="372.2" width="13.8" height="7.4" fill="#fffcc0"/><rect x="1751" y="372.2" width="13.8" height="7.4" fill="#fffcc4"/><rect x="1764" y="372.2" width="13.8" height="7.4" fill="#fffcc8"/><rect x="1776.9" y="372.2" width="13.8" height="7.4" fill="#fffcd0"/><rect x="1789.9" y="372.2" width="13.8" height="7.4" fill="#fffcd8"/><rect x="1802.9" y="372.2" width="13.8" height="7.4" fill="#fffcd0"/><rect x="1815.8" y="372.2" width="13.8" height="7.4" fill="#fffcc8"/><rect x="1828.8" y="372.2" width="13.8" height="7.4" fill="#fffcc0"/><rect x="1841.8" y="372.2" width="13.8" height="7.4" fill="#fffcb0"/><rect x="1854.7" y="372.2" width="13.8" height="7.4" fill="#fffd9d"/><rect x="1867.7" y="372.2" width="13.8" height="7.4" fill="#fffd91"/><rect x="1880.7" y="372.2" width="13.8" height="7.4" fill="#ffff6d"/><rect x="1893.6" y="372.2" width="13.8" height="7.4" fill="#ffff5a"/><rect x="1906.6" y="372.2" width="13.8" height="7.4" fill="#ffff3a"/><rect x="1919.6" y="372.2" width="13.8" height="7.4" fill="#ffff0b"/><rect x="1932.5" y="372.2" width="13.8" height="7.4" fill="#ffda00"/><rect x="1945.5" y="372.2" width="13.8" height="7.4" fill="#ff9800"/><rect x="1958.5" y="372.2" width="13.8" height="7.4" fill="#ff3c00"/><rect x="1971.4" y="372.2" width="13.8" height="7.4" fill="#ff1700"/><rect x="1984.4" y="372.2" width="13.8" height="7.4" fill="#ff3700"/><rect x="1997.4" y="372.2" width="13.8" height="7.4" fill="#ff6600"/><rect x="2010.3" y="372.2" width="13.8" height="7.4" fill="#ff8b00"/><rect x="1271.2" y="378.8" width="13.8" height="7.4" fill="#fffffb"/><rect x="1284.2" y="378.8" width="13.8" height="7.4" fill="#fffef3"/><rect x="1297.1" y="378.8" width="13.8" height="7.4" fill="#fffeeb"/><rect x="1310.1" y="378.8" width="13.8" height="7.4" fill="#fffcd8"/><rect x="1323.1" y="378.8" width="13.8" height="7.4" fill="#fffcb0"/><rect x="1336" y="378.8" width="13.8" height="7.4" fill="#fffd9d"/><rect x="1349" y="378.8" width="13.8" height="7.4" fill="#ffff71"/><rect x="1362" y="378.8" width="13.8" height="7.4" fill="#ffff42"/><rect x="1374.9" y="378.8" width="13.8" height="7.4" fill="#ffff17"/><rect x="1387.9" y="378.8" width="13.8" height="7.4" fill="#fff900"/><rect x="1400.9" y="378.8" width="26.7" height="7.4" fill="#ffef00"/><rect x="1426.8" y="378.8" width="13.8" height="7.4" fill="#fffc00"/><rect x="1439.8" y="378.8" width="13.8" height="7.4" fill="#ffff1b"/><rect x="1452.7" y="378.8" width="13.8" height="7.4" fill="#ffff46"/><rect x="1465.7" y="378.8" width="13.8" height="7.4" fill="#ffff71"/><rect x="1478.7" y="378.8" width="13.8" height="7.4" fill="#fffd99"/><rect x="1491.6" y="378.8" width="52.7" height="7.4" fill="#fffd9d"/><rect x="1543.5" y="378.8" width="13.8" height="7.4" fill="#fffda0"/><rect x="1556.5" y="378.8" width="13.8" height="7.4" fill="#fffcb0"/><rect x="1569.4" y="378.8" width="13.8" height="7.4" fill="#fffcb4"/><rect x="1582.4" y="378.8" width="13.8" height="7.4" fill="#fffcb8"/><rect x="1595.4" y="378.8" width="13.8" height="7.4" fill="#fffcbc"/><rect x="1608.3" y="378.8" width="13.8" height="7.4" fill="#fffcc0"/><rect x="1621.3" y="378.8" width="39.7" height="7.4" fill="#fffcc4"/><rect x="1660.2" y="378.8" width="13.8" height="7.4" fill="#fffcc0"/><rect x="1673.2" y="378.8" width="39.7" height="7.4" fill="#fffcbc"/><rect x="1712.1" y="378.8" width="13.8" height="7.4" fill="#fffcc0"/><rect x="1725.1" y="378.8" width="13.8" height="7.4" fill="#fffcc8"/><rect x="1738" y="378.8" width="13.8" height="7.4" fill="#fffccc"/><rect x="1751" y="378.8" width="13.8" height="7.4" fill="#fffcd0"/><rect x="1764" y="378.8" width="13.8" height="7.4" fill="#fffcd4"/><rect x="1776.9" y="378.8" width="39.7" height="7.4" fill="#fffcd8"/><rect x="1815.8" y="378.8" width="13.8" height="7.4" fill="#fffcd4"/><rect x="1828.8" y="378.8" width="13.8" height="7.4" fill="#fffccc"/><rect x="1841.8" y="378.8" width="13.8" height="7.4" fill="#fffcb8"/><rect x="1854.7" y="378.8" width="13.8" height="7.4" fill="#fffd9d"/><rect x="1867.7" y="378.8" width="13.8" height="7.4" fill="#fffd91"/><rect x="1880.7" y="378.8" width="13.8" height="7.4" fill="#ffff71"/><rect x="1893.6" y="378.8" width="13.8" height="7.4" fill="#ffff5e"/><rect x="1906.6" y="378.8" width="13.8" height="7.4" fill="#ffff3e"/><rect x="1919.6" y="378.8" width="13.8" height="7.4" fill="#ffff0f"/><rect x="1932.5" y="378.8" width="13.8" height="7.4" fill="#ffdc00"/><rect x="1945.5" y="378.8" width="13.8" height="7.4" fill="#ff9b00"/><rect x="1958.5" y="378.8" width="13.8" height="7.4" fill="#ff3f00"/><rect x="1971.4" y="378.8" width="13.8" height="7.4" fill="#ff1700"/><rect x="1984.4" y="378.8" width="13.8" height="7.4" fill="#ff3700"/><rect x="1997.4" y="378.8" width="13.8" height="7.4" fill="#ff6900"/><rect x="2010.3" y="378.8" width="13.8" height="7.4" fill="#ff8b00"/><rect x="1271.2" y="385.5" width="13.8" height="7.4" fill="#fffff7"/><rect x="1284.2" y="385.5" width="13.8" height="7.4" fill="#fffef3"/><rect x="1297.1" y="385.5" width="13.8" height="7.4" fill="#fffde3"/><rect x="1310.1" y="385.5" width="13.8" height="7.4" fill="#fffcc0"/><rect x="1323.1" y="385.5" width="13.8" height="7.4" fill="#fffd95"/><rect x="1336" y="385.5" width="13.8" height="7.4" fill="#ffff71"/><rect x="1349" y="385.5" width="13.8" height="7.4" fill="#ffff46"/><rect x="1362" y="385.5" width="13.8" height="7.4" fill="#ffff1b"/><rect x="1374.9" y="385.5" width="13.8" height="7.4" fill="#fffe00"/><rect x="1387.9" y="385.5" width="13.8" height="7.4" fill="#fff600"/><rect x="1400.9" y="385.5" width="13.8" height="7.4" fill="#fff900"/><rect x="1413.8" y="385.5" width="13.8" height="7.4" fill="#ffff0b"/><rect x="1426.8" y="385.5" width="13.8" height="7.4" fill="#ffff2a"/><rect x="1439.8" y="385.5" width="13.8" height="7.4" fill="#ffff52"/><rect x="1452.7" y="385.5" width="13.8" height="7.4" fill="#fffe7d"/><rect x="1465.7" y="385.5" width="65.6" height="7.4" fill="#fffd9d"/><rect x="1530.5" y="385.5" width="13.8" height="7.4" fill="#fffda4"/><rect x="1543.5" y="385.5" width="13.8" height="7.4" fill="#fffcb4"/><rect x="1556.5" y="385.5" width="13.8" height="7.4" fill="#fffcc0"/><rect x="1569.4" y="385.5" width="13.8" height="7.4" fill="#fffcc4"/><rect x="1582.4" y="385.5" width="26.7" height="7.4" fill="#fffcc8"/><rect x="1608.3" y="385.5" width="13.8" height="7.4" fill="#fffccc"/><rect x="1621.3" y="385.5" width="39.7" height="7.4" fill="#fffcd0"/><rect x="1660.2" y="385.5" width="26.7" height="7.4" fill="#fffccc"/><rect x="1686.2" y="385.5" width="26.7" height="7.4" fill="#fffcc8"/><rect x="1712.1" y="385.5" width="13.8" height="7.4" fill="#fffccc"/><rect x="1725.1" y="385.5" width="13.8" height="7.4" fill="#fffcd4"/><rect x="1738" y="385.5" width="91.6" height="7.4" fill="#fffcd8"/><rect x="1828.8" y="385.5" width="13.8" height="7.4" fill="#fffcd0"/><rect x="1841.8" y="385.5" width="13.8" height="7.4" fill="#fffcb8"/><rect x="1854.7" y="385.5" width="13.8" height="7.4" fill="#fffd9d"/><rect x="1867.7" y="385.5" width="13.8" height="7.4" fill="#fffd8d"/><rect x="1880.7" y="385.5" width="13.8" height="7.4" fill="#ffff71"/><rect x="1893.6" y="385.5" width="13.8" height="7.4" fill="#ffff5a"/><rect x="1906.6" y="385.5" width="13.8" height="7.4" fill="#ffff3a"/><rect x="1919.6" y="385.5" width="13.8" height="7.4" fill="#ffff0b"/><rect x="1932.5" y="385.5" width="13.8" height="7.4" fill="#ffda00"/><rect x="1945.5" y="385.5" width="13.8" height="7.4" fill="#ff9500"/><rect x="1958.5" y="385.5" width="13.8" height="7.4" fill="#ff3f00"/><rect x="1971.4" y="385.5" width="13.8" height="7.4" fill="#ff1a00"/><rect x="1984.4" y="385.5" width="13.8" height="7.4" fill="#ff3a00"/><rect x="1997.4" y="385.5" width="13.8" height="7.4" fill="#ff6e00"/><rect x="2010.3" y="385.5" width="13.8" height="7.4" fill="#ff8e00"/><rect x="1271.2" y="392.1" width="13.8" height="7.4" fill="#fffef7"/><rect x="1284.2" y="392.1" width="13.8" height="7.4" fill="#fffeeb"/><rect x="1297.1" y="392.1" width="13.8" height="7.4" fill="#fffcd0"/><rect x="1310.1" y="392.1" width="13.8" height="7.4" fill="#fffd9d"/><rect x="1323.1" y="392.1" width="13.8" height="7.4" fill="#ffff71"/><rect x="1336" y="392.1" width="13.8" height="7.4" fill="#ffff4a"/><rect x="1349" y="392.1" width="13.8" height="7.4" fill="#ffff22"/><rect x="1362" y="392.1" width="13.8" height="7.4" fill="#ffff07"/><rect x="1374.9" y="392.1" width="13.8" height="7.4" fill="#fffe00"/><rect x="1387.9" y="392.1" width="13.8" height="7.4" fill="#ffff07"/><rect x="1400.9" y="392.1" width="13.8" height="7.4" fill="#ffff1b"/><rect x="1413.8" y="392.1" width="13.8" height="7.4" fill="#ffff3a"/><rect x="1426.8" y="392.1" width="13.8" height="7.4" fill="#ffff61"/><rect x="1439.8" y="392.1" width="13.8" height="7.4" fill="#fffe89"/><rect x="1452.7" y="392.1" width="65.6" height="7.4" fill="#fffd9d"/><rect x="1517.6" y="392.1" width="13.8" height="7.4" fill="#fffca8"/><rect x="1530.5" y="392.1" width="13.8" height="7.4" fill="#fffcb4"/><rect x="1543.5" y="392.1" width="13.8" height="7.4" fill="#fffcc0"/><rect x="1556.5" y="392.1" width="13.8" height="7.4" fill="#fffccc"/><rect x="1569.4" y="392.1" width="26.7" height="7.4" fill="#fffcd0"/><rect x="1595.4" y="392.1" width="13.8" height="7.4" fill="#fffcd4"/><rect x="1608.3" y="392.1" width="65.6" height="7.4" fill="#fffcd8"/><rect x="1673.2" y="392.1" width="39.7" height="7.4" fill="#fffcd4"/><rect x="1712.1" y="392.1" width="117.5" height="7.4" fill="#fffcd8"/><rect x="1828.8" y="392.1" width="13.8" height="7.4" fill="#fffcd0"/><rect x="1841.8" y="392.1" width="13.8" height="7.4" fill="#fffcb8"/><rect x="1854.7" y="392.1" width="13.8" height="7.4" fill="#fffd9d"/><rect x="1867.7" y="392.1" width="13.8" height="7.4" fill="#fffd91"/><rect x="1880.7" y="392.1" width="13.8" height="7.4" fill="#ffff6d"/><rect x="1893.6" y="392.1" width="13.8" height="7.4" fill="#ffff5a"/><rect x="1906.6" y="392.1" width="13.8" height="7.4" fill="#ffff36"/><rect x="1919.6" y="392.1" width="13.8" height="7.4" fill="#ffff07"/><rect x="1932.5" y="392.1" width="13.8" height="7.4" fill="#ffd400"/><rect x="1945.5" y="392.1" width="13.8" height="7.4" fill="#ff9000"/><rect x="1958.5" y="392.1" width="13.8" height="7.4" fill="#ff3c00"/><rect x="1971.4" y="392.1" width="13.8" height="7.4" fill="#ff1a00"/><rect x="1984.4" y="392.1" width="13.8" height="7.4" fill="#ff3c00"/><rect x="1997.4" y="392.1" width="13.8" height="7.4" fill="#ff7600"/><rect x="2010.3" y="392.1" width="13.8" height="7.4" fill="#ff9000"/><rect x="1271.2" y="398.7" width="13.8" height="7.4" fill="#fffeef"/><rect x="1284.2" y="398.7" width="13.8" height="7.4" fill="#fffddc"/><rect x="1297.1" y="398.7" width="13.8" height="7.4" fill="#fffcb8"/><rect x="1310.1" y="398.7" width="13.8" height="7.4" fill="#fffe7d"/><rect x="1323.1" y="398.7" width="13.8" height="7.4" fill="#ffff4e"/><rect x="1336" y="398.7" width="13.8" height="7.4" fill="#ffff2e"/><rect x="1349" y="398.7" width="13.8" height="7.4" fill="#ffff17"/><rect x="1362" y="398.7" width="13.8" height="7.4" fill="#ffff0b"/><rect x="1374.9" y="398.7" width="13.8" height="7.4" fill="#ffff13"/><rect x="1387.9" y="398.7" width="13.8" height="7.4" fill="#ffff2a"/><rect x="1400.9" y="398.7" width="13.8" height="7.4" fill="#ffff4a"/><rect x="1413.8" y="398.7" width="13.8" height="7.4" fill="#ffff6d"/><rect x="1426.8" y="398.7" width="13.8" height="7.4" fill="#fffd91"/><rect x="1439.8" y="398.7" width="52.7" height="7.4" fill="#fffd9d"/><rect x="1491.6" y="398.7" width="13.8" height="7.4" fill="#fffda0"/><rect x="1504.6" y="398.7" width="13.8" height="7.4" fill="#fffcb0"/><rect x="1517.6" y="398.7" width="13.8" height="7.4" fill="#fffcbc"/><rect x="1530.5" y="398.7" width="13.8" height="7.4" fill="#fffcc4"/><rect x="1543.5" y="398.7" width="13.8" height="7.4" fill="#fffccc"/><rect x="1556.5" y="398.7" width="13.8" height="7.4" fill="#fffcd4"/><rect x="1569.4" y="398.7" width="260.1" height="7.4" fill="#fffcd8"/><rect x="1828.8" y="398.7" width="13.8" height="7.4" fill="#fffcd4"/><rect x="1841.8" y="398.7" width="13.8" height="7.4" fill="#fffcbc"/><rect x="1854.7" y="398.7" width="13.8" height="7.4" fill="#fffd9d"/><rect x="1867.7" y="398.7" width="13.8" height="7.4" fill="#fffd99"/><rect x="1880.7" y="398.7" width="13.8" height="7.4" fill="#ffff71"/><rect x="1893.6" y="398.7" width="13.8" height="7.4" fill="#ffff56"/><rect x="1906.6" y="398.7" width="13.8" height="7.4" fill="#ffff36"/><rect x="1919.6" y="398.7" width="13.8" height="7.4" fill="#ffff07"/><rect x="1932.5" y="398.7" width="13.8" height="7.4" fill="#ffd200"/><rect x="1945.5" y="398.7" width="13.8" height="7.4" fill="#ff8b00"/><rect x="1958.5" y="398.7" width="13.8" height="7.4" fill="#ff3c00"/><rect x="1971.4" y="398.7" width="13.8" height="7.4" fill="#ff1a00"/><rect x="1984.4" y="398.7" width="13.8" height="7.4" fill="#ff3f00"/><rect x="1997.4" y="398.7" width="13.8" height="7.4" fill="#ff7900"/><rect x="2010.3" y="398.7" width="13.8" height="7.4" fill="#ff9000"/><rect x="1271.2" y="405.4" width="13.8" height="7.4" fill="#fffde7"/><rect x="1284.2" y="405.4" width="13.8" height="7.4" fill="#fffcc4"/><rect x="1297.1" y="405.4" width="13.8" height="7.4" fill="#fffda0"/><rect x="1310.1" y="405.4" width="13.8" height="7.4" fill="#ffff69"/><rect x="1323.1" y="405.4" width="13.8" height="7.4" fill="#ffff3a"/><rect x="1336" y="405.4" width="13.8" height="7.4" fill="#ffff26"/><rect x="1349" y="405.4" width="13.8" height="7.4" fill="#ffff22"/><rect x="1362" y="405.4" width="13.8" height="7.4" fill="#ffff26"/><rect x="1374.9" y="405.4" width="13.8" height="7.4" fill="#ffff3a"/><rect x="1387.9" y="405.4" width="13.8" height="7.4" fill="#ffff5a"/><rect x="1400.9" y="405.4" width="13.8" height="7.4" fill="#fffe7d"/><rect x="1413.8" y="405.4" width="65.6" height="7.4" fill="#fffd9d"/><rect x="1478.7" y="405.4" width="13.8" height="7.4" fill="#fffca8"/><rect x="1491.6" y="405.4" width="13.8" height="7.4" fill="#fffcb4"/><rect x="1504.6" y="405.4" width="13.8" height="7.4" fill="#fffcbc"/><rect x="1517.6" y="405.4" width="13.8" height="7.4" fill="#fffcc8"/><rect x="1530.5" y="405.4" width="13.8" height="7.4" fill="#fffcd0"/><rect x="1543.5" y="405.4" width="299" height="7.4" fill="#fffcd8"/><rect x="1841.8" y="405.4" width="13.8" height="7.4" fill="#fffcc0"/><rect x="1854.7" y="405.4" width="13.8" height="7.4" fill="#fffda4"/><rect x="1867.7" y="405.4" width="13.8" height="7.4" fill="#fffd9d"/><rect x="1880.7" y="405.4" width="13.8" height="7.4" fill="#fffe79"/><rect x="1893.6" y="405.4" width="13.8" height="7.4" fill="#ffff56"/><rect x="1906.6" y="405.4" width="13.8" height="7.4" fill="#ffff36"/><rect x="1919.6" y="405.4" width="13.8" height="7.4" fill="#ffff07"/><rect x="1932.5" y="405.4" width="13.8" height="7.4" fill="#ffd200"/><rect x="1945.5" y="405.4" width="13.8" height="7.4" fill="#ff8b00"/><rect x="1958.5" y="405.4" width="13.8" height="7.4" fill="#ff3f00"/><rect x="1971.4" y="405.4" width="13.8" height="7.4" fill="#ff1a00"/><rect x="1984.4" y="405.4" width="13.8" height="7.4" fill="#ff4100"/><rect x="1997.4" y="405.4" width="13.8" height="7.4" fill="#ff7b00"/><rect x="2010.3" y="405.4" width="13.8" height="7.4" fill="#ff9300"/><rect x="1271.2" y="412" width="13.8" height="7.4" fill="#fffddf"/><rect x="1284.2" y="412" width="13.8" height="7.4" fill="#fffcb4"/><rect x="1297.1" y="412" width="13.8" height="7.4" fill="#fffd91"/><rect x="1310.1" y="412" width="13.8" height="7.4" fill="#ffff65"/><rect x="1323.1" y="412" width="26.7" height="7.4" fill="#ffff3a"/><rect x="1349" y="412" width="13.8" height="7.4" fill="#ffff42"/><rect x="1362" y="412" width="13.8" height="7.4" fill="#ffff52"/><rect x="1374.9" y="412" width="13.8" height="7.4" fill="#ffff69"/><rect x="1387.9" y="412" width="13.8" height="7.4" fill="#fffe89"/><rect x="1400.9" y="412" width="52.7" height="7.4" fill="#fffd9d"/><rect x="1452.7" y="412" width="13.8" height="7.4" fill="#fffda4"/><rect x="1465.7" y="412" width="13.8" height="7.4" fill="#fffcb0"/><rect x="1478.7" y="412" width="13.8" height="7.4" fill="#fffcb8"/><rect x="1491.6" y="412" width="13.8" height="7.4" fill="#fffcc0"/><rect x="1504.6" y="412" width="13.8" height="7.4" fill="#fffccc"/><rect x="1517.6" y="412" width="13.8" height="7.4" fill="#fffcd4"/><rect x="1530.5" y="412" width="312" height="7.4" fill="#fffcd8"/><rect x="1841.8" y="412" width="13.8" height="7.4" fill="#fffcc8"/><rect x="1854.7" y="412" width="13.8" height="7.4" fill="#fffcac"/><rect x="1867.7" y="412" width="13.8" height="7.4" fill="#fffd9d"/><rect x="1880.7" y="412" width="13.8" height="7.4" fill="#fffe7d"/><rect x="1893.6" y="412" width="13.8" height="7.4" fill="#ffff56"/><rect x="1906.6" y="412" width="13.8" height="7.4" fill="#ffff36"/><rect x="1919.6" y="412" width="13.8" height="7.4" fill="#ffff07"/><rect x="1932.5" y="412" width="13.8" height="7.4" fill="#ffd200"/><rect x="1945.5" y="412" width="13.8" height="7.4" fill="#ff8b00"/><rect x="1958.5" y="412" width="13.8" height="7.4" fill="#ff3f00"/><rect x="1971.4" y="412" width="13.8" height="7.4" fill="#ff1a00"/><rect x="1984.4" y="412" width="13.8" height="7.4" fill="#ff4100"/><rect x="1997.4" y="412" width="13.8" height="7.4" fill="#ff7b00"/><rect x="2010.3" y="412" width="13.8" height="7.4" fill="#ff9000"/><rect x="1271.2" y="418.6" width="13.8" height="7.4" fill="#fffddc"/><rect x="1284.2" y="418.6" width="13.8" height="7.4" fill="#fffcac"/><rect x="1297.1" y="418.6" width="13.8" height="7.4" fill="#fffd91"/><rect x="1310.1" y="418.6" width="13.8" height="7.4" fill="#ffff71"/><rect x="1323.1" y="418.6" width="13.8" height="7.4" fill="#ffff56"/><rect x="1336" y="418.6" width="13.8" height="7.4" fill="#ffff5e"/><rect x="1349" y="418.6" width="13.8" height="7.4" fill="#ffff6d"/><rect x="1362" y="418.6" width="13.8" height="7.4" fill="#fffe81"/><rect x="1374.9" y="418.6" width="13.8" height="7.4" fill="#fffd99"/><rect x="1387.9" y="418.6" width="39.7" height="7.4" fill="#fffd9d"/><rect x="1426.8" y="418.6" width="13.8" height="7.4" fill="#fffda0"/><rect x="1439.8" y="418.6" width="13.8" height="7.4" fill="#fffcac"/><rect x="1452.7" y="418.6" width="13.8" height="7.4" fill="#fffcb8"/><rect x="1465.7" y="418.6" width="13.8" height="7.4" fill="#fffcc0"/><rect x="1478.7" y="418.6" width="13.8" height="7.4" fill="#fffcc4"/><rect x="1491.6" y="418.6" width="13.8" height="7.4" fill="#fffccc"/><rect x="1504.6" y="418.6" width="13.8" height="7.4" fill="#fffcd4"/><rect x="1517.6" y="418.6" width="325" height="7.4" fill="#fffcd8"/><rect x="1841.8" y="418.6" width="13.8" height="7.4" fill="#fffccc"/><rect x="1854.7" y="418.6" width="13.8" height="7.4" fill="#fffcb0"/><rect x="1867.7" y="418.6" width="13.8" height="7.4" fill="#fffd9d"/><rect x="1880.7" y="418.6" width="13.8" height="7.4" fill="#fffe7d"/><rect x="1893.6" y="418.6" width="13.8" height="7.4" fill="#ffff56"/><rect x="1906.6" y="418.6" width="13.8" height="7.4" fill="#ffff36"/><rect x="1919.6" y="418.6" width="13.8" height="7.4" fill="#ffff07"/><rect x="1932.5" y="418.6" width="13.8" height="7.4" fill="#ffd200"/><rect x="1945.5" y="418.6" width="13.8" height="7.4" fill="#ff8b00"/><rect x="1958.5" y="418.6" width="13.8" height="7.4" fill="#ff4100"/><rect x="1971.4" y="418.6" width="13.8" height="7.4" fill="#ff1d00"/><rect x="1984.4" y="418.6" width="13.8" height="7.4" fill="#ff3f00"/><rect x="1997.4" y="418.6" width="13.8" height="7.4" fill="#ff7100"/><rect x="2010.3" y="418.6" width="13.8" height="7.4" fill="#ff8b00"/><rect x="1271.2" y="425.3" width="13.8" height="7.4" fill="#fffddf"/><rect x="1284.2" y="425.3" width="13.8" height="7.4" fill="#fffcb4"/><rect x="1297.1" y="425.3" width="13.8" height="7.4" fill="#fffda0"/><rect x="1310.1" y="425.3" width="13.8" height="7.4" fill="#fffd8d"/><rect x="1323.1" y="425.3" width="13.8" height="7.4" fill="#fffe7d"/><rect x="1336" y="425.3" width="13.8" height="7.4" fill="#fffe8d"/><rect x="1349" y="425.3" width="52.7" height="7.4" fill="#fffd9d"/><rect x="1400.9" y="425.3" width="13.8" height="7.4" fill="#fffda4"/><rect x="1413.8" y="425.3" width="13.8" height="7.4" fill="#fffcac"/><rect x="1426.8" y="425.3" width="13.8" height="7.4" fill="#fffcb4"/><rect x="1439.8" y="425.3" width="13.8" height="7.4" fill="#fffcbc"/><rect x="1452.7" y="425.3" width="13.8" height="7.4" fill="#fffcc4"/><rect x="1465.7" y="425.3" width="13.8" height="7.4" fill="#fffccc"/><rect x="1478.7" y="425.3" width="13.8" height="7.4" fill="#fffcd0"/><rect x="1491.6" y="425.3" width="350.9" height="7.4" fill="#fffcd8"/><rect x="1841.8" y="425.3" width="13.8" height="7.4" fill="#fffccc"/><rect x="1854.7" y="425.3" width="13.8" height="7.4" fill="#fffcb0"/><rect x="1867.7" y="425.3" width="13.8" height="7.4" fill="#fffd9d"/><rect x="1880.7" y="425.3" width="13.8" height="7.4" fill="#fffe7d"/><rect x="1893.6" y="425.3" width="13.8" height="7.4" fill="#ffff56"/><rect x="1906.6" y="425.3" width="13.8" height="7.4" fill="#ffff36"/><rect x="1919.6" y="425.3" width="13.8" height="7.4" fill="#ffff03"/><rect x="1932.5" y="425.3" width="13.8" height="7.4" fill="#ffd200"/><rect x="1945.5" y="425.3" width="13.8" height="7.4" fill="#ff8800"/><rect x="1958.5" y="425.3" width="13.8" height="7.4" fill="#ff4100"/><rect x="1971.4" y="425.3" width="13.8" height="7.4" fill="#ff1d00"/><rect x="1984.4" y="425.3" width="13.8" height="7.4" fill="#ff3c00"/><rect x="1997.4" y="425.3" width="13.8" height="7.4" fill="#ff6100"/><rect x="2010.3" y="425.3" width="13.8" height="7.4" fill="#ff8600"/><rect x="1271.2" y="431.9" width="13.8" height="7.4" fill="#fffde7"/><rect x="1284.2" y="431.9" width="13.8" height="7.4" fill="#fffcc4"/><rect x="1297.1" y="431.9" width="13.8" height="7.4" fill="#fffcbc"/><rect x="1310.1" y="431.9" width="13.8" height="7.4" fill="#fffcb4"/><rect x="1323.1" y="431.9" width="13.8" height="7.4" fill="#fffca8"/><rect x="1336" y="431.9" width="13.8" height="7.4" fill="#fffcac"/><rect x="1349" y="431.9" width="26.7" height="7.4" fill="#fffda4"/><rect x="1374.9" y="431.9" width="13.8" height="7.4" fill="#fffca8"/><rect x="1387.9" y="431.9" width="13.8" height="7.4" fill="#fffcb0"/><rect x="1400.9" y="431.9" width="13.8" height="7.4" fill="#fffcb4"/><rect x="1413.8" y="431.9" width="13.8" height="7.4" fill="#fffcbc"/><rect x="1426.8" y="431.9" width="13.8" height="7.4" fill="#fffcc0"/><rect x="1439.8" y="431.9" width="13.8" height="7.4" fill="#fffccc"/><rect x="1452.7" y="431.9" width="13.8" height="7.4" fill="#fffcd0"/><rect x="1465.7" y="431.9" width="13.8" height="7.4" fill="#fffcd4"/><rect x="1478.7" y="431.9" width="363.9" height="7.4" fill="#fffcd8"/><rect x="1841.8" y="431.9" width="13.8" height="7.4" fill="#fffccc"/><rect x="1854.7" y="431.9" width="13.8" height="7.4" fill="#fffcb0"/><rect x="1867.7" y="431.9" width="13.8" height="7.4" fill="#fffd9d"/><rect x="1880.7" y="431.9" width="13.8" height="7.4" fill="#fffe7d"/><rect x="1893.6" y="431.9" width="13.8" height="7.4" fill="#ffff56"/><rect x="1906.6" y="431.9" width="13.8" height="7.4" fill="#ffff36"/><rect x="1919.6" y="431.9" width="13.8" height="7.4" fill="#ffff03"/><rect x="1932.5" y="431.9" width="13.8" height="7.4" fill="#ffcf00"/><rect x="1945.5" y="431.9" width="13.8" height="7.4" fill="#ff8800"/><rect x="1958.5" y="431.9" width="13.8" height="7.4" fill="#ff4100"/><rect x="1971.4" y="431.9" width="13.8" height="7.4" fill="#ff1d00"/><rect x="1984.4" y="431.9" width="13.8" height="7.4" fill="#ff3a00"/><rect x="1997.4" y="431.9" width="13.8" height="7.4" fill="#ff5900"/><rect x="2010.3" y="431.9" width="13.8" height="7.4" fill="#ff8000"/><rect x="1271.2" y="438.5" width="13.8" height="7.4" fill="#fffeef"/><rect x="1284.2" y="438.5" width="13.8" height="7.4" fill="#fffdd8"/><rect x="1297.1" y="438.5" width="13.8" height="7.4" fill="#fffcd4"/><rect x="1310.1" y="438.5" width="13.8" height="7.4" fill="#fffcd0"/><rect x="1323.1" y="438.5" width="13.8" height="7.4" fill="#fffcc4"/><rect x="1336" y="438.5" width="13.8" height="7.4" fill="#fffcbc"/><rect x="1349" y="438.5" width="13.8" height="7.4" fill="#fffcb8"/><rect x="1362" y="438.5" width="13.8" height="7.4" fill="#fffcb4"/><rect x="1374.9" y="438.5" width="13.8" height="7.4" fill="#fffcb8"/><rect x="1387.9" y="438.5" width="13.8" height="7.4" fill="#fffcc0"/><rect x="1400.9" y="438.5" width="13.8" height="7.4" fill="#fffcc4"/><rect x="1413.8" y="438.5" width="13.8" height="7.4" fill="#fffcc8"/><rect x="1426.8" y="438.5" width="13.8" height="7.4" fill="#fffccc"/><rect x="1439.8" y="438.5" width="13.8" height="7.4" fill="#fffcd4"/><rect x="1452.7" y="438.5" width="389.8" height="7.4" fill="#fffcd8"/><rect x="1841.8" y="438.5" width="13.8" height="7.4" fill="#fffccc"/><rect x="1854.7" y="438.5" width="13.8" height="7.4" fill="#fffcb0"/><rect x="1867.7" y="438.5" width="13.8" height="7.4" fill="#fffd9d"/><rect x="1880.7" y="438.5" width="13.8" height="7.4" fill="#fffe81"/><rect x="1893.6" y="438.5" width="13.8" height="7.4" fill="#ffff56"/><rect x="1906.6" y="438.5" width="13.8" height="7.4" fill="#ffff36"/><rect x="1919.6" y="438.5" width="13.8" height="7.4" fill="#ffff03"/><rect x="1932.5" y="438.5" width="13.8" height="7.4" fill="#ffcf00"/><rect x="1945.5" y="438.5" width="13.8" height="7.4" fill="#ff8600"/><rect x="1958.5" y="438.5" width="13.8" height="7.4" fill="#ff4400"/><rect x="1971.4" y="438.5" width="13.8" height="7.4" fill="#ff1f00"/><rect x="1984.4" y="438.5" width="13.8" height="7.4" fill="#ff3a00"/><rect x="1997.4" y="438.5" width="13.8" height="7.4" fill="#ff5600"/><rect x="2010.3" y="438.5" width="13.8" height="7.4" fill="#ff7e00"/><rect x="1271.2" y="445.2" width="13.8" height="7.4" fill="#fffeef"/><rect x="1284.2" y="445.2" width="13.8" height="7.4" fill="#fffde7"/><rect x="1297.1" y="445.2" width="13.8" height="7.4" fill="#fffddf"/><rect x="1310.1" y="445.2" width="13.8" height="7.4" fill="#fffcd8"/><rect x="1323.1" y="445.2" width="13.8" height="7.4" fill="#fffcd0"/><rect x="1336" y="445.2" width="13.8" height="7.4" fill="#fffcc8"/><rect x="1349" y="445.2" width="26.7" height="7.4" fill="#fffcc4"/><rect x="1374.9" y="445.2" width="13.8" height="7.4" fill="#fffcc8"/><rect x="1387.9" y="445.2" width="13.8" height="7.4" fill="#fffccc"/><rect x="1400.9" y="445.2" width="13.8" height="7.4" fill="#fffcd0"/><rect x="1413.8" y="445.2" width="13.8" height="7.4" fill="#fffcd4"/><rect x="1426.8" y="445.2" width="415.8" height="7.4" fill="#fffcd8"/><rect x="1841.8" y="445.2" width="13.8" height="7.4" fill="#fffcd0"/><rect x="1854.7" y="445.2" width="13.8" height="7.4" fill="#fffcb4"/><rect x="1867.7" y="445.2" width="13.8" height="7.4" fill="#fffd9d"/><rect x="1880.7" y="445.2" width="13.8" height="7.4" fill="#fffe81"/><rect x="1893.6" y="445.2" width="13.8" height="7.4" fill="#ffff56"/><rect x="1906.6" y="445.2" width="13.8" height="7.4" fill="#ffff32"/><rect x="1919.6" y="445.2" width="13.8" height="7.4" fill="#ffff03"/><rect x="1932.5" y="445.2" width="13.8" height="7.4" fill="#ffcf00"/><rect x="1945.5" y="445.2" width="13.8" height="7.4" fill="#ff8600"/><rect x="1958.5" y="445.2" width="13.8" height="7.4" fill="#ff4400"/><rect x="1971.4" y="445.2" width="13.8" height="7.4" fill="#ff1f00"/><rect x="1984.4" y="445.2" width="13.8" height="7.4" fill="#ff3c00"/><rect x="1997.4" y="445.2" width="13.8" height="7.4" fill="#ff5e00"/><rect x="2010.3" y="445.2" width="13.8" height="7.4" fill="#ff8300"/><rect x="1271.2" y="451.8" width="13.8" height="7.4" fill="#fffef3"/><rect x="1284.2" y="451.8" width="13.8" height="7.4" fill="#fffeeb"/><rect x="1297.1" y="451.8" width="13.8" height="7.4" fill="#fffde3"/><rect x="1310.1" y="451.8" width="13.8" height="7.4" fill="#fffddf"/><rect x="1323.1" y="451.8" width="13.8" height="7.4" fill="#fffcd8"/><rect x="1336" y="451.8" width="13.8" height="7.4" fill="#fffcd4"/><rect x="1349" y="451.8" width="26.7" height="7.4" fill="#fffcd0"/><rect x="1374.9" y="451.8" width="13.8" height="7.4" fill="#fffcd4"/><rect x="1387.9" y="451.8" width="454.7" height="7.4" fill="#fffcd8"/><rect x="1841.8" y="451.8" width="13.8" height="7.4" fill="#fffcd0"/><rect x="1854.7" y="451.8" width="13.8" height="7.4" fill="#fffcb4"/><rect x="1867.7" y="451.8" width="13.8" height="7.4" fill="#fffd9d"/><rect x="1880.7" y="451.8" width="13.8" height="7.4" fill="#fffe81"/><rect x="1893.6" y="451.8" width="13.8" height="7.4" fill="#ffff56"/><rect x="1906.6" y="451.8" width="13.8" height="7.4" fill="#ffff32"/><rect x="1919.6" y="451.8" width="13.8" height="7.4" fill="#ffff03"/><rect x="1932.5" y="451.8" width="13.8" height="7.4" fill="#ffcf00"/><rect x="1945.5" y="451.8" width="13.8" height="7.4" fill="#ff8600"/><rect x="1958.5" y="451.8" width="13.8" height="7.4" fill="#ff4400"/><rect x="1971.4" y="451.8" width="13.8" height="7.4" fill="#ff1f00"/><rect x="1984.4" y="451.8" width="13.8" height="7.4" fill="#ff3f00"/><rect x="1997.4" y="451.8" width="13.8" height="7.4" fill="#ff6b00"/><rect x="2010.3" y="451.8" width="13.8" height="7.4" fill="#ff8b00"/><rect x="1271.2" y="458.4" width="13.8" height="7.4" fill="#fffef3"/><rect x="1284.2" y="458.4" width="13.8" height="7.4" fill="#fffeef"/><rect x="1297.1" y="458.4" width="13.8" height="7.4" fill="#fffeeb"/><rect x="1310.1" y="458.4" width="13.8" height="7.4" fill="#fffde3"/><rect x="1323.1" y="458.4" width="13.8" height="7.4" fill="#fffddf"/><rect x="1336" y="458.4" width="13.8" height="7.4" fill="#fffddc"/><rect x="1349" y="458.4" width="493.6" height="7.4" fill="#fffcd8"/><rect x="1841.8" y="458.4" width="13.8" height="7.4" fill="#fffcd0"/><rect x="1854.7" y="458.4" width="13.8" height="7.4" fill="#fffcb4"/><rect x="1867.7" y="458.4" width="13.8" height="7.4" fill="#fffd9d"/><rect x="1880.7" y="458.4" width="13.8" height="7.4" fill="#fffe81"/><rect x="1893.6" y="458.4" width="13.8" height="7.4" fill="#ffff56"/><rect x="1906.6" y="458.4" width="13.8" height="7.4" fill="#ffff32"/><rect x="1919.6" y="458.4" width="13.8" height="7.4" fill="#fffe00"/><rect x="1932.5" y="458.4" width="13.8" height="7.4" fill="#ffcc00"/><rect x="1945.5" y="458.4" width="13.8" height="7.4" fill="#ff8300"/><rect x="1958.5" y="458.4" width="13.8" height="7.4" fill="#ff4700"/><rect x="1971.4" y="458.4" width="13.8" height="7.4" fill="#ff2200"/><rect x="1984.4" y="458.4" width="13.8" height="7.4" fill="#ff3f00"/><rect x="1997.4" y="458.4" width="13.8" height="7.4" fill="#ff6b00"/><rect x="2010.3" y="458.4" width="13.8" height="7.4" fill="#ff8e00"/><rect x="1271.2" y="465" width="13.8" height="7.4" fill="#fffef7"/><rect x="1284.2" y="465" width="13.8" height="7.4" fill="#fffef3"/><rect x="1297.1" y="465" width="13.8" height="7.4" fill="#fffeef"/><rect x="1310.1" y="465" width="13.8" height="7.4" fill="#fffeeb"/><rect x="1323.1" y="465" width="13.8" height="7.4" fill="#fffde7"/><rect x="1336" y="465" width="13.8" height="7.4" fill="#fffddf"/><rect x="1349" y="465" width="493.6" height="7.4" fill="#fffcd8"/><rect x="1841.8" y="465" width="13.8" height="7.4" fill="#fffcd0"/><rect x="1854.7" y="465" width="13.8" height="7.4" fill="#fffcb4"/><rect x="1867.7" y="465" width="13.8" height="7.4" fill="#fffd9d"/><rect x="1880.7" y="465" width="13.8" height="7.4" fill="#fffe85"/><rect x="1893.6" y="465" width="13.8" height="7.4" fill="#ffff56"/><rect x="1906.6" y="465" width="13.8" height="7.4" fill="#ffff32"/><rect x="1919.6" y="465" width="13.8" height="7.4" fill="#fffe00"/><rect x="1932.5" y="465" width="13.8" height="7.4" fill="#ffcc00"/><rect x="1945.5" y="465" width="13.8" height="7.4" fill="#ff8300"/><rect x="1958.5" y="465" width="13.8" height="7.4" fill="#ff4700"/><rect x="1971.4" y="465" width="13.8" height="7.4" fill="#ff2200"/><rect x="1984.4" y="465" width="13.8" height="7.4" fill="#ff3f00"/><rect x="1997.4" y="465" width="13.8" height="7.4" fill="#ff6900"/><rect x="2010.3" y="465" width="13.8" height="7.4" fill="#ff8e00"/><rect x="1271.2" y="471.7" width="13.8" height="7.4" fill="#fffef7"/><rect x="1284.2" y="471.7" width="26.7" height="7.4" fill="#fffef3"/><rect x="1310.1" y="471.7" width="13.8" height="7.4" fill="#fffeef"/><rect x="1323.1" y="471.7" width="13.8" height="7.4" fill="#fffde7"/><rect x="1336" y="471.7" width="13.8" height="7.4" fill="#fffddf"/><rect x="1349" y="471.7" width="493.6" height="7.4" fill="#fffcd8"/><rect x="1841.8" y="471.7" width="13.8" height="7.4" fill="#fffcd0"/><rect x="1854.7" y="471.7" width="13.8" height="7.4" fill="#fffcbc"/><rect x="1867.7" y="471.7" width="13.8" height="7.4" fill="#fffd9d"/><rect x="1880.7" y="471.7" width="13.8" height="7.4" fill="#fffe8d"/><rect x="1893.6" y="471.7" width="13.8" height="7.4" fill="#ffff56"/><rect x="1906.6" y="471.7" width="13.8" height="7.4" fill="#ffff32"/><rect x="1919.6" y="471.7" width="13.8" height="7.4" fill="#fffe00"/><rect x="1932.5" y="471.7" width="13.8" height="7.4" fill="#ffcc00"/><rect x="1945.5" y="471.7" width="13.8" height="7.4" fill="#ff8000"/><rect x="1958.5" y="471.7" width="13.8" height="7.4" fill="#ff4900"/><rect x="1971.4" y="471.7" width="13.8" height="7.4" fill="#ff2500"/><rect x="1984.4" y="471.7" width="13.8" height="7.4" fill="#ff3f00"/><rect x="1997.4" y="471.7" width="13.8" height="7.4" fill="#ff6600"/><rect x="2010.3" y="471.7" width="13.8" height="7.4" fill="#ff8b00"/><rect x="1271.2" y="478.3" width="26.7" height="7.4" fill="#fffef7"/><rect x="1297.1" y="478.3" width="13.8" height="7.4" fill="#fffef3"/><rect x="1310.1" y="478.3" width="13.8" height="7.4" fill="#fffeef"/><rect x="1323.1" y="478.3" width="13.8" height="7.4" fill="#fffde7"/><rect x="1336" y="478.3" width="13.8" height="7.4" fill="#fffddf"/><rect x="1349" y="478.3" width="493.6" height="7.4" fill="#fffcd8"/><rect x="1841.8" y="478.3" width="13.8" height="7.4" fill="#fffcc8"/><rect x="1854.7" y="478.3" width="13.8" height="7.4" fill="#fffcb4"/><rect x="1867.7" y="478.3" width="13.8" height="7.4" fill="#fffd9d"/><rect x="1880.7" y="478.3" width="13.8" height="7.4" fill="#fffe8d"/><rect x="1893.6" y="478.3" width="13.8" height="7.4" fill="#ffff56"/><rect x="1906.6" y="478.3" width="13.8" height="7.4" fill="#ffff32"/><rect x="1919.6" y="478.3" width="13.8" height="7.4" fill="#fffe00"/><rect x="1932.5" y="478.3" width="13.8" height="7.4" fill="#ffcc00"/><rect x="1945.5" y="478.3" width="13.8" height="7.4" fill="#ff8300"/><rect x="1958.5" y="478.3" width="13.8" height="7.4" fill="#ff4900"/><rect x="1971.4" y="478.3" width="13.8" height="7.4" fill="#ff2500"/><rect x="1984.4" y="478.3" width="13.8" height="7.4" fill="#ff4100"/><rect x="1997.4" y="478.3" width="13.8" height="7.4" fill="#ff6900"/><rect x="2010.3" y="478.3" width="13.8" height="7.4" fill="#ff8b00"/><rect x="1271.2" y="484.9" width="13.8" height="7.4" fill="#fffffb"/><rect x="1284.2" y="484.9" width="26.7" height="7.4" fill="#fffef7"/><rect x="1310.1" y="484.9" width="13.8" height="7.4" fill="#fffeef"/><rect x="1323.1" y="484.9" width="13.8" height="7.4" fill="#fffde7"/><rect x="1336" y="484.9" width="13.8" height="7.4" fill="#fffddf"/><rect x="1349" y="484.9" width="493.6" height="7.4" fill="#fffcd8"/><rect x="1841.8" y="484.9" width="13.8" height="7.4" fill="#fffcc0"/><rect x="1854.7" y="484.9" width="13.8" height="7.4" fill="#fffca8"/><rect x="1867.7" y="484.9" width="13.8" height="7.4" fill="#fffd9d"/><rect x="1880.7" y="484.9" width="13.8" height="7.4" fill="#fffe85"/><rect x="1893.6" y="484.9" width="13.8" height="7.4" fill="#ffff56"/><rect x="1906.6" y="484.9" width="13.8" height="7.4" fill="#ffff32"/><rect x="1919.6" y="484.9" width="13.8" height="7.4" fill="#ffff03"/><rect x="1932.5" y="484.9" width="13.8" height="7.4" fill="#ffcf00"/><rect x="1945.5" y="484.9" width="13.8" height="7.4" fill="#ff8600"/><rect x="1958.5" y="484.9" width="13.8" height="7.4" fill="#ff4c00"/><rect x="1971.4" y="484.9" width="13.8" height="7.4" fill="#ff2700"/><rect x="1984.4" y="484.9" width="13.8" height="7.4" fill="#ff4400"/><rect x="1997.4" y="484.9" width="13.8" height="7.4" fill="#ff6e00"/><rect x="2010.3" y="484.9" width="13.8" height="7.4" fill="#ff8e00"/><rect x="1271.2" y="491.6" width="26.7" height="7.4" fill="#fffffb"/><rect x="1297.1" y="491.6" width="13.8" height="7.4" fill="#fffef7"/><rect x="1310.1" y="491.6" width="13.8" height="7.4" fill="#fffeef"/><rect x="1323.1" y="491.6" width="13.8" height="7.4" fill="#fffde7"/><rect x="1336" y="491.6" width="13.8" height="7.4" fill="#fffddf"/><rect x="1349" y="491.6" width="493.6" height="7.4" fill="#fffcd8"/><rect x="1841.8" y="491.6" width="13.8" height="7.4" fill="#fffcc0"/><rect x="1854.7" y="491.6" width="13.8" height="7.4" fill="#fffd9d"/><rect x="1867.7" y="491.6" width="13.8" height="7.4" fill="#fffd99"/><rect x="1880.7" y="491.6" width="13.8" height="7.4" fill="#fffe7d"/><rect x="1893.6" y="491.6" width="13.8" height="7.4" fill="#ffff56"/><rect x="1906.6" y="491.6" width="13.8" height="7.4" fill="#ffff36"/><rect x="1919.6" y="491.6" width="13.8" height="7.4" fill="#ffff03"/><rect x="1932.5" y="491.6" width="13.8" height="7.4" fill="#ffd200"/><rect x="1945.5" y="491.6" width="13.8" height="7.4" fill="#ff8800"/><rect x="1958.5" y="491.6" width="13.8" height="7.4" fill="#ff4c00"/><rect x="1971.4" y="491.6" width="13.8" height="7.4" fill="#ff2700"/><rect x="1984.4" y="491.6" width="13.8" height="7.4" fill="#ff4400"/><rect x="1997.4" y="491.6" width="13.8" height="7.4" fill="#ff7600"/><rect x="2010.3" y="491.6" width="13.8" height="7.4" fill="#ff9000"/><rect x="1271.2" y="498.2" width="26.7" height="7.4" fill="#fffffb"/><rect x="1297.1" y="498.2" width="13.8" height="7.4" fill="#fffef7"/><rect x="1310.1" y="498.2" width="13.8" height="7.4" fill="#fffeef"/><rect x="1323.1" y="498.2" width="13.8" height="7.4" fill="#fffde7"/><rect x="1336" y="498.2" width="13.8" height="7.4" fill="#fffddf"/><rect x="1349" y="498.2" width="493.6" height="7.4" fill="#fffcd8"/><rect x="1841.8" y="498.2" width="13.8" height="7.4" fill="#fffcc4"/><rect x="1854.7" y="498.2" width="13.8" height="7.4" fill="#fffda4"/><rect x="1867.7" y="498.2" width="13.8" height="7.4" fill="#fffd9d"/><rect x="1880.7" y="498.2" width="13.8" height="7.4" fill="#ffff75"/><rect x="1893.6" y="498.2" width="13.8" height="7.4" fill="#ffff56"/><rect x="1906.6" y="498.2" width="13.8" height="7.4" fill="#ffff36"/><rect x="1919.6" y="498.2" width="13.8" height="7.4" fill="#ffff07"/><rect x="1932.5" y="498.2" width="13.8" height="7.4" fill="#ffd200"/><rect x="1945.5" y="498.2" width="13.8" height="7.4" fill="#ff8b00"/><rect x="1958.5" y="498.2" width="13.8" height="7.4" fill="#ff4f00"/><rect x="1971.4" y="498.2" width="13.8" height="7.4" fill="#ff2a00"/><rect x="1984.4" y="498.2" width="13.8" height="7.4" fill="#ff4700"/><rect x="1997.4" y="498.2" width="13.8" height="7.4" fill="#ff7900"/><rect x="2010.3" y="498.2" width="13.8" height="7.4" fill="#ff9300"/><rect x="1271.2" y="504.8" width="26.7" height="7.4" fill="#fffffb"/><rect x="1297.1" y="504.8" width="13.8" height="7.4" fill="#fffef7"/><rect x="1310.1" y="504.8" width="13.8" height="7.4" fill="#fffeef"/><rect x="1323.1" y="504.8" width="13.8" height="7.4" fill="#fffde7"/><rect x="1336" y="504.8" width="13.8" height="7.4" fill="#fffddf"/><rect x="1349" y="504.8" width="493.6" height="7.4" fill="#fffcd8"/><rect x="1841.8" y="504.8" width="13.8" height="7.4" fill="#fffcc8"/><rect x="1854.7" y="504.8" width="13.8" height="7.4" fill="#fffca8"/><rect x="1867.7" y="504.8" width="13.8" height="7.4" fill="#fffd9d"/><rect x="1880.7" y="504.8" width="13.8" height="7.4" fill="#fffe79"/><rect x="1893.6" y="504.8" width="13.8" height="7.4" fill="#ffff5a"/><rect x="1906.6" y="504.8" width="13.8" height="7.4" fill="#ffff36"/><rect x="1919.6" y="504.8" width="13.8" height="7.4" fill="#ffff07"/><rect x="1932.5" y="504.8" width="13.8" height="7.4" fill="#ffd400"/><rect x="1945.5" y="504.8" width="13.8" height="7.4" fill="#ff8e00"/><rect x="1958.5" y="504.8" width="13.8" height="7.4" fill="#ff5100"/><rect x="1971.4" y="504.8" width="13.8" height="7.4" fill="#ff2a00"/><rect x="1984.4" y="504.8" width="13.8" height="7.4" fill="#ff4900"/><rect x="1997.4" y="504.8" width="13.8" height="7.4" fill="#ff7b00"/><rect x="2010.3" y="504.8" width="13.8" height="7.4" fill="#ff9500"/><rect x="1297.1" y="511.5" width="13.8" height="7.4" fill="#fffef7"/><rect x="1310.1" y="511.5" width="13.8" height="7.4" fill="#fffeef"/><rect x="1323.1" y="511.5" width="13.8" height="7.4" fill="#fffde7"/><rect x="1336" y="511.5" width="13.8" height="7.4" fill="#fffddf"/><rect x="1349" y="511.5" width="493.6" height="7.4" fill="#fffcd8"/><rect x="1841.8" y="511.5" width="13.8" height="7.4" fill="#fffcc4"/><rect x="1854.7" y="511.5" width="13.8" height="7.4" fill="#fffda4"/><rect x="1867.7" y="511.5" width="13.8" height="7.4" fill="#fffd9d"/><rect x="1880.7" y="511.5" width="13.8" height="7.4" fill="#ffff75"/><rect x="1893.6" y="511.5" width="13.8" height="7.4" fill="#ffff5a"/><rect x="1906.6" y="511.5" width="13.8" height="7.4" fill="#ffff3a"/><rect x="1919.6" y="511.5" width="13.8" height="7.4" fill="#ffff0b"/><rect x="1932.5" y="511.5" width="13.8" height="7.4" fill="#ffd700"/><rect x="1945.5" y="511.5" width="13.8" height="7.4" fill="#ff9000"/><rect x="1958.5" y="511.5" width="13.8" height="7.4" fill="#ff5100"/><rect x="1971.4" y="511.5" width="13.8" height="7.4" fill="#ff2c00"/><rect x="1984.4" y="511.5" width="13.8" height="7.4" fill="#ff4700"/><rect x="1997.4" y="511.5" width="13.8" height="7.4" fill="#ff7900"/><rect x="2010.3" y="511.5" width="13.8" height="7.4" fill="#ff9300"/><rect x="1297.1" y="518.1" width="13.8" height="7.4" fill="#fffef7"/><rect x="1310.1" y="518.1" width="13.8" height="7.4" fill="#fffeef"/><rect x="1323.1" y="518.1" width="13.8" height="7.4" fill="#fffde7"/><rect x="1336" y="518.1" width="13.8" height="7.4" fill="#fffddf"/><rect x="1349" y="518.1" width="493.6" height="7.4" fill="#fffcd8"/><rect x="1841.8" y="518.1" width="13.8" height="7.4" fill="#fffcc4"/><rect x="1854.7" y="518.1" width="13.8" height="7.4" fill="#fffda4"/><rect x="1867.7" y="518.1" width="13.8" height="7.4" fill="#fffd9d"/><rect x="1880.7" y="518.1" width="13.8" height="7.4" fill="#fffe81"/><rect x="1893.6" y="518.1" width="13.8" height="7.4" fill="#ffff5a"/><rect x="1906.6" y="518.1" width="13.8" height="7.4" fill="#ffff3a"/><rect x="1919.6" y="518.1" width="13.8" height="7.4" fill="#ffff0b"/><rect x="1932.5" y="518.1" width="13.8" height="7.4" fill="#ffda00"/><rect x="1945.5" y="518.1" width="13.8" height="7.4" fill="#ff9300"/><rect x="1958.5" y="518.1" width="13.8" height="7.4" fill="#ff5400"/><rect x="1971.4" y="518.1" width="13.8" height="7.4" fill="#ff2c00"/><rect x="1984.4" y="518.1" width="13.8" height="7.4" fill="#ff4700"/><rect x="1997.4" y="518.1" width="13.8" height="7.4" fill="#ff7300"/><rect x="2010.3" y="518.1" width="13.8" height="7.4" fill="#ff9000"/><rect x="1297.1" y="524.7" width="13.8" height="7.4" fill="#fffef7"/><rect x="1310.1" y="524.7" width="13.8" height="7.4" fill="#fffeef"/><rect x="1323.1" y="524.7" width="13.8" height="7.4" fill="#fffde7"/><rect x="1336" y="524.7" width="13.8" height="7.4" fill="#fffddf"/><rect x="1349" y="524.7" width="493.6" height="7.4" fill="#fffcd8"/><rect x="1841.8" y="524.7" width="13.8" height="7.4" fill="#fffcc8"/><rect x="1854.7" y="524.7" width="13.8" height="7.4" fill="#fffcb0"/><rect x="1867.7" y="524.7" width="13.8" height="7.4" fill="#fffd9d"/><rect x="1880.7" y="524.7" width="13.8" height="7.4" fill="#fffe8d"/><rect x="1893.6" y="524.7" width="13.8" height="7.4" fill="#ffff5a"/><rect x="1906.6" y="524.7" width="13.8" height="7.4" fill="#ffff3a"/><rect x="1919.6" y="524.7" width="13.8" height="7.4" fill="#ffff0f"/><rect x="1932.5" y="524.7" width="13.8" height="7.4" fill="#ffda00"/><rect x="1945.5" y="524.7" width="13.8" height="7.4" fill="#ff9800"/><rect x="1958.5" y="524.7" width="13.8" height="7.4" fill="#ff5400"/><rect x="1971.4" y="524.7" width="13.8" height="7.4" fill="#ff2f00"/><rect x="1984.4" y="524.7" width="13.8" height="7.4" fill="#ff4400"/><rect x="1997.4" y="524.7" width="13.8" height="7.4" fill="#ff6b00"/><rect x="2010.3" y="524.7" width="13.8" height="7.4" fill="#ff8e00"/><rect x="1297.1" y="531.4" width="13.8" height="7.4" fill="#fffef7"/><rect x="1310.1" y="531.4" width="13.8" height="7.4" fill="#fffeef"/><rect x="1323.1" y="531.4" width="13.8" height="7.4" fill="#fffde7"/><rect x="1336" y="531.4" width="13.8" height="7.4" fill="#fffddf"/><rect x="1349" y="531.4" width="493.6" height="7.4" fill="#fffcd8"/><rect x="1841.8" y="531.4" width="13.8" height="7.4" fill="#fffccc"/><rect x="1854.7" y="531.4" width="13.8" height="7.4" fill="#fffcb8"/><rect x="1867.7" y="531.4" width="13.8" height="7.4" fill="#fffd9d"/><rect x="1880.7" y="531.4" width="13.8" height="7.4" fill="#fffd95"/><rect x="1893.6" y="531.4" width="13.8" height="7.4" fill="#ffff5e"/><rect x="1906.6" y="531.4" width="13.8" height="7.4" fill="#ffff3e"/><rect x="1919.6" y="531.4" width="13.8" height="7.4" fill="#ffff0f"/><rect x="1932.5" y="531.4" width="13.8" height="7.4" fill="#ffdc00"/><rect x="1945.5" y="531.4" width="13.8" height="7.4" fill="#ff9b00"/><rect x="1958.5" y="531.4" width="13.8" height="7.4" fill="#ff5600"/><rect x="1971.4" y="531.4" width="13.8" height="7.4" fill="#ff2f00"/><rect x="1984.4" y="531.4" width="13.8" height="7.4" fill="#ff4400"/><rect x="1997.4" y="531.4" width="13.8" height="7.4" fill="#ff6600"/><rect x="2010.3" y="531.4" width="13.8" height="7.4" fill="#ff8800"/><rect x="1297.1" y="538" width="13.8" height="7.4" fill="#fffef7"/><rect x="1310.1" y="538" width="13.8" height="7.4" fill="#fffeef"/><rect x="1323.1" y="538" width="13.8" height="7.4" fill="#fffde7"/><rect x="1336" y="538" width="13.8" height="7.4" fill="#fffddf"/><rect x="1349" y="538" width="493.6" height="7.4" fill="#fffcd8"/><rect x="1841.8" y="538" width="13.8" height="7.4" fill="#fffcc4"/><rect x="1854.7" y="538" width="13.8" height="7.4" fill="#fffcb0"/><rect x="1867.7" y="538" width="13.8" height="7.4" fill="#fffd9d"/><rect x="1880.7" y="538" width="13.8" height="7.4" fill="#fffd91"/><rect x="1893.6" y="538" width="13.8" height="7.4" fill="#ffff5e"/><rect x="1906.6" y="538" width="13.8" height="7.4" fill="#ffff3e"/><rect x="1919.6" y="538" width="13.8" height="7.4" fill="#ffff13"/><rect x="1932.5" y="538" width="13.8" height="7.4" fill="#ffdf00"/><rect x="1945.5" y="538" width="13.8" height="7.4" fill="#ffa000"/><rect x="1958.5" y="538" width="13.8" height="7.4" fill="#ff5900"/><rect x="1971.4" y="538" width="13.8" height="7.4" fill="#ff3200"/><rect x="1984.4" y="538" width="13.8" height="7.4" fill="#ff4100"/><rect x="1997.4" y="538" width="13.8" height="7.4" fill="#ff6100"/><rect x="2010.3" y="538" width="13.8" height="7.4" fill="#ff8600"/><rect x="1297.1" y="544.6" width="13.8" height="7.4" fill="#fffef7"/><rect x="1310.1" y="544.6" width="13.8" height="7.4" fill="#fffeef"/><rect x="1323.1" y="544.6" width="13.8" height="7.4" fill="#fffde7"/><rect x="1336" y="544.6" width="13.8" height="7.4" fill="#fffddf"/><rect x="1349" y="544.6" width="480.6" height="7.4" fill="#fffcd8"/><rect x="1828.8" y="544.6" width="13.8" height="7.4" fill="#fffcd4"/><rect x="1841.8" y="544.6" width="13.8" height="7.4" fill="#fffcc0"/><rect x="1854.7" y="544.6" width="13.8" height="7.4" fill="#fffda0"/><rect x="1867.7" y="544.6" width="13.8" height="7.4" fill="#fffd9d"/><rect x="1880.7" y="544.6" width="13.8" height="7.4" fill="#fffe89"/><rect x="1893.6" y="544.6" width="13.8" height="7.4" fill="#ffff5e"/><rect x="1906.6" y="544.6" width="13.8" height="7.4" fill="#ffff42"/><rect x="1919.6" y="544.6" width="13.8" height="7.4" fill="#ffff17"/><rect x="1932.5" y="544.6" width="13.8" height="7.4" fill="#ffe400"/><rect x="1945.5" y="544.6" width="13.8" height="7.4" fill="#ffa800"/><rect x="1958.5" y="544.6" width="13.8" height="7.4" fill="#ff6100"/><rect x="1971.4" y="544.6" width="13.8" height="7.4" fill="#ff3200"/><rect x="1984.4" y="544.6" width="13.8" height="7.4" fill="#ff4700"/><rect x="1997.4" y="544.6" width="13.8" height="7.4" fill="#ff6600"/><rect x="2010.3" y="544.6" width="13.8" height="7.4" fill="#ff8600"/><rect x="1297.1" y="551.3" width="13.8" height="7.4" fill="#fffef7"/><rect x="1310.1" y="551.3" width="13.8" height="7.4" fill="#fffeef"/><rect x="1323.1" y="551.3" width="13.8" height="7.4" fill="#fffde7"/><rect x="1336" y="551.3" width="13.8" height="7.4" fill="#fffddf"/><rect x="1349" y="551.3" width="480.6" height="7.4" fill="#fffcd8"/><rect x="1828.8" y="551.3" width="13.8" height="7.4" fill="#fffcd4"/><rect x="1841.8" y="551.3" width="13.8" height="7.4" fill="#fffcb8"/><rect x="1854.7" y="551.3" width="13.8" height="7.4" fill="#fffd9d"/><rect x="1867.7" y="551.3" width="13.8" height="7.4" fill="#fffd99"/><rect x="1880.7" y="551.3" width="13.8" height="7.4" fill="#fffe7d"/><rect x="1893.6" y="551.3" width="13.8" height="7.4" fill="#ffff61"/><rect x="1906.6" y="551.3" width="13.8" height="7.4" fill="#ffff46"/><rect x="1919.6" y="551.3" width="13.8" height="7.4" fill="#ffff1f"/><rect x="1932.5" y="551.3" width="13.8" height="7.4" fill="#ffe900"/><rect x="1945.5" y="551.3" width="13.8" height="7.4" fill="#ffb000"/><rect x="1958.5" y="551.3" width="13.8" height="7.4" fill="#ff6600"/><rect x="1971.4" y="551.3" width="13.8" height="7.4" fill="#ff3400"/><rect x="1984.4" y="551.3" width="13.8" height="7.4" fill="#ff4c00"/><rect x="1997.4" y="551.3" width="13.8" height="7.4" fill="#ff7600"/><rect x="2010.3" y="551.3" width="13.8" height="7.4" fill="#ff8e00"/><rect x="1297.1" y="557.9" width="13.8" height="7.4" fill="#fffef7"/><rect x="1310.1" y="557.9" width="13.8" height="7.4" fill="#fffeef"/><rect x="1323.1" y="557.9" width="13.8" height="7.4" fill="#fffde7"/><rect x="1336" y="557.9" width="13.8" height="7.4" fill="#fffddf"/><rect x="1349" y="557.9" width="480.6" height="7.4" fill="#fffcd8"/><rect x="1828.8" y="557.9" width="13.8" height="7.4" fill="#fffcd4"/><rect x="1841.8" y="557.9" width="13.8" height="7.4" fill="#fffcb8"/><rect x="1854.7" y="557.9" width="13.8" height="7.4" fill="#fffd9d"/><rect x="1867.7" y="557.9" width="13.8" height="7.4" fill="#fffd95"/><rect x="1880.7" y="557.9" width="13.8" height="7.4" fill="#ffff75"/><rect x="1893.6" y="557.9" width="13.8" height="7.4" fill="#ffff65"/><rect x="1906.6" y="557.9" width="13.8" height="7.4" fill="#ffff4a"/><rect x="1919.6" y="557.9" width="13.8" height="7.4" fill="#ffff22"/><rect x="1932.5" y="557.9" width="13.8" height="7.4" fill="#fff100"/><rect x="1945.5" y="557.9" width="13.8" height="7.4" fill="#ffb700"/><rect x="1958.5" y="557.9" width="13.8" height="7.4" fill="#ff7300"/><rect x="1971.4" y="557.9" width="13.8" height="7.4" fill="#ff3700"/><rect x="1984.4" y="557.9" width="13.8" height="7.4" fill="#ff5400"/><rect x="1997.4" y="557.9" width="13.8" height="7.4" fill="#ff8000"/><rect x="2010.3" y="557.9" width="13.8" height="7.4" fill="#ff9300"/><rect x="1297.1" y="564.5" width="13.8" height="7.4" fill="#fffef7"/><rect x="1310.1" y="564.5" width="13.8" height="7.4" fill="#fffeef"/><rect x="1323.1" y="564.5" width="13.8" height="7.4" fill="#fffde7"/><rect x="1336" y="564.5" width="13.8" height="7.4" fill="#fffddf"/><rect x="1349" y="564.5" width="480.6" height="7.4" fill="#fffcd8"/><rect x="1828.8" y="564.5" width="13.8" height="7.4" fill="#fffcd4"/><rect x="1841.8" y="564.5" width="13.8" height="7.4" fill="#fffcbc"/><rect x="1854.7" y="564.5" width="13.8" height="7.4" fill="#fffd9d"/><rect x="1867.7" y="564.5" width="13.8" height="7.4" fill="#fffd95"/><rect x="1880.7" y="564.5" width="13.8" height="7.4" fill="#fffe79"/><rect x="1893.6" y="564.5" width="13.8" height="7.4" fill="#ffff65"/><rect x="1906.6" y="564.5" width="13.8" height="7.4" fill="#ffff4e"/><rect x="1919.6" y="564.5" width="13.8" height="7.4" fill="#ffff26"/><rect x="1932.5" y="564.5" width="13.8" height="7.4" fill="#fff600"/><rect x="1945.5" y="564.5" width="13.8" height="7.4" fill="#ffc200"/><rect x="1958.5" y="564.5" width="13.8" height="7.4" fill="#ff7e00"/><rect x="1971.4" y="564.5" width="13.8" height="7.4" fill="#ff3a00"/><rect x="1984.4" y="564.5" width="13.8" height="7.4" fill="#ff6100"/><rect x="1997.4" y="564.5" width="13.8" height="7.4" fill="#ff8800"/><rect x="2010.3" y="564.5" width="13.8" height="7.4" fill="#ff9b00"/><rect x="1297.1" y="571.2" width="13.8" height="7.4" fill="#fffef7"/><rect x="1310.1" y="571.2" width="13.8" height="7.4" fill="#fffeef"/><rect x="1323.1" y="571.2" width="13.8" height="7.4" fill="#fffde7"/><rect x="1336" y="571.2" width="13.8" height="7.4" fill="#fffddf"/><rect x="1349" y="571.2" width="480.6" height="7.4" fill="#fffcd8"/><rect x="1828.8" y="571.2" width="13.8" height="7.4" fill="#fffcd4"/><rect x="1841.8" y="571.2" width="13.8" height="7.4" fill="#fffcb8"/><rect x="1854.7" y="571.2" width="13.8" height="7.4" fill="#fffd9d"/><rect x="1867.7" y="571.2" width="13.8" height="7.4" fill="#fffd95"/><rect x="1880.7" y="571.2" width="13.8" height="7.4" fill="#fffe79"/><rect x="1893.6" y="571.2" width="13.8" height="7.4" fill="#ffff69"/><rect x="1906.6" y="571.2" width="13.8" height="7.4" fill="#ffff52"/><rect x="1919.6" y="571.2" width="13.8" height="7.4" fill="#ffff2e"/><rect x="1932.5" y="571.2" width="13.8" height="7.4" fill="#fffc00"/><rect x="1945.5" y="571.2" width="13.8" height="7.4" fill="#ffd200"/><rect x="1958.5" y="571.2" width="13.8" height="7.4" fill="#ff9500"/><rect x="1971.4" y="571.2" width="13.8" height="7.4" fill="#ff3f00"/><rect x="1984.4" y="571.2" width="13.8" height="7.4" fill="#ff7900"/><rect x="1997.4" y="571.2" width="13.8" height="7.4" fill="#ff9000"/><rect x="2010.3" y="571.2" width="13.8" height="7.4" fill="#ffa000"/></g>
<g clip-path="url(#cr)" fill="none" stroke="#000" stroke-width="3.2" stroke-linejoin="round">
<path d="M1271.2 359.4 L1273.3 357.2 L1276.3 354 L1279.6 350.5 L1282.8 347.6 L1285.6 345.5 L1288.3 343.8 L1291.2 342.1 L1294.5 340.3 L1298.6 338.3 L1303.2 336.3 L1307.8 334.1 L1312.2 331.5 L1316.2 328.4 L1319.9 324.8 L1323.5 321.2 L1326.9 318.2 L1330 315.9 L1332.7 314 L1335.5 312.4 L1338.6 310.9 L1342.1 309.6 L1345.8 308.6 L1349.6 307.6 L1353.4 306.5 L1357.1 305.2 L1360.8 303.9 L1364.4 302.4 L1368.1 300.6 L1371.8 298.4 L1375.6 295.8 L1379.3 293.1 L1382.8 290.3 L1386 287.3 L1389.1 284.2 L1392.1 281.1 L1395 278.4 L1397.7 276.3 L1400.1 274.6 L1402.8 272.9 L1406.5 270.8 L1411.5 268.2 L1417.5 265.2 L1423.7 262.2 L1429.4 259.3 L1434.6 256.6 L1439.5 253.9 L1444.2 251.2 L1448.6 248.6 L1452.8 245.9 L1456.9 243.3 L1460.6 240.7 L1463.9 238.3 L1466.4 236.2 L1468.3 234.4 L1470.4 232.6 L1473.4 230.6 L1477.5 228.5 L1482.3 226.4 L1487.9 224.1 L1494.4 221.1 L1502.6 217.3 L1512.1 212.8 L1521.4 208.2 L1528.9 203.8 L1533.8 199.6 L1537.1 195.5 L1539.6 191.7 L1542.2 188.5 L1544.7 186.2 L1546.9 184.6 L1549.1 183.2 L1551.8 181.7 L1555.2 180.1 L1559 178.4 L1563 176.8 L1567.1 175.2 L1571.4 173.6 L1575.9 172 L1580.2 170.4 L1584 168.8 L1587 167.1 L1589.6 165.2 L1591.8 163.4 L1593.9 161.8 L1595.8 160.4 L1597.5 159.1 L1599 157.8 L1600.4 156.5 L1601.6 155 L1602.6 153.5 L1603.7 151.9 L1605.3 150.3 L1607.3 148.7 L1609.5 147.1 L1612.3 145.3 L1616 143 L1621.1 140.1 L1627.4 136.6 L1633.7 133 L1639 129.6 L1643 126.4 L1646.1 123.3 L1649 120.3 L1652 117.3 L1655.4 114.4 L1658.8 111.6 L1662.1 108.9 L1665 106.3 L1667.2 103.9 L1668.9 101.6 L1670.6 99.5 L1672.5 97.6 L1674.8 96 L1677.4 94.8 L1680.1 93.6 L1682.8 92.4 L1685.5 91.2 L1688.2 90 L1691.1 88.8 L1694.5 87.4 L1698.8 85.6 L1703.7 83.6 L1708.5 81.6 L1712.2 80 L1714.6 78.9 L1716.2 78.1 L1717.2 77.5 L1718 77.1" />
<path d="M1269.5 362 L1269.5 387.5 L1269.4 424.6 L1269.4 462 L1269.5 488 L1269.8 497.9 L1270.3 498.4 L1270.9 495.2 L1271.5 494 L1272.2 495.7 L1273 497.5 L1273.8 499.3 L1274.3 501 L1274.6 502.5 L1274.8 503.9 L1274.8 505.4 L1274.6 507 L1274.2 508.9 L1273.5 510.9 L1272.7 513 L1272 515 L1271.3 516.6 L1270.6 517.9 L1269.9 519.5 L1269.5 522 L1269.3 526 L1269.2 531.1 L1269.3 536.2 L1269.5 540 L1269.8 542.1 L1270.3 543.1 L1270.9 543.8 L1271.5 545 L1272.2 546.7 L1273.1 548.7 L1273.8 550.8 L1274.4 553 L1274.7 555.4 L1274.8 557.9 L1274.8 560.5 L1274.6 563 L1274.2 565.3 L1273.6 567.6 L1273 569.8 L1272.5 572 L1272.3 574.5 L1272.1 577.1 L1272.1 579.4 L1272 581" />
<path d="M1857.3 581 L1857.9 578.2 L1858.7 574.2 L1859.5 570 L1859.9 566.5 L1859.6 564.1 L1858.9 562.2 L1858.2 560.4 L1858 558.5 L1858.3 556.4 L1859 554.2 L1860.1 551.8 L1861.9 549.3 L1865.3 546.6 L1870 543.7 L1874.1 540.6 L1875.9 537.1 L1874.1 532.9 L1870 528.2 L1865.5 523.5 L1862.7 519.4 L1862.5 516.1 L1863.6 513.3 L1865 510.6 L1865.6 507.6 L1864.6 504.1 L1862.8 500.3 L1861.2 496.5 L1861.2 492.9 L1863.7 489.6 L1867.9 486.4 L1872.1 483.2 L1874.5 479.7 L1874.2 475.8 L1872.3 471.6 L1870 467.4 L1868.6 463.5 L1868.6 460 L1869.2 456.7 L1869.9 453.5 L1870.1 450 L1869.6 446.3 L1868.6 442.4 L1867.6 438.4 L1867.1 434.4 L1867.4 430.3 L1868.2 426.2 L1868.8 422.1 L1868.6 418 L1867 413.8 L1864.6 409.6 L1862 405.6 L1860 402 L1858.8 399.2 L1857.9 397 L1857.3 394.8 L1857 392 L1857.3 388.3 L1858 384 L1858.6 379.7 L1858.3 375.9 L1857.2 372.9 L1855.6 370.3 L1853.2 367.9 L1849.5 365.6 L1844.1 363.3 L1837.4 361.2 L1830 359 L1823 356.8 L1816.1 354.1 L1809.1 351 L1802.4 348.5 L1796.5 347.1 L1791.5 347.5 L1787 349.2 L1783.2 351.2 L1780 352.9 L1777.8 354 L1776.5 354.9 L1775.2 355.8 L1772.9 356.8 L1769.4 357.9 L1765.1 359.1 L1760.4 360.2 L1755.3 361.2 L1749.8 361.9 L1743.9 362.5 L1737.8 363.2 L1731.8 364.1 L1725.6 365.6 L1719.3 367.5 L1713.3 369.3 L1708.2 370.6 L1705.2 371.3 L1703.6 371.7 L1701.4 371.7 L1696.5 371.5 L1687.3 370.8 L1675.2 369.6 L1662.7 368.4 L1652.4 367.6 L1645.1 367.1 L1639.5 366.8 L1634.4 366.8 L1628.8 367.1 L1622.5 367.9 L1616.1 369.1 L1609.4 370.4 L1602.4 371.5 L1594.4 372.3 L1585.8 373 L1577.6 373.6 L1571 374.1 L1566.7 374.4 L1563.9 374.6 L1561.7 374.9 L1559.2 375.6 L1556.2 376.8 L1553 378.4 L1550.1 380.1 L1547.5 381.5 L1545.7 382.4 L1544.5 383 L1543.1 383.7 L1540.6 384.7 L1536.8 386.1 L1532 387.8 L1526.7 389.7 L1521 391.8 L1514.7 394.3 L1507.6 397 L1500.7 399.8 L1494.5 402.1 L1489.8 403.8 L1485.9 405.2 L1481.9 406.4 L1476.9 407.9 L1470.2 409.6 L1462.4 411.5 L1454.5 413.4 L1447.5 415.3 L1441.8 417.2 L1436.8 419.1 L1432 421 L1426.9 422.6 L1421.2 423.9 L1415.2 425 L1409.1 426 L1403.4 427.1 L1397.9 428.3 L1392.5 429.5 L1387.5 430.6 L1382.8 431.5 L1378.7 432.1 L1375.1 432.5 L1371.6 432.8 L1368.1 432.9 L1364.5 433 L1360.9 433 L1357.3 432.8 L1353.4 432.4 L1349 431.7 L1344.4 430.8 L1339.8 429.7 L1335.7 428.5 L1332.2 427.2 L1329 425.8 L1326.2 424.2 L1323.9 422.6 L1322.1 421 L1320.8 419.3 L1319.9 417.5 L1319.5 415.3 L1319.6 412.7 L1320.3 409.7 L1321.3 406.5 L1322.5 403.5 L1323.9 400.6 L1325.6 397.7 L1327.6 394.7 L1329.8 391.8 L1332.3 388.9 L1335.1 385.9 L1338.1 383 L1341.6 380 L1345.5 377 L1349.7 374.1 L1354.2 371.1 L1359.2 368.2 L1364.8 365.2 L1371 362.1 L1377.2 359.1 L1382.8 356.5 L1387.6 354.4 L1392 352.6 L1396.1 350.9 L1400.4 349.1 L1404.5 347.2 L1408.5 345.3 L1412.9 343.2 L1418.1 340.3 L1424.8 336.4 L1432.4 331.9 L1440.3 327.1 L1447.5 322.6 L1453.9 318.5 L1459.9 314.5 L1465.7 310.7 L1471.5 307.1 L1477.5 303.6 L1483.5 300.4 L1489.3 297.3 L1494.5 294.7 L1498.8 292.7 L1502.5 291.1 L1505.9 289.6 L1509.7 288 L1513.9 286.1 L1518.4 284 L1522.8 282 L1526.9 280 L1530.6 278.1 L1534 276.3 L1537.2 274.5 L1540.3 272.7 L1543.5 270.8 L1546.6 268.7 L1549.4 266.8 L1551.8 265 L1553.2 263.5 L1554 262.2 L1554.8 260.9 L1556.5 259.4 L1559.4 257.5 L1563.1 255.3 L1567.1 253.1 L1571 251 L1574.7 249 L1578.5 247 L1582.2 245.1 L1585.9 243.2 L1589.3 241.5 L1592.6 240 L1596.1 238.2 L1600.4 235.9 L1605.8 232.7 L1611.9 228.9 L1618.3 224.9 L1624.5 221.1 L1630.6 217.4 L1636.7 213.7 L1642.5 210.4 L1647.4 207.7 L1650.7 206.2 L1652.9 205.7 L1655.3 205.1 L1659.2 203.5 L1665.3 200.6 L1672.8 197 L1680.8 192.9 L1688.6 188.8 L1696 184.5 L1703.5 180 L1710.9 175.4 L1718.1 171.2 L1724.6 167.6 L1730.6 164.4 L1736.9 161 L1744.5 157.1 L1754.3 152 L1765.6 146.2 L1776.7 140.5 L1785.7 135.9 L1791.8 132.8 L1796 130.7 L1799.6 129 L1804 127.1 L1809.4 124.8 L1815.2 122.3 L1821.1 120 L1827 118.2 L1832.7 116.9 L1838.3 115.9 L1844 115.2 L1850 114.7 L1856.3 114.4 L1862.8 114.3 L1869.4 114.5 L1876 114.7 L1882.6 115.1 L1889.4 115.6 L1896 116.2 L1902.4 116.8 L1908.5 117.3 L1914.3 117.8 L1920.1 118.5 L1925.9 119.7 L1931.8 121.4 L1937.7 123.5 L1943.6 126 L1949.5 128.5 L1955.5 131.2 L1961.6 134.1 L1967.5 137.2 L1973 140.3 L1977.9 143.4 L1982.3 146.6 L1986.5 150 L1990.6 153.5 L1994.6 157.4 L1998.4 161.6 L2002 165.8 L2005.4 169.7 L2008.7 173.4 L2011.8 177.1 L2014.6 180.2 L2017.1 182.4 L2019.2 183.3 L2020.9 183.2 L2022.3 182.7 L2023.3 182.4" />
<path d="M1983 581 L1983 580.6 L1982.9 580 L1983.1 579.3 L1983.7 578.4 L1984.6 577.8 L1985.8 577.3 L1987.6 576.1 L1990.3 573.1 L1994.7 567.4 L2000.5 559.7 L2006 551.6 L2009.5 545 L2010.3 540.5 L2009.3 537.1 L2007.5 534 L2006 530 L2004.6 525.1 L2002.9 519.7 L2001.5 513.9 L2001 507.6 L2001.9 500.6 L2003.7 492.9 L2005.7 485.2 L2006.8 478.2 L2006.5 472 L2005.4 466.3 L2004.4 460.9 L2004.5 456 L2006.6 451.8 L2009.9 448.1 L2012.9 444.4 L2014 440 L2012 434.5 L2007.9 428.3 L2003.7 422 L2001 416 L2000.5 410.4 L2001.3 404.8 L2002.6 399.6 L2003.5 395 L2004 391.7 L2004.4 389.3 L2004.9 386.5 L2005.4 381.8 L2006 374.3 L2006.6 364.8 L2007.3 355 L2008.3 346.5 L2010 339.8 L2012.3 334 L2014 328.5 L2014.2 322.9 L2011.9 316.9 L2008 310.9 L2003.8 305 L2001 299.4 L2000.1 294.1 L2000.3 289 L2000.8 284.2 L2001 280 L2000.8 276.7 L2000.6 274 L2000.2 271.4 L1999.5 268.2 L1998.4 264.2 L1997 259.8 L1995.4 255.1 L1993.6 250.6 L1991.7 246.2 L1989.6 241.9 L1987.3 237.5 L1984.8 232.9 L1982.2 227.9 L1979.5 222.7 L1976.4 217.4 L1973 212.4 L1969 207.7 L1964.6 203.1 L1959.9 198.7 L1955.4 194.7 L1951.1 191 L1946.9 187.6 L1942.5 184.5 L1937.7 181.5 L1932.6 178.6 L1927.4 175.9 L1921.5 173.4 L1914.2 171.2 L1904.5 169.3 L1893 167.6 L1881.8 166.3 L1873 165.3 L1867.6 164.7 L1864.3 164.5 L1861.9 164.5 L1859.2 164.7 L1855.9 165.1 L1852.7 165.7 L1849.5 166.3 L1846.5 166.8 L1843.8 167 L1841.5 167 L1838.9 167.1 L1835.7 167.6 L1831.4 168.6 L1826.4 170 L1821.4 171.4 L1817.1 172.6 L1814 173.4 L1811.5 174 L1809.2 174.7 L1806.3 175.6 L1802.7 176.9 L1798.6 178.4 L1794.5 180 L1790.6 181.5 L1787.4 182.7 L1784.6 183.8 L1781.4 185.2 L1776.9 187.4 L1770.7 190.7 L1763.2 194.9 L1755.2 199.3 L1747.5 203.5 L1739.8 207.3 L1731.9 211.1 L1724.5 214.8 L1718.1 218.2 L1713.4 221.3 L1709.9 224.1 L1706.7 226.9 L1702.9 230 L1698 233.6 L1692.5 237.5 L1687.1 241.4 L1682.4 244.7 L1678.4 247.4 L1674.7 249.7 L1671.6 251.7 L1669.1 253.5 L1667.8 254.9 L1667.4 256 L1666.7 257.1 L1664.7 258.7 L1660.6 261.1 L1655.2 264 L1649.4 267 L1644.1 269.7 L1639.2 272.2 L1634.2 274.6 L1629.8 276.8 L1626.5 278.5 L1624.6 279.6 L1623.9 280.3 L1623.6 280.8 L1623.3 281.5 L1622.8 282.4 L1622.4 283.3 L1622.1 284.2 L1622.1 285.1 L1622.3 285.9 L1622.7 286.8 L1623.3 287.5 L1624 288 L1624.6 288.3 L1625.2 288.4 L1626.2 288.4 L1627.9 288.1 L1630.6 287.6 L1634.1 287 L1637.8 286.1 L1641.2 285.1 L1644.2 284 L1647.1 282.7 L1649.9 281.1 L1652.9 279.3 L1656.2 276.9 L1659.6 273.9 L1663 271.1 L1666.2 269 L1668.8 267.9 L1671.1 267.4 L1673.5 267.2 L1676.5 266.8 L1680.5 266.2 L1685.1 265.7 L1689.8 265.2 L1694.1 264.6 L1697.6 264.1 L1700.7 263.7 L1703.9 263.2 L1707.4 262.4 L1711.4 261.2 L1715.7 259.7 L1720.2 258.1 L1725 256.5 L1730 254.9 L1735.3 253.2 L1740.9 251.6 L1747.1 249.9 L1754.1 248.1 L1761.8 246.3 L1769.6 244.6 L1776.9 243.2 L1783.5 242.2 L1789.7 241.5 L1795.9 240.9 L1802.4 240.3 L1809.4 239.5 L1816.8 238.6 L1824.1 237.8 L1830.8 237.4 L1836.8 237.4 L1842.4 237.7 L1847.7 238.2 L1852.9 238.8 L1858.1 239.3 L1863.2 239.9 L1868.2 240.7 L1873 241.8 L1877.6 243.2 L1882.1 244.8 L1886.5 246.8 L1890.6 249.1 L1894.6 252 L1898.4 255.3 L1902 258.8 L1905.4 262.4 L1908.5 266 L1911.4 269.7 L1914.2 273.5 L1917.1 277.1 L1920 280.3 L1922.9 283.3 L1925.8 286.6 L1928.9 290.6 L1932.2 295.6 L1935.6 301.2 L1939 307.4 L1942.1 314.1 L1944.9 321.6 L1947.6 329.8 L1950.1 338.2 L1952.4 346.5 L1954.7 354.8 L1956.9 363.2 L1958.7 371.3 L1959.8 378.8 L1959.7 385.5 L1958.8 391.6 L1957.6 397.2 L1956.8 402.4 L1956.6 406.1 L1956.7 408.7 L1956.8 412.4 L1956.8 419.4 L1956.4 431.5 L1955.9 447.1 L1955.5 463.5 L1955.4 478.2 L1955.9 490.9 L1956.7 502.9 L1957.6 513.6 L1958.3 522.4 L1958.7 528.6 L1959 532.6 L1959.3 535.9 L1959.9 540 L1960.9 545.5 L1962.2 551.5 L1963.6 557.4 L1965.2 562.5 L1967.1 566.6 L1969.3 570.2 L1971.4 573.2 L1973.1 575.7 L1974.2 577.7 L1974.9 579.2 L1975.4 580.2 L1975.7 581" />
</g>
<rect x="1483.5" y="188.5" width="42.5" height="33" rx="4" fill="#fff" stroke="#000" stroke-width="2"/>
<text x="1503.9" y="210.3" font-size="24.6" text-anchor="middle">3<tspan font-style="italic">σ</tspan></text>
<rect x="1742.8" y="121.3" width="42.5" height="32.8" rx="4" fill="#fff" stroke="#000" stroke-width="2"/>
<text x="1763.2" y="143" font-size="24.6" text-anchor="middle">2<tspan font-style="italic">σ</tspan></text>
<rect x="1872.6" y="153.7" width="42.8" height="33.4" rx="4" fill="#fff" stroke="#000" stroke-width="2"/>
<text x="1893.1" y="175.7" font-size="24.6" text-anchor="middle">1<tspan font-style="italic">σ</tspan></text>
<circle cx="1749.7" cy="230.4" r="7.6" fill="#40e0d0"/>
<circle cx="1992.5" cy="550.1" r="7.55" fill="#0000ff"/>
<rect x="1271.2" y="77.1" width="752.1" height="504" fill="none" stroke="#000" stroke-width="2.6"/>
<path d="M1271.2 91.5h8.4M2023.3 91.5h-8.4M1271.2 105.9h8.4M2023.3 105.9h-8.4M1271.2 120.3h8.4M2023.3 120.3h-8.4M1271.2 134.7h8.4M2023.3 134.7h-8.4M1271.2 149.1h12.4M2023.3 149.1h-12.4M1271.2 163.5h8.4M2023.3 163.5h-8.4M1271.2 177.9h8.4M2023.3 177.9h-8.4M1271.2 192.3h8.4M2023.3 192.3h-8.4M1271.2 206.7h8.4M2023.3 206.7h-8.4M1271.2 221.1h12.4M2023.3 221.1h-12.4M1271.2 235.5h8.4M2023.3 235.5h-8.4M1271.2 249.9h8.4M2023.3 249.9h-8.4M1271.2 264.3h8.4M2023.3 264.3h-8.4M1271.2 278.7h8.4M2023.3 278.7h-8.4M1271.2 293.1h12.4M2023.3 293.1h-12.4M1271.2 307.5h8.4M2023.3 307.5h-8.4M1271.2 321.9h8.4M2023.3 321.9h-8.4M1271.2 336.3h8.4M2023.3 336.3h-8.4M1271.2 350.7h8.4M2023.3 350.7h-8.4M1271.2 365.1h12.4M2023.3 365.1h-12.4M1271.2 379.5h8.4M2023.3 379.5h-8.4M1271.2 393.9h8.4M2023.3 393.9h-8.4M1271.2 408.3h8.4M2023.3 408.3h-8.4M1271.2 422.7h8.4M2023.3 422.7h-8.4M1271.2 437.1h12.4M2023.3 437.1h-12.4M1271.2 451.5h8.4M2023.3 451.5h-8.4M1271.2 465.9h8.4M2023.3 465.9h-8.4M1271.2 480.3h8.4M2023.3 480.3h-8.4M1271.2 494.7h8.4M2023.3 494.7h-8.4M1271.2 509.1h12.4M2023.3 509.1h-12.4M1271.2 523.5h8.4M2023.3 523.5h-8.4M1271.2 537.9h8.4M2023.3 537.9h-8.4M1271.2 552.3h8.4M2023.3 552.3h-8.4M1271.2 566.7h8.4M2023.3 566.7h-8.4M1284.3 581.1v-8.4M1323.3 581.1v-8.4M1346.2 581.1v-8.4M1362.4 581.1v-8.4M1374.9 581.1v-12.4M1414 581.1v-8.4M1453 581.1v-8.4M1475.8 581.1v-8.4M1492 581.1v-8.4M1504.6 581.1v-12.4M1543.6 581.1v-8.4M1582.7 581.1v-8.4M1605.5 581.1v-8.4M1621.7 581.1v-8.4M1634.3 581.1v-12.4M1673.3 581.1v-8.4M1712.4 581.1v-8.4M1735.2 581.1v-8.4M1751.4 581.1v-8.4M1764 581.1v-12.4M1803 581.1v-8.4M1842 581.1v-8.4M1864.9 581.1v-8.4M1881.1 581.1v-8.4M1893.6 581.1v-12.4M1932.7 581.1v-8.4M1971.7 581.1v-8.4M1994.5 581.1v-8.4M2010.7 581.1v-8.4M1290.9 77.1v8.4M1313.8 77.1v8.4M1330 77.1v8.4M1342.5 77.1v12.4M1381.6 77.1v8.4M1420.6 77.1v8.4M1443.4 77.1v8.4M1459.6 77.1v8.4M1472.2 77.1v12.4M1511.2 77.1v8.4M1550.3 77.1v8.4M1573.1 77.1v8.4M1589.3 77.1v8.4M1601.9 77.1v12.4M1640.9 77.1v8.4M1679.9 77.1v8.4M1702.8 77.1v8.4M1719 77.1v8.4M1731.5 77.1v12.4M1770.6 77.1v8.4M1809.6 77.1v8.4M1832.4 77.1v8.4M1848.6 77.1v8.4M1861.2 77.1v12.4M1900.2 77.1v8.4M1939.3 77.1v8.4M1962.1 77.1v8.4M1978.3 77.1v8.4M1990.9 77.1v12.4" stroke="#000" stroke-width="2" fill="none"/>
<text x="1260.9" y="89.1" font-size="34.8" text-anchor="end">10<tspan dy="-12.5" font-size="24.4">−2</tspan></text>
<text x="1260.9" y="161.1" font-size="34.8" text-anchor="end">10<tspan dy="-12.5" font-size="24.4">−1</tspan></text>
<text x="1260.9" y="233.1" font-size="34.8" text-anchor="end">10<tspan dy="-12.5" font-size="24.4">0</tspan></text>
<text x="1260.9" y="305.1" font-size="34.8" text-anchor="end">10<tspan dy="-12.5" font-size="24.4">1</tspan></text>
<text x="1260.9" y="377.1" font-size="34.8" text-anchor="end">10<tspan dy="-12.5" font-size="24.4">2</tspan></text>
<text x="1260.9" y="449.1" font-size="34.8" text-anchor="end">10<tspan dy="-12.5" font-size="24.4">3</tspan></text>
<text x="1260.9" y="521.1" font-size="34.8" text-anchor="end">10<tspan dy="-12.5" font-size="24.4">4</tspan></text>
<text x="1260.9" y="593.1" font-size="34.8" text-anchor="end">10<tspan dy="-12.5" font-size="24.4">5</tspan></text>
<text x="1373.7" y="613.3" font-size="34.8" text-anchor="middle">10<tspan dy="-12.5" font-size="24.4">−5</tspan></text>
<text x="1503.4" y="613.3" font-size="34.8" text-anchor="middle">10<tspan dy="-12.5" font-size="24.4">−4</tspan></text>
<text x="1633.1" y="613.3" font-size="34.8" text-anchor="middle">10<tspan dy="-12.5" font-size="24.4">−3</tspan></text>
<text x="1762.8" y="613.3" font-size="34.8" text-anchor="middle">10<tspan dy="-12.5" font-size="24.4">−2</tspan></text>
<text x="1892.4" y="613.3" font-size="34.8" text-anchor="middle">10<tspan dy="-12.5" font-size="24.4">−1</tspan></text>
<text x="2022.1" y="613.3" font-size="34.8" text-anchor="middle">10<tspan dy="-12.5" font-size="24.4">0</tspan></text>
<text x="1342.5" y="63.2" font-size="34.8" text-anchor="middle">0.01</text>
<text x="1472.2" y="63.2" font-size="34.8" text-anchor="middle">0.1</text>
<text x="1601.9" y="63.2" font-size="34.8" text-anchor="middle">1</text>
<text x="1731.5" y="63.2" font-size="34.8" text-anchor="middle">10</text>
<text x="1861.2" y="63.2" font-size="34.8" text-anchor="middle">100</text>
<text x="1990.9" y="63.2" font-size="34.8" text-anchor="middle">1000</text>
<text x="1647.2" y="26.2" font-size="34.8" text-anchor="middle">H<tspan dy="5.5" font-size="24.4">2</tspan><tspan dy="-5.5">O relative to solar</tspan></text>
<text x="1647.2" y="657.5" font-size="34.8" text-anchor="middle">H<tspan dy="5.5" font-size="24.4">2</tspan><tspan dy="-5.5">O mixing ratio</tspan></text>
<text transform="translate(1166.6 329.4) rotate(-90)" font-size="34.4" text-anchor="middle">Cloud top pressure [mbar]</text></svg></body></html>
